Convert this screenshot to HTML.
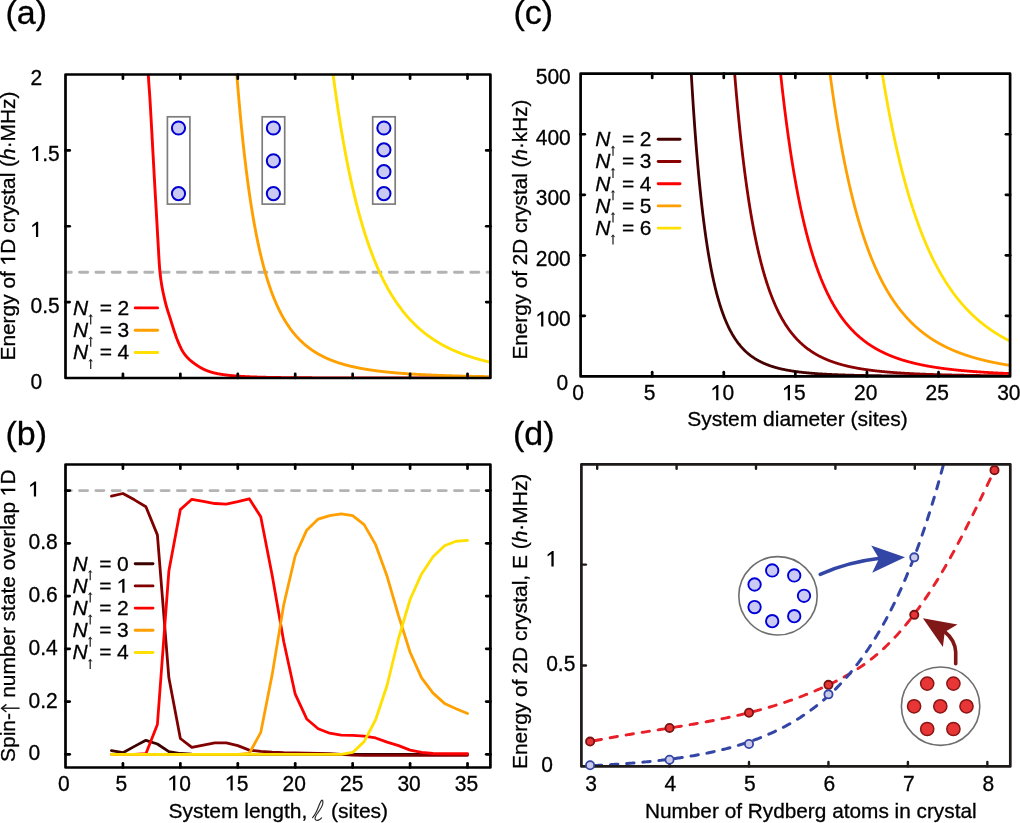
<!DOCTYPE html><html><head><meta charset="utf-8"><style>html,body{margin:0;padding:0;background:#fff;width:1020px;height:823px;overflow:hidden}</style></head><body><svg width="1020" height="823" viewBox="0 0 1020 823" style="display:block;will-change:transform">
<rect width="1020" height="823" fill="#fff"/>
<defs><clipPath id="ca"><rect x="65.5" y="74.5" width="424.9" height="303.5"/></clipPath><clipPath id="cb"><rect x="65.5" y="464.5" width="424.9" height="303.0"/></clipPath><clipPath id="cc"><rect x="580.6" y="73.7" width="429.5" height="302.7"/></clipPath><clipPath id="cd"><rect x="581.4" y="464.3" width="428.9" height="302.09999999999997"/></clipPath></defs>
<text x="5.50" y="24.40" font-family="'Liberation Sans', sans-serif" font-size="34" fill="#000" text-anchor="start" stroke="#000" stroke-width="0.3" >(a)</text>
<text x="5.50" y="444.90" font-family="'Liberation Sans', sans-serif" font-size="34" fill="#000" text-anchor="start" stroke="#000" stroke-width="0.3" >(b)</text>
<text x="513.50" y="24.20" font-family="'Liberation Sans', sans-serif" font-size="34" fill="#000" text-anchor="start" stroke="#000" stroke-width="0.3" >(c)</text>
<text x="513.00" y="444.90" font-family="'Liberation Sans', sans-serif" font-size="34" fill="#000" text-anchor="start" stroke="#000" stroke-width="0.3" >(d)</text>
<line x1="66.9" y1="272.2" x2="489.0" y2="272.2" stroke="#b3b3b3" stroke-width="2.9" stroke-dasharray="8.1 8.2" stroke-dashoffset="3.65" stroke-linecap="round"/>
<g clip-path="url(#ca)" fill="none" stroke-width="2.9" stroke-linejoin="round">
<path d="M146.65,30.13 L146.83,36.32 L147.02,42.19 L147.21,47.74 L147.39,52.98 L147.58,57.92 L147.77,62.56 L147.95,66.91 L148.14,70.97 L148.33,74.75 L148.51,78.16 L148.70,81.21 L148.89,83.99 L149.07,86.60 L149.26,89.13 L149.45,91.66 L149.63,94.28 L149.82,97.06 L150.01,100.08 L150.19,103.25 L150.38,106.46 L150.57,109.71 L150.75,112.98 L150.94,116.27 L151.13,119.59 L151.31,122.93 L151.50,126.28 L151.69,129.65 L151.87,133.03 L152.06,136.43 L152.25,139.83 L152.44,143.23 L152.62,146.64 L152.81,150.05 L153.00,153.46 L153.18,156.86 L153.37,160.26 L153.56,163.65 L153.74,167.04 L153.93,170.41 L154.12,173.77 L154.30,177.11 L154.49,180.44 L154.68,183.75 L154.86,187.04 L155.05,190.31 L155.24,193.56 L155.42,196.79 L155.61,199.99 L155.80,203.16 L155.98,206.31 L156.17,209.43 L156.36,212.57 L156.54,215.83 L156.73,219.16 L156.92,222.54 L157.10,225.94 L157.29,229.32 L157.48,232.67 L157.66,235.95 L157.85,239.15 L158.04,242.31 L158.22,245.57 L158.41,248.88 L158.60,252.19 L158.78,255.44 L158.97,258.58 L159.16,261.57 L159.34,264.38 L159.53,266.96 L159.72,269.29 L159.90,271.34 L160.09,273.12 L160.28,274.77 L160.46,276.34 L160.65,277.83 L160.84,279.25 L161.03,280.60 L161.21,281.89 L161.40,283.12 L161.59,284.30 L161.77,285.43 L161.96,286.52 L162.15,287.56 L162.33,288.57 L162.52,289.55 L162.71,290.49 L162.89,291.41 L163.08,292.31 L163.27,293.19 L163.45,294.05 L163.64,294.90 L163.83,295.74 L164.01,296.56 L164.20,297.39 L164.39,298.20 L164.57,299.02 L164.76,299.84 L164.95,300.65 L165.13,301.44 L165.32,302.21 L165.51,302.96 L165.69,303.69 L165.88,304.40 L166.07,305.09 L166.25,305.77 L166.44,306.43 L166.63,307.09 L166.81,307.73 L167.00,308.36 L167.19,308.98 L167.37,309.59 L167.56,310.19 L167.75,310.79 L167.93,311.39 L168.12,311.97 L168.31,312.56 L168.49,313.14 L168.68,313.72 L168.87,314.30 L169.05,314.87 L169.24,315.45 L169.43,316.03 L169.62,316.61 L169.80,317.19 L169.99,317.77 L170.18,318.36 L170.36,318.95 L170.55,319.55 L170.74,320.15 L170.92,320.75 L171.11,321.35 L171.30,321.96 L171.48,322.56 L171.67,323.17 L171.86,323.77 L172.04,324.37 L172.23,324.97 L172.42,325.57 L172.60,326.17 L172.79,326.76 L172.98,327.35 L173.16,327.94 L173.35,328.52 L173.54,329.10 L173.72,329.68 L173.91,330.25 L174.10,330.81 L174.28,331.37 L174.47,331.93 L174.66,332.48 L174.84,333.02 L175.03,333.56 L175.22,334.09 L175.40,334.62 L175.59,335.14 L175.78,335.66 L175.96,336.17 L176.15,336.69 L176.34,337.20 L176.52,337.71 L176.71,338.21 L176.90,338.71 L177.08,339.21 L177.27,339.70 L177.46,340.18 L177.65,340.66 L177.83,341.13 L178.02,341.60 L178.21,342.06 L178.39,342.51 L178.58,342.96 L178.77,343.40 L178.95,343.83 L179.14,344.26 L179.33,344.68 L179.51,345.09 L179.70,345.51 L179.89,345.92 L180.07,346.33 L180.26,346.73 L180.45,347.12 L180.63,347.52 L180.82,347.90 L181.01,348.28 L181.19,348.65 L181.38,349.01 L181.57,349.37 L181.75,349.72 L181.94,350.06 L182.13,350.39 L182.31,350.72 L182.50,351.03 L182.69,351.34 L182.87,351.64 L183.06,351.93 L183.25,352.22 L183.43,352.50 L183.62,352.78 L183.81,353.05 L183.99,353.32 L184.18,353.58 L184.37,353.84 L184.55,354.10 L184.74,354.34 L184.93,354.59 L185.11,354.83 L185.30,355.07 L185.49,355.30 L185.67,355.53 L185.86,355.76 L186.05,355.98 L186.24,356.20 L186.42,356.42 L186.61,356.63 L186.80,356.85 L186.98,357.05 L187.17,357.26 L187.36,357.47 L187.54,357.67 L187.73,357.87 L187.92,358.06 L188.10,358.26 L188.29,358.45 L188.48,358.64 L188.66,358.82 L188.85,359.00 L189.04,359.18 L189.22,359.36 L189.41,359.53 L189.60,359.70 L189.78,359.87 L189.97,360.04 L190.16,360.21 L190.34,360.37 L190.53,360.53 L190.72,360.69 L190.90,360.84 L191.09,361.00 L191.28,361.15 L191.46,361.31 L191.65,361.46 L191.84,361.60 L192.02,361.75 L192.21,361.90 L192.40,362.04 L192.58,362.19 L192.77,362.33 L192.96,362.47 L193.14,362.61 L193.33,362.75 L193.52,362.89 L193.70,363.03 L193.89,363.17 L194.08,363.30 L194.27,363.44 L194.45,363.57 L194.64,363.71 L194.83,363.84 L195.01,363.97 L195.20,364.11 L195.39,364.24 L195.57,364.37 L195.76,364.50 L195.95,364.63 L196.13,364.76 L196.32,364.89 L196.51,365.02 L196.69,365.15 L196.88,365.27 L197.07,365.40 L197.25,365.52 L197.44,365.65 L197.63,365.77 L197.81,365.89 L198.00,366.02 L198.19,366.14 L198.37,366.26 L198.56,366.38 L198.75,366.49 L198.93,366.61 L199.12,366.73 L199.31,366.84 L199.49,366.96 L199.68,367.07 L199.87,367.18 L200.05,367.29 L200.24,367.40 L200.43,367.51 L200.61,367.62 L200.80,367.73 L200.99,367.83 L201.17,367.94 L201.36,368.04 L201.55,368.15 L201.73,368.25 L201.92,368.35 L202.11,368.45 L202.29,368.55 L202.48,368.64 L202.67,368.74 L202.86,368.83 L203.04,368.93 L203.23,369.02 L203.42,369.11 L203.60,369.20 L203.79,369.29 L203.98,369.38 L204.16,369.47 L204.35,369.56 L204.54,369.64 L204.72,369.73 L204.91,369.81 L205.10,369.89 L205.28,369.97 L205.47,370.05 L205.66,370.13 L205.84,370.21 L206.03,370.28 L206.22,370.36 L206.40,370.43 L206.59,370.51 L206.78,370.58 L206.96,370.65 L207.15,370.73 L207.34,370.80 L207.52,370.87 L207.71,370.94 L207.90,371.00 L208.08,371.07 L208.27,371.14 L208.46,371.21 L208.64,371.27 L208.83,371.34 L209.02,371.40 L209.20,371.46 L209.39,371.53 L209.58,371.59 L209.76,371.65 L209.95,371.71 L210.14,371.77 L210.32,371.83 L210.51,371.89 L210.70,371.95 L210.88,372.01 L211.07,372.06 L211.26,372.12 L211.45,372.18 L211.63,372.23 L211.82,372.29 L212.01,372.34 L212.19,372.39 L212.38,372.45 L212.57,372.50 L212.75,372.55 L212.94,372.60 L213.13,372.65 L213.31,372.70 L213.50,372.75 L213.69,372.80 L213.87,372.85 L214.06,372.90 L214.25,372.95 L214.43,372.99 L214.62,373.04 L214.81,373.09 L214.99,373.13 L215.18,373.17 L215.37,373.21 L215.55,373.25 L215.74,373.29 L215.93,373.33 L216.11,373.37 L216.30,373.41 L216.49,373.45 L216.67,373.49 L216.86,373.52 L217.05,373.56 L217.23,373.60 L217.42,373.63 L217.61,373.67 L217.79,373.71 L217.98,373.74 L218.17,373.78 L218.35,373.81 L218.54,373.85 L218.73,373.88 L218.91,373.91 L219.10,373.95 L219.29,373.98 L219.48,374.01 L219.66,374.04 L219.85,374.08 L220.04,374.11 L220.22,374.14 L220.41,374.17 L220.60,374.20 L220.78,374.23 L220.97,374.26 L221.16,374.29 L221.34,374.32 L221.53,374.35 L221.72,374.38 L221.90,374.41 L222.09,374.44 L222.28,374.47 L222.46,374.50 L222.65,374.52 L222.84,374.55 L223.02,374.58 L223.21,374.61 L223.40,374.63 L223.58,374.66 L223.77,374.69 L223.96,374.71 L224.14,374.74 L224.33,374.77 L224.52,374.79 L224.70,374.82 L224.89,374.84 L225.08,374.87 L225.26,374.89 L225.45,374.91 L225.64,374.94 L225.82,374.96 L226.01,374.99 L226.20,375.01 L226.38,375.03 L226.57,375.06 L226.76,375.08 L226.94,375.10 L227.13,375.12 L227.32,375.15 L227.50,375.17 L227.69,375.19 L227.88,375.21 L228.07,375.23 L228.25,375.25 L228.44,375.28 L228.63,375.30 L228.81,375.32 L229.00,375.34 L229.19,375.36 L229.37,375.38 L229.56,375.40 L229.75,375.42 L229.93,375.44 L230.12,375.46 L230.31,375.48 L230.49,375.50 L230.68,375.51 L230.87,375.53 L231.05,375.55 L231.24,375.57 L231.43,375.59 L231.61,375.61 L231.80,375.63 L231.99,375.64 L232.17,375.66 L232.36,375.68 L232.55,375.70 L232.73,375.71 L232.92,375.73 L233.11,375.75 L233.29,375.76 L233.48,375.78 L233.67,375.80 L233.85,375.81 L234.04,375.83 L234.23,375.85 L234.41,375.86 L234.60,375.88 L234.79,375.89 L234.97,375.91 L235.16,375.92 L235.35,375.94 L235.53,375.95 L235.72,375.97 L235.91,375.98 L236.09,376.00 L236.28,376.01 L236.47,376.03 L236.66,376.04 L236.84,376.06 L237.03,376.07 L237.22,376.08 L237.40,376.10 L237.59,376.11 L237.78,376.13 L237.96,376.14 L238.15,376.15 L238.34,376.17 L238.52,376.18 L238.71,376.19 L238.90,376.21 L239.08,376.22 L239.27,376.23 L239.46,376.24 L239.64,376.26 L239.83,376.27 L240.02,376.28 L240.20,376.29 L240.39,376.31 L240.58,376.32 L240.76,376.33 L240.95,376.34 L241.14,376.35 L241.32,376.36 L241.51,376.38 L241.70,376.39 L241.88,376.40 L242.07,376.41 L242.26,376.42 L242.44,376.43 L242.63,376.44 L242.82,376.45 L243.00,376.47 L243.19,376.48 L243.38,376.49 L243.56,376.50 L243.75,376.51 L243.94,376.52 L244.12,376.53 L244.31,376.54 L244.50,376.55 L244.69,376.56 L244.87,376.57 L245.06,376.58 L245.25,376.59 L245.43,376.60 L245.62,376.61 L245.81,376.62 L245.99,376.63 L246.18,376.64 L246.37,376.65 L246.55,376.66 L246.74,376.67 L246.93,376.67 L247.11,376.68 L247.30,376.69 L247.49,376.70 L247.67,376.71 L247.86,376.72 L248.05,376.73 L248.23,376.74 L248.42,376.74 L248.61,376.75 L248.79,376.76 L248.98,376.77 L249.17,376.78 L249.35,376.79 L249.54,376.79 L249.73,376.80 L249.91,376.81 L250.10,376.82 L250.29,376.83 L250.47,376.84 L250.66,376.84 L250.85,376.85 L251.03,376.86 L251.22,376.87 L251.41,376.87 L251.59,376.88 L251.78,376.89 L251.97,376.90 L252.15,376.90 L252.34,376.91 L252.53,376.92 L252.71,376.92 L252.90,376.93 L253.09,376.94 L253.28,376.95 L253.46,376.95 L253.65,376.96 L253.84,376.97 L254.02,376.97 L254.21,376.98 L254.40,376.99 L254.58,376.99 L254.77,377.00 L254.96,377.01 L255.14,377.01 L255.33,377.02 L255.52,377.03 L255.70,377.03 L255.89,377.04 L256.08,377.05 L256.26,377.05 L256.45,377.06 L256.64,377.06 L256.82,377.07 L257.01,377.08 L257.20,377.08 L257.38,377.09 L257.57,377.09 L257.76,377.10 L257.94,377.11 L258.13,377.11 L258.32,377.12 L258.50,377.12 L258.69,377.13 L258.88,377.13 L259.06,377.14 L259.25,377.14 L259.44,377.15 L259.62,377.16 L259.81,377.16 L260.00,377.17 L260.18,377.17 L260.37,377.18 L260.56,377.18 L260.74,377.19 L260.93,377.19 L261.12,377.20 L261.30,377.20 L261.49,377.21 L261.68,377.21 L261.87,377.22 L262.05,377.22 L262.24,377.23 L262.43,377.23 L262.61,377.24 L262.80,377.24 L262.99,377.25 L263.17,377.25 L263.36,377.26 L263.55,377.26 L263.73,377.27 L263.92,377.27 L264.11,377.27 L264.29,377.28 L264.48,377.28 L264.67,377.29 L264.85,377.29 L265.04,377.30 L265.23,377.30 L265.41,377.31 L265.60,377.31 L265.79,377.31 L265.97,377.32 L266.16,377.32 L266.35,377.33 L266.53,377.33 L266.72,377.33 L266.91,377.34 L267.09,377.34 L267.28,377.35 L267.47,377.35 L267.65,377.36 L267.84,377.36 L268.03,377.36 L268.21,377.37 L268.40,377.37 L268.59,377.37 L268.77,377.38 L268.96,377.38 L269.15,377.39 L269.33,377.39 L269.52,377.39 L269.71,377.40 L269.90,377.40 L270.08,377.40 L270.27,377.41 L270.46,377.41 L270.64,377.41 L270.83,377.42 L271.02,377.42 L271.20,377.43 L271.39,377.43 L271.58,377.43 L271.76,377.44 L271.95,377.44 L272.14,377.44 L272.32,377.45 L272.51,377.45 L272.70,377.45 L272.88,377.46 L273.07,377.46 L273.26,377.46 L273.44,377.47 L273.63,377.47 L273.82,377.47 L274.00,377.47 L274.19,377.48 L274.38,377.48 L274.56,377.48 L274.75,377.49 L274.94,377.49 L275.12,377.49 L275.31,377.50 L275.50,377.50 L275.68,377.50 L275.87,377.50 L276.06,377.51 L276.24,377.51 L276.43,377.51 L276.62,377.52 L276.80,377.52 L276.99,377.52 L277.18,377.52 L277.36,377.53 L277.55,377.53 L277.74,377.53 L277.92,377.54 L278.11,377.54 L278.30,377.54 L278.49,377.54 L278.67,377.55 L278.86,377.55 L279.05,377.55 L279.23,377.55 L279.42,377.56 L279.61,377.56 L279.79,377.56 L279.98,377.56 L280.17,377.57 L280.35,377.57 L280.54,377.57 L280.73,377.57 L280.91,377.58 L281.10,377.58 L281.29,377.58 L281.47,377.58 L281.66,377.59 L281.85,377.59 L282.03,377.59 L282.22,377.59 L282.41,377.60 L282.59,377.60 L282.78,377.60 L282.97,377.60 L283.15,377.60 L283.34,377.61 L283.53,377.61 L283.71,377.61 L283.90,377.61 L284.09,377.62 L284.27,377.62 L284.46,377.62 L284.65,377.62 L284.83,377.62 L285.02,377.63 L285.21,377.63 L285.39,377.63 L285.58,377.63 L285.77,377.63 L285.95,377.64 L286.14,377.64 L286.33,377.64 L286.52,377.64 L286.70,377.64 L286.89,377.65 L287.08,377.65 L287.26,377.65 L287.45,377.65 L287.64,377.65 L287.82,377.66 L288.01,377.66 L288.20,377.66 L288.38,377.66 L288.57,377.66 L288.76,377.67 L288.94,377.67 L289.13,377.67 L289.32,377.67 L289.50,377.67 L289.69,377.68 L289.88,377.68 L290.06,377.68 L290.25,377.68 L290.44,377.68 L290.62,377.68 L290.81,377.69 L291.00,377.69 L291.18,377.69 L291.37,377.69 L291.56,377.69 L291.74,377.69 L291.93,377.70 L292.12,377.70 L292.30,377.70 L292.49,377.70 L292.68,377.70 L292.86,377.70 L293.05,377.71 L293.24,377.71 L293.42,377.71 L293.61,377.71 L293.80,377.71 L293.98,377.71 L294.17,377.71 L294.36,377.72 L294.54,377.72 L294.73,377.72 L294.92,377.72 L295.11,377.72 L295.29,377.72 L295.48,377.73 L295.67,377.73 L295.85,377.73 L296.04,377.73 L296.23,377.73 L296.41,377.73 L296.60,377.73 L296.79,377.74 L296.97,377.74 L297.16,377.74 L297.35,377.74 L297.53,377.74 L297.72,377.74 L297.91,377.74 L298.09,377.75 L298.28,377.75 L298.47,377.75 L298.65,377.75 L298.84,377.75 L299.03,377.75 L299.21,377.75 L299.40,377.75 L299.59,377.76 L299.77,377.76 L299.96,377.76 L300.15,377.76 L300.33,377.76 L300.52,377.76 L300.71,377.76 L300.89,377.76 L301.08,377.77 L301.27,377.77 L301.45,377.77 L301.64,377.77 L301.83,377.77 L302.01,377.77 L302.20,377.77 L302.39,377.77 L302.57,377.78 L302.76,377.78 L302.95,377.78 L303.13,377.78 L303.32,377.78 L303.51,377.78 L303.70,377.78 L303.88,377.78 L304.07,377.78 L304.26,377.79 L304.44,377.79 L304.63,377.79 L304.82,377.79 L305.00,377.79 L305.19,377.79 L305.38,377.79 L305.56,377.79 L305.75,377.79 L305.94,377.80 L306.12,377.80 L306.31,377.80 L306.50,377.80 L306.68,377.80 L306.87,377.80 L307.06,377.80 L307.24,377.80 L307.43,377.80 L307.62,377.80 L307.80,377.81 L307.99,377.81 L308.18,377.81 L308.36,377.81 L308.55,377.81 L308.74,377.81 L308.92,377.81 L309.11,377.81 L309.30,377.81 L309.48,377.81 L309.67,377.82 L309.86,377.82 L310.04,377.82 L310.23,377.82 L310.42,377.82 L310.60,377.82 L310.79,377.82 L310.98,377.82 L311.16,377.82 L311.35,377.82 L311.54,377.82 L311.73,377.82 L311.91,377.83 L312.10,377.83 L312.29,377.83 L312.47,377.83 L312.66,377.83 L312.85,377.83 L313.03,377.83 L313.22,377.83 L313.41,377.83 L313.59,377.83 L313.78,377.83 L313.97,377.84 L314.15,377.84 L314.34,377.84 L314.53,377.84 L314.71,377.84 L314.90,377.84 L315.09,377.84 L315.27,377.84 L315.46,377.84 L315.65,377.84 L315.83,377.84 L316.02,377.84 L316.21,377.84 L316.39,377.85 L316.58,377.85 L316.77,377.85 L316.95,377.85 L317.14,377.85 L317.33,377.85 L317.51,377.85 L317.70,377.85 L317.89,377.85 L318.07,377.85 L318.26,377.85 L318.45,377.85 L318.63,377.85 L318.82,377.85 L319.01,377.86 L319.19,377.86 L319.38,377.86 L319.57,377.86 L319.75,377.86 L319.94,377.86 L320.13,377.86 L320.32,377.86 L320.50,377.86 L320.69,377.86 L320.88,377.86 L321.06,377.86 L321.25,377.86 L321.44,377.86 L321.62,377.86 L321.81,377.87 L322.00,377.87 L322.18,377.87 L322.37,377.87 L322.56,377.87 L322.74,377.87 L322.93,377.87 L323.12,377.87 L323.30,377.87 L323.49,377.87 L323.68,377.87 L323.86,377.87 L324.05,377.87 L324.24,377.87 L324.42,377.87 L324.61,377.87 L324.80,377.88 L324.98,377.88 L325.17,377.88 L325.36,377.88 L325.54,377.88 L325.73,377.88 L325.92,377.88 L326.10,377.88 L326.29,377.88 L326.48,377.88 L326.66,377.88 L326.85,377.88 L327.04,377.88 L327.22,377.88 L327.41,377.88 L327.60,377.88 L327.78,377.88 L327.97,377.89 L328.16,377.89 L328.34,377.89 L328.53,377.89 L328.72,377.89 L328.91,377.89 L329.09,377.89 L329.28,377.89 L329.47,377.89 L329.65,377.89 L329.84,377.89 L330.03,377.89 L330.21,377.89 L330.40,377.89 L330.59,377.89 L330.77,377.89 L330.96,377.89 L331.15,377.89 L331.33,377.89 L331.52,377.89 L331.71,377.90 L331.89,377.90 L332.08,377.90 L332.27,377.90 L332.45,377.90 L332.64,377.90 L332.83,377.90 L333.01,377.90 L333.20,377.90 L333.39,377.90 L333.57,377.90 L333.76,377.90 L333.95,377.90 L334.13,377.90 L334.32,377.90 L334.51,377.90 L334.69,377.90 L334.88,377.90 L335.07,377.90 L335.25,377.90 L335.44,377.90 L335.63,377.90 L335.81,377.91 L336.00,377.91 L336.19,377.91 L336.37,377.91 L336.56,377.91 L336.75,377.91 L336.94,377.91 L337.12,377.91 L337.31,377.91 L337.50,377.91 L337.68,377.91 L337.87,377.91 L338.06,377.91 L338.24,377.91 L338.43,377.91 L338.62,377.91 L338.80,377.91 L338.99,377.91 L339.18,377.91 L339.36,377.91 L339.55,377.91 L339.74,377.91 L339.92,377.91 L340.11,377.91 L340.30,377.91 L340.48,377.92 L340.67,377.92 L340.86,377.92 L341.04,377.92 L341.23,377.92 L341.42,377.92 L341.60,377.92 L341.79,377.92 L341.98,377.92 L342.16,377.92 L342.35,377.92 L342.54,377.92 L342.72,377.92 L342.91,377.92 L343.10,377.92 L343.28,377.92 L343.47,377.92 L343.66,377.92 L343.84,377.92 L344.03,377.92 L344.22,377.92 L344.40,377.92 L344.59,377.92 L344.78,377.92 L344.96,377.92 L345.15,377.92 L345.34,377.92 L345.53,377.92 L345.71,377.93 L345.90,377.93 L346.09,377.93 L346.27,377.93 L346.46,377.93 L346.65,377.93 L346.83,377.93 L347.02,377.93 L347.21,377.93 L347.39,377.93 L347.58,377.93 L347.77,377.93 L347.95,377.93 L348.14,377.93 L348.33,377.93 L348.51,377.93 L348.70,377.93 L348.89,377.93 L349.07,377.93 L349.26,377.93 L349.45,377.93 L349.63,377.93 L349.82,377.93 L350.01,377.93 L350.19,377.93 L350.38,377.93 L350.57,377.93 L350.75,377.93 L350.94,377.93 L351.13,377.93 L351.31,377.93 L351.50,377.93 L351.69,377.93 L351.87,377.94 L352.06,377.94 L352.25,377.94 L352.43,377.94 L352.62,377.94 L352.81,377.94 L352.99,377.94 L353.18,377.94 L353.37,377.94 L353.55,377.94 L353.74,377.94 L353.93,377.94 L354.12,377.94 L354.30,377.94 L354.49,377.94 L354.68,377.94 L354.86,377.94 L355.05,377.94 L355.24,377.94 L355.42,377.94 L355.61,377.94 L355.80,377.94 L355.98,377.94 L356.17,377.94 L356.36,377.94 L356.54,377.94 L356.73,377.94 L356.92,377.94 L357.10,377.94 L357.29,377.94 L357.48,377.94 L357.66,377.94 L357.85,377.94 L358.04,377.94 L358.22,377.94 L358.41,377.94 L358.60,377.94 L358.78,377.94 L358.97,377.94 L359.16,377.94 L359.34,377.95 L359.53,377.95 L359.72,377.95 L359.90,377.95 L360.09,377.95 L360.28,377.95 L360.46,377.95 L360.65,377.95 L360.84,377.95 L361.02,377.95 L361.21,377.95 L361.40,377.95 L361.58,377.95 L361.77,377.95 L361.96,377.95 L362.15,377.95 L362.33,377.95 L362.52,377.95 L362.71,377.95 L362.89,377.95 L363.08,377.95 L363.27,377.95 L363.45,377.95 L363.64,377.95 L363.83,377.95 L364.01,377.95 L364.20,377.95 L364.39,377.95 L364.57,377.95 L364.76,377.95 L364.95,377.95 L365.13,377.95 L365.32,377.95 L365.51,377.95 L365.69,377.95 L365.88,377.95 L366.07,377.95 L366.25,377.95 L366.44,377.95 L366.63,377.95 L366.81,377.95 L367.00,377.95 L367.19,377.95 L367.37,377.95 L367.56,377.95 L367.75,377.95 L367.93,377.95 L368.12,377.95 L368.31,377.95 L368.49,377.96 L368.68,377.96 L368.87,377.96 L369.05,377.96 L369.24,377.96 L369.43,377.96 L369.61,377.96 L369.80,377.96 L369.99,377.96 L370.17,377.96 L370.36,377.96 L370.55,377.96 L370.74,377.96 L370.92,377.96 L371.11,377.96 L371.30,377.96 L371.48,377.96 L371.67,377.96 L371.86,377.96 L372.04,377.96 L372.23,377.96 L372.42,377.96 L372.60,377.96 L372.79,377.96 L372.98,377.96 L373.16,377.96 L373.35,377.96 L373.54,377.96 L373.72,377.96 L373.91,377.96 L374.10,377.96 L374.28,377.96 L374.47,377.96 L374.66,377.96 L374.84,377.96 L375.03,377.96 L375.22,377.96 L375.40,377.96 L375.59,377.96 L375.78,377.96 L375.96,377.96 L376.15,377.96 L376.34,377.96 L376.52,377.96 L376.71,377.96 L376.90,377.96 L377.08,377.96 L377.27,377.96 L377.46,377.96 L377.64,377.96 L377.83,377.96 L378.02,377.96 L378.20,377.96 L378.39,377.96 L378.58,377.96 L378.76,377.96 L378.95,377.96 L379.14,377.96 L379.33,377.96 L379.51,377.96 L379.70,377.96 L379.89,377.96 L380.07,377.96 L380.26,377.96 L380.45,377.97 L380.63,377.97 L380.82,377.97 L381.01,377.97 L381.19,377.97 L381.38,377.97 L381.57,377.97 L381.75,377.97 L381.94,377.97 L382.13,377.97 L382.31,377.97 L382.50,377.97 L382.69,377.97 L382.87,377.97 L383.06,377.97 L383.25,377.97 L383.43,377.97 L383.62,377.97 L383.81,377.97 L383.99,377.97 L384.18,377.97 L384.37,377.97 L384.55,377.97 L384.74,377.97 L384.93,377.97 L385.11,377.97 L385.30,377.97 L385.49,377.97 L385.67,377.97 L385.86,377.97 L386.05,377.97 L386.23,377.97 L386.42,377.97 L386.61,377.97 L386.79,377.97 L386.98,377.97 L387.17,377.97 L387.36,377.97 L387.54,377.97 L387.73,377.97 L387.92,377.97 L388.10,377.97 L388.29,377.97 L388.48,377.97 L388.66,377.97 L388.85,377.97 L389.04,377.97 L389.22,377.97 L389.41,377.97 L389.60,377.97 L389.78,377.97 L389.97,377.97 L390.16,377.97 L390.34,377.97 L390.53,377.97 L390.72,377.97 L390.90,377.97 L391.09,377.97 L391.28,377.97 L391.46,377.97 L391.65,377.97 L391.84,377.97 L392.02,377.97 L392.21,377.97 L392.40,377.97 L392.58,377.97 L392.77,377.97 L392.96,377.97 L393.14,377.97 L393.33,377.97 L393.52,377.97 L393.70,377.97 L393.89,377.97 L394.08,377.97 L394.26,377.97 L394.45,377.97 L394.64,377.97 L394.82,377.97 L395.01,377.97 L395.20,377.97 L395.38,377.97 L395.57,377.97 L395.76,377.97 L395.95,377.97 L396.13,377.97 L396.32,377.97 L396.51,377.97 L396.69,377.97 L396.88,377.97 L397.07,377.98 L397.25,377.98 L397.44,377.98 L397.63,377.98 L397.81,377.98 L398.00,377.98 L398.19,377.98 L398.37,377.98 L398.56,377.98 L398.75,377.98 L398.93,377.98 L399.12,377.98 L399.31,377.98 L399.49,377.98 L399.68,377.98 L399.87,377.98 L400.05,377.98 L400.24,377.98 L400.43,377.98 L400.61,377.98 L400.80,377.98 L400.99,377.98 L401.17,377.98 L401.36,377.98 L401.55,377.98 L401.73,377.98 L401.92,377.98 L402.11,377.98 L402.29,377.98 L402.48,377.98 L402.67,377.98 L402.85,377.98 L403.04,377.98 L403.23,377.98 L403.41,377.98 L403.60,377.98 L403.79,377.98 L403.98,377.98 L404.16,377.98 L404.35,377.98 L404.54,377.98 L404.72,377.98 L404.91,377.98 L405.10,377.98 L405.28,377.98 L405.47,377.98 L405.66,377.98 L405.84,377.98 L406.03,377.98 L406.22,377.98 L406.40,377.98 L406.59,377.98 L406.78,377.98 L406.96,377.98 L407.15,377.98 L407.34,377.98 L407.52,377.98 L407.71,377.98 L407.90,377.98 L408.08,377.98 L408.27,377.98 L408.46,377.98 L408.64,377.98 L408.83,377.98 L409.02,377.98 L409.20,377.98 L409.39,377.98 L409.58,377.98 L409.76,377.98 L409.95,377.98 L410.14,377.98 L410.32,377.98 L410.51,377.98 L410.70,377.98 L410.88,377.98 L411.07,377.98 L411.26,377.98 L411.44,377.98 L411.63,377.98 L411.82,377.98 L412.00,377.98 L412.19,377.98 L412.38,377.98 L412.57,377.98 L412.75,377.98 L412.94,377.98 L413.13,377.98 L413.31,377.98 L413.50,377.98 L413.69,377.98 L413.87,377.98 L414.06,377.98 L414.25,377.98 L414.43,377.98 L414.62,377.98 L414.81,377.98 L414.99,377.98 L415.18,377.98 L415.37,377.98 L415.55,377.98 L415.74,377.98 L415.93,377.98 L416.11,377.98 L416.30,377.98 L416.49,377.98 L416.67,377.98 L416.86,377.98 L417.05,377.98 L417.23,377.98 L417.42,377.98 L417.61,377.98 L417.79,377.98 L417.98,377.98 L418.17,377.98 L418.35,377.98 L418.54,377.98 L418.73,377.98 L418.91,377.98 L419.10,377.98 L419.29,377.98 L419.47,377.98 L419.66,377.98 L419.85,377.98 L420.03,377.98 L420.22,377.98 L420.41,377.98 L420.59,377.98 L420.78,377.98 L420.97,377.98 L421.16,377.98 L421.34,377.98 L421.53,377.98 L421.72,377.98 L421.90,377.98 L422.09,377.98 L422.28,377.98 L422.46,377.98 L422.65,377.98 L422.84,377.98 L423.02,377.98 L423.21,377.98 L423.40,377.98 L423.58,377.98 L423.77,377.98 L423.96,377.98 L424.14,377.99 L424.33,377.99 L424.52,377.99 L424.70,377.99 L424.89,377.99 L425.08,377.99 L425.26,377.99 L425.45,377.99 L425.64,377.99 L425.82,377.99 L426.01,377.99 L426.20,377.99 L426.38,377.99 L426.57,377.99 L426.76,377.99 L426.94,377.99 L427.13,377.99 L427.32,377.99 L427.50,377.99 L427.69,377.99 L427.88,377.99 L428.06,377.99 L428.25,377.99 L428.44,377.99 L428.62,377.99 L428.81,377.99 L429.00,377.99 L429.19,377.99 L429.37,377.99 L429.56,377.99 L429.75,377.99 L429.93,377.99 L430.12,377.99 L430.31,377.99 L430.49,377.99 L430.68,377.99 L430.87,377.99 L431.05,377.99 L431.24,377.99 L431.43,377.99 L431.61,377.99 L431.80,377.99 L431.99,377.99 L432.17,377.99 L432.36,377.99 L432.55,377.99 L432.73,377.99 L432.92,377.99 L433.11,377.99 L433.29,377.99 L433.48,377.99 L433.67,377.99 L433.85,377.99 L434.04,377.99 L434.23,377.99 L434.41,377.99 L434.60,377.99 L434.79,377.99 L434.97,377.99 L435.16,377.99 L435.35,377.99 L435.53,377.99 L435.72,377.99 L435.91,377.99 L436.09,377.99 L436.28,377.99 L436.47,377.99 L436.65,377.99 L436.84,377.99 L437.03,377.99 L437.21,377.99 L437.40,377.99 L437.59,377.99 L437.78,377.99 L437.96,377.99 L438.15,377.99 L438.34,377.99 L438.52,377.99 L438.71,377.99 L438.90,377.99 L439.08,377.99 L439.27,377.99 L439.46,377.99 L439.64,377.99 L439.83,377.99 L440.02,377.99 L440.20,377.99 L440.39,377.99 L440.58,377.99 L440.76,377.99 L440.95,377.99 L441.14,377.99 L441.32,377.99 L441.51,377.99 L441.70,377.99 L441.88,377.99 L442.07,377.99 L442.26,377.99 L442.44,377.99 L442.63,377.99 L442.82,377.99 L443.00,377.99 L443.19,377.99 L443.38,377.99 L443.56,377.99 L443.75,377.99 L443.94,377.99 L444.12,377.99 L444.31,377.99 L444.50,377.99 L444.68,377.99 L444.87,377.99 L445.06,377.99 L445.24,377.99 L445.43,377.99 L445.62,377.99 L445.80,377.99 L445.99,377.99 L446.18,377.99 L446.37,377.99 L446.55,377.99 L446.74,377.99 L446.93,377.99 L447.11,377.99 L447.30,377.99 L447.49,377.99 L447.67,377.99 L447.86,377.99 L448.05,377.99 L448.23,377.99 L448.42,377.99 L448.61,377.99 L448.79,377.99 L448.98,377.99 L449.17,377.99 L449.35,377.99 L449.54,377.99 L449.73,377.99 L449.91,377.99 L450.10,377.99 L450.29,377.99 L450.47,377.99 L450.66,377.99 L450.85,377.99 L451.03,377.99 L451.22,377.99 L451.41,377.99 L451.59,377.99 L451.78,377.99 L451.97,377.99 L452.15,377.99 L452.34,377.99 L452.53,377.99 L452.71,377.99 L452.90,377.99 L453.09,377.99 L453.27,377.99 L453.46,377.99 L453.65,377.99 L453.83,377.99 L454.02,377.99 L454.21,377.99 L454.40,377.99 L454.58,377.99 L454.77,377.99 L454.96,377.99 L455.14,377.99 L455.33,377.99 L455.52,377.99 L455.70,377.99 L455.89,377.99 L456.08,377.99 L456.26,377.99 L456.45,377.99 L456.64,377.99 L456.82,377.99 L457.01,377.99 L457.20,377.99 L457.38,377.99 L457.57,377.99 L457.76,377.99 L457.94,377.99 L458.13,377.99 L458.32,377.99 L458.50,377.99 L458.69,377.99 L458.88,377.99 L459.06,377.99 L459.25,377.99 L459.44,377.99 L459.62,377.99 L459.81,377.99 L460.00,377.99 L460.18,377.99 L460.37,377.99 L460.56,377.99 L460.74,377.99 L460.93,377.99 L461.12,377.99 L461.30,377.99 L461.49,377.99 L461.68,377.99 L461.86,377.99 L462.05,377.99 L462.24,377.99 L462.42,377.99 L462.61,377.99 L462.80,377.99 L462.99,377.99 L463.17,377.99 L463.36,377.99 L463.55,377.99 L463.73,377.99 L463.92,377.99 L464.11,377.99 L464.29,377.99 L464.48,377.99 L464.67,377.99 L464.85,377.99 L465.04,377.99 L465.23,377.99 L465.41,377.99 L465.60,377.99 L465.79,377.99 L465.97,377.99 L466.16,377.99 L466.35,377.99 L466.53,377.99 L466.72,377.99 L466.91,377.99 L467.09,377.99 L467.28,377.99 L467.47,377.99 L467.65,377.99 L467.84,377.99 L468.03,377.99 L468.21,377.99 L468.40,377.99 L468.59,377.99 L468.77,377.99 L468.96,377.99 L469.15,377.99 L469.33,377.99 L469.52,377.99 L469.71,377.99 L469.89,377.99 L470.08,377.99 L470.27,377.99 L470.45,377.99 L470.64,377.99 L470.83,377.99 L471.01,377.99 L471.20,377.99 L471.39,377.99 L471.58,377.99 L471.76,377.99 L471.95,377.99 L472.14,377.99 L472.32,377.99 L472.51,377.99 L472.70,377.99 L472.88,377.99 L473.07,377.99 L473.26,377.99 L473.44,377.99 L473.63,377.99 L473.82,377.99 L474.00,377.99 L474.19,377.99 L474.38,377.99 L474.56,377.99 L474.75,377.99 L474.94,377.99 L475.12,377.99 L475.31,377.99 L475.50,377.99 L475.68,377.99 L475.87,377.99 L476.06,377.99 L476.24,377.99 L476.43,377.99 L476.62,377.99 L476.80,377.99 L476.99,377.99 L477.18,377.99 L477.36,377.99 L477.55,377.99 L477.74,377.99 L477.92,377.99 L478.11,377.99 L478.30,377.99 L478.48,377.99 L478.67,377.99 L478.86,377.99 L479.04,377.99 L479.23,377.99 L479.42,377.99 L479.61,377.99 L479.79,377.99 L479.98,377.99 L480.17,377.99 L480.35,377.99 L480.54,377.99 L480.73,377.99 L480.91,377.99 L481.10,377.99 L481.29,377.99 L481.47,377.99 L481.66,377.99 L481.85,377.99 L482.03,377.99 L482.22,377.99 L482.41,377.99 L482.59,377.99 L482.78,377.99 L482.97,377.99 L483.15,377.99 L483.34,377.99 L483.53,377.99 L483.71,377.99 L483.90,377.99 L484.09,377.99 L484.27,377.99 L484.46,377.99 L484.65,377.99 L484.83,377.99 L485.02,377.99 L485.21,377.99 L485.39,377.99 L485.58,377.99 L485.77,377.99 L485.95,377.99 L486.14,377.99 L486.33,377.99 L486.51,377.99 L486.70,377.99 L486.89,377.99 L487.07,377.99 L487.26,377.99 L487.45,377.99 L487.63,377.99 L487.82,377.99 L488.01,377.99 L488.20,377.99 L488.38,377.99 L488.57,377.99 L488.76,377.99 L488.94,377.99 L489.13,377.99 L489.32,377.99 L489.50,377.99 L489.69,377.99 L489.88,377.99 L490.06,377.99 L490.25,378.00 L490.44,378.00 L490.62,378.00 L490.81,378.00 L491.00,378.00 L491.18,378.00 L491.37,378.00 L491.56,378.00 L491.74,378.00 L491.93,378.00 L492.12,378.00 L492.30,378.00 L492.49,378.00 L492.68,378.00 L492.86,378.00 L493.05,378.00 L493.24,378.00 L493.42,378.00 L493.61,378.00 L493.80,378.00 L493.98,378.00 L494.17,378.00 L494.36,378.00 L494.54,378.00 L494.73,378.00 L494.92,378.00 L495.10,378.00 L495.29,378.00 L495.48,378.00 L495.66,378.00 L495.85,378.00 L496.04,378.00 L496.23,378.00" stroke="#ff0000"/>
<path d="M233.67,30.89 L233.85,33.68 L234.04,36.44 L234.23,39.17 L234.41,41.87 L234.60,44.55 L234.79,47.20 L234.97,49.83 L235.16,52.43 L235.35,55.00 L235.53,57.55 L235.72,60.08 L235.91,62.58 L236.09,65.06 L236.28,67.51 L236.47,69.95 L236.66,72.35 L236.84,74.74 L237.03,77.10 L237.22,79.44 L237.40,81.75 L237.59,84.05 L237.78,86.32 L237.96,88.57 L238.15,90.81 L238.34,93.01 L238.52,95.20 L238.71,97.37 L238.90,99.52 L239.08,101.65 L239.27,103.76 L239.46,105.84 L239.64,107.91 L239.83,109.96 L240.02,111.99 L240.20,114.00 L240.39,116.00 L240.58,117.97 L240.76,119.93 L240.95,121.87 L241.14,123.79 L241.32,125.69 L241.51,127.58 L241.70,129.45 L241.88,131.30 L242.07,133.13 L242.26,134.95 L242.44,136.75 L242.63,138.54 L242.82,140.31 L243.00,142.06 L243.19,143.80 L243.38,145.52 L243.56,147.23 L243.75,148.92 L243.94,150.59 L244.12,152.26 L244.31,153.90 L244.50,155.53 L244.69,157.15 L244.87,158.75 L245.06,160.34 L245.25,161.92 L245.43,163.48 L245.62,165.02 L245.81,166.56 L245.99,168.08 L246.18,169.58 L246.37,171.07 L246.55,172.55 L246.74,174.02 L246.93,175.48 L247.11,176.92 L247.30,178.35 L247.49,179.76 L247.67,181.17 L247.86,182.56 L248.05,183.94 L248.23,185.31 L248.42,186.66 L248.61,188.01 L248.79,189.34 L248.98,190.66 L249.17,191.97 L249.35,193.27 L249.54,194.56 L249.73,195.84 L249.91,197.11 L250.10,198.36 L250.29,199.61 L250.47,200.84 L250.66,202.06 L250.85,203.28 L251.03,204.48 L251.22,205.67 L251.41,206.86 L251.59,208.03 L251.78,209.19 L251.97,210.35 L252.15,211.49 L252.34,212.63 L252.53,213.75 L252.71,214.87 L252.90,215.98 L253.09,217.07 L253.28,218.16 L253.46,219.24 L253.65,220.31 L253.84,221.37 L254.02,222.42 L254.21,223.47 L254.40,224.50 L254.58,225.53 L254.77,226.55 L254.96,227.56 L255.14,228.56 L255.33,229.56 L255.52,230.54 L255.70,231.52 L255.89,232.49 L256.08,233.45 L256.26,234.41 L256.45,235.35 L256.64,236.29 L256.82,237.23 L257.01,238.15 L257.20,239.07 L257.38,239.98 L257.57,240.88 L257.76,241.77 L257.94,242.66 L258.13,243.54 L258.32,244.41 L258.50,245.28 L258.69,246.14 L258.88,246.99 L259.06,247.84 L259.25,248.68 L259.44,249.51 L259.62,250.34 L259.81,251.16 L260.00,251.97 L260.18,252.78 L260.37,253.58 L260.56,254.37 L260.74,255.16 L260.93,255.95 L261.12,256.72 L261.30,257.49 L261.49,258.26 L261.68,259.01 L261.87,259.77 L262.05,260.51 L262.24,261.25 L262.43,261.99 L262.61,262.72 L262.80,263.44 L262.99,264.16 L263.17,264.87 L263.36,265.58 L263.55,266.28 L263.73,266.98 L263.92,267.67 L264.11,268.36 L264.29,269.04 L264.48,269.71 L264.67,270.38 L264.85,271.05 L265.04,271.71 L265.23,272.36 L265.41,273.01 L265.60,273.66 L265.79,274.30 L265.97,274.94 L266.16,275.57 L266.35,276.19 L266.53,276.82 L266.72,277.43 L266.91,278.04 L267.09,278.65 L267.28,279.26 L267.47,279.86 L267.65,280.45 L267.84,281.04 L268.03,281.63 L268.21,282.21 L268.40,282.78 L268.59,283.36 L268.77,283.93 L268.96,284.49 L269.15,285.05 L269.33,285.61 L269.52,286.16 L269.71,286.71 L269.90,287.25 L270.08,287.79 L270.27,288.33 L270.46,288.86 L270.64,289.39 L270.83,289.91 L271.02,290.43 L271.20,290.95 L271.39,291.46 L271.58,291.97 L271.76,292.48 L271.95,292.98 L272.14,293.48 L272.32,293.98 L272.51,294.47 L272.70,294.96 L272.88,295.44 L273.07,295.92 L273.26,296.40 L273.44,296.87 L273.63,297.34 L273.82,297.81 L274.00,298.28 L274.19,298.74 L274.38,299.20 L274.56,299.65 L274.75,300.10 L274.94,300.55 L275.12,300.99 L275.31,301.44 L275.50,301.88 L275.68,302.31 L275.87,302.74 L276.06,303.17 L276.24,303.60 L276.43,304.02 L276.62,304.44 L276.80,304.86 L276.99,305.28 L277.18,305.69 L277.36,306.10 L277.55,306.50 L277.74,306.91 L277.92,307.31 L278.11,307.71 L278.30,308.10 L278.49,308.50 L278.67,308.88 L278.86,309.27 L279.05,309.66 L279.23,310.04 L279.42,310.42 L279.61,310.79 L279.79,311.17 L279.98,311.54 L280.17,311.91 L280.35,312.28 L280.54,312.64 L280.73,313.00 L280.91,313.36 L281.10,313.72 L281.29,314.07 L281.47,314.42 L281.66,314.77 L281.85,315.12 L282.03,315.47 L282.22,315.81 L282.41,316.15 L282.59,316.49 L282.78,316.82 L282.97,317.16 L283.15,317.49 L283.34,317.82 L283.53,318.14 L283.71,318.47 L283.90,318.79 L284.09,319.11 L284.27,319.43 L284.46,319.75 L284.65,320.06 L284.83,320.37 L285.02,320.68 L285.21,320.99 L285.39,321.30 L285.58,321.60 L285.77,321.90 L285.95,322.20 L286.14,322.50 L286.33,322.80 L286.52,323.09 L286.70,323.38 L286.89,323.67 L287.08,323.96 L287.26,324.25 L287.45,324.53 L287.64,324.81 L287.82,325.10 L288.01,325.37 L288.20,325.65 L288.38,325.93 L288.57,326.20 L288.76,326.47 L288.94,326.74 L289.13,327.01 L289.32,327.28 L289.50,327.55 L289.69,327.81 L289.88,328.07 L290.06,328.33 L290.25,328.59 L290.44,328.85 L290.62,329.10 L290.81,329.35 L291.00,329.61 L291.18,329.86 L291.37,330.11 L291.56,330.35 L291.74,330.60 L291.93,330.84 L292.12,331.09 L292.30,331.33 L292.49,331.57 L292.68,331.80 L292.86,332.04 L293.05,332.28 L293.24,332.51 L293.42,332.74 L293.61,332.97 L293.80,333.20 L293.98,333.43 L294.17,333.66 L294.36,333.88 L294.54,334.10 L294.73,334.33 L294.92,334.55 L295.11,334.77 L295.29,334.99 L295.48,335.20 L295.67,335.42 L295.85,335.63 L296.04,335.84 L296.23,336.06 L296.41,336.27 L296.60,336.48 L296.79,336.68 L296.97,336.89 L297.16,337.09 L297.35,337.30 L297.53,337.50 L297.72,337.70 L297.91,337.90 L298.09,338.10 L298.28,338.30 L298.47,338.50 L298.65,338.69 L298.84,338.89 L299.03,339.08 L299.21,339.27 L299.40,339.46 L299.59,339.65 L299.77,339.84 L299.96,340.03 L300.15,340.21 L300.33,340.40 L300.52,340.58 L300.71,340.76 L300.89,340.95 L301.08,341.13 L301.27,341.31 L301.45,341.48 L301.64,341.66 L301.83,341.84 L302.01,342.01 L302.20,342.19 L302.39,342.36 L302.57,342.53 L302.76,342.70 L302.95,342.87 L303.13,343.04 L303.32,343.21 L303.51,343.38 L303.70,343.55 L303.88,343.71 L304.07,343.88 L304.26,344.04 L304.44,344.20 L304.63,344.36 L304.82,344.52 L305.00,344.68 L305.19,344.84 L305.38,345.00 L305.56,345.16 L305.75,345.31 L305.94,345.47 L306.12,345.62 L306.31,345.77 L306.50,345.93 L306.68,346.08 L306.87,346.23 L307.06,346.38 L307.24,346.53 L307.43,346.67 L307.62,346.82 L307.80,346.97 L307.99,347.11 L308.18,347.26 L308.36,347.40 L308.55,347.54 L308.74,347.69 L308.92,347.83 L309.11,347.97 L309.30,348.11 L309.48,348.25 L309.67,348.38 L309.86,348.52 L310.04,348.66 L310.23,348.79 L310.42,348.93 L310.60,349.06 L310.79,349.20 L310.98,349.33 L311.16,349.46 L311.35,349.59 L311.54,349.72 L311.73,349.85 L311.91,349.98 L312.10,350.11 L312.29,350.24 L312.47,350.37 L312.66,350.49 L312.85,350.62 L313.03,350.74 L313.22,350.87 L313.41,350.99 L313.59,351.11 L313.78,351.23 L313.97,351.36 L314.15,351.48 L314.34,351.60 L314.53,351.72 L314.71,351.83 L314.90,351.95 L315.09,352.07 L315.27,352.19 L315.46,352.30 L315.65,352.42 L315.83,352.53 L316.02,352.65 L316.21,352.76 L316.39,352.87 L316.58,352.99 L316.77,353.10 L316.95,353.21 L317.14,353.32 L317.33,353.43 L317.51,353.54 L317.70,353.65 L317.89,353.76 L318.07,353.86 L318.26,353.97 L318.45,354.08 L318.63,354.18 L318.82,354.29 L319.01,354.39 L319.19,354.50 L319.38,354.60 L319.57,354.70 L319.75,354.80 L319.94,354.91 L320.13,355.01 L320.32,355.11 L320.50,355.21 L320.69,355.31 L320.88,355.41 L321.06,355.51 L321.25,355.60 L321.44,355.70 L321.62,355.80 L321.81,355.90 L322.00,355.99 L322.18,356.09 L322.37,356.18 L322.56,356.28 L322.74,356.37 L322.93,356.46 L323.12,356.56 L323.30,356.65 L323.49,356.74 L323.68,356.83 L323.86,356.92 L324.05,357.02 L324.24,357.11 L324.42,357.19 L324.61,357.28 L324.80,357.37 L324.98,357.46 L325.17,357.55 L325.36,357.64 L325.54,357.72 L325.73,357.81 L325.92,357.90 L326.10,357.98 L326.29,358.07 L326.48,358.15 L326.66,358.23 L326.85,358.32 L327.04,358.40 L327.22,358.48 L327.41,358.57 L327.60,358.65 L327.78,358.73 L327.97,358.81 L328.16,358.89 L328.34,358.97 L328.53,359.05 L328.72,359.13 L328.91,359.21 L329.09,359.29 L329.28,359.37 L329.47,359.45 L329.65,359.52 L329.84,359.60 L330.03,359.68 L330.21,359.75 L330.40,359.83 L330.59,359.91 L330.77,359.98 L330.96,360.06 L331.15,360.13 L331.33,360.20 L331.52,360.28 L331.71,360.35 L331.89,360.42 L332.08,360.50 L332.27,360.57 L332.45,360.64 L332.64,360.71 L332.83,360.78 L333.01,360.85 L333.20,360.92 L333.39,360.99 L333.57,361.06 L333.76,361.13 L333.95,361.20 L334.13,361.27 L334.32,361.34 L334.51,361.41 L334.69,361.48 L334.88,361.54 L335.07,361.61 L335.25,361.68 L335.44,361.74 L335.63,361.81 L335.81,361.87 L336.00,361.94 L336.19,362.00 L336.37,362.07 L336.56,362.13 L336.75,362.20 L336.94,362.26 L337.12,362.32 L337.31,362.39 L337.50,362.45 L337.68,362.51 L337.87,362.57 L338.06,362.64 L338.24,362.70 L338.43,362.76 L338.62,362.82 L338.80,362.88 L338.99,362.94 L339.18,363.00 L339.36,363.06 L339.55,363.12 L339.74,363.18 L339.92,363.24 L340.11,363.30 L340.30,363.36 L340.48,363.41 L340.67,363.47 L340.86,363.53 L341.04,363.59 L341.23,363.64 L341.42,363.70 L341.60,363.76 L341.79,363.81 L341.98,363.87 L342.16,363.92 L342.35,363.98 L342.54,364.03 L342.72,364.09 L342.91,364.14 L343.10,364.20 L343.28,364.25 L343.47,364.31 L343.66,364.36 L343.84,364.41 L344.03,364.46 L344.22,364.52 L344.40,364.57 L344.59,364.62 L344.78,364.67 L344.96,364.73 L345.15,364.78 L345.34,364.83 L345.53,364.88 L345.71,364.93 L345.90,364.98 L346.09,365.03 L346.27,365.08 L346.46,365.13 L346.65,365.18 L346.83,365.23 L347.02,365.28 L347.21,365.33 L347.39,365.38 L347.58,365.42 L347.77,365.47 L347.95,365.52 L348.14,365.57 L348.33,365.62 L348.51,365.66 L348.70,365.71 L348.89,365.76 L349.07,365.80 L349.26,365.85 L349.45,365.90 L349.63,365.94 L349.82,365.99 L350.01,366.03 L350.19,366.08 L350.38,366.12 L350.57,366.17 L350.75,366.21 L350.94,366.26 L351.13,366.30 L351.31,366.35 L351.50,366.39 L351.69,366.43 L351.87,366.48 L352.06,366.52 L352.25,366.56 L352.43,366.61 L352.62,366.65 L352.81,366.69 L352.99,366.73 L353.18,366.78 L353.37,366.82 L353.55,366.86 L353.74,366.90 L353.93,366.94 L354.12,366.98 L354.30,367.03 L354.49,367.07 L354.68,367.11 L354.86,367.15 L355.05,367.19 L355.24,367.23 L355.42,367.27 L355.61,367.31 L355.80,367.35 L355.98,367.39 L356.17,367.43 L356.36,367.46 L356.54,367.50 L356.73,367.54 L356.92,367.58 L357.10,367.62 L357.29,367.66 L357.48,367.69 L357.66,367.73 L357.85,367.77 L358.04,367.81 L358.22,367.84 L358.41,367.88 L358.60,367.92 L358.78,367.96 L358.97,367.99 L359.16,368.03 L359.34,368.06 L359.53,368.10 L359.72,368.14 L359.90,368.17 L360.09,368.21 L360.28,368.24 L360.46,368.28 L360.65,368.31 L360.84,368.35 L361.02,368.38 L361.21,368.42 L361.40,368.45 L361.58,368.49 L361.77,368.52 L361.96,368.56 L362.15,368.59 L362.33,368.62 L362.52,368.66 L362.71,368.69 L362.89,368.72 L363.08,368.76 L363.27,368.79 L363.45,368.82 L363.64,368.86 L363.83,368.89 L364.01,368.92 L364.20,368.95 L364.39,368.99 L364.57,369.02 L364.76,369.05 L364.95,369.08 L365.13,369.11 L365.32,369.14 L365.51,369.18 L365.69,369.21 L365.88,369.24 L366.07,369.27 L366.25,369.30 L366.44,369.33 L366.63,369.36 L366.81,369.39 L367.00,369.42 L367.19,369.45 L367.37,369.48 L367.56,369.51 L367.75,369.54 L367.93,369.57 L368.12,369.60 L368.31,369.63 L368.49,369.66 L368.68,369.69 L368.87,369.72 L369.05,369.75 L369.24,369.78 L369.43,369.80 L369.61,369.83 L369.80,369.86 L369.99,369.89 L370.17,369.92 L370.36,369.95 L370.55,369.97 L370.74,370.00 L370.92,370.03 L371.11,370.06 L371.30,370.08 L371.48,370.11 L371.67,370.14 L371.86,370.17 L372.04,370.19 L372.23,370.22 L372.42,370.25 L372.60,370.27 L372.79,370.30 L372.98,370.33 L373.16,370.35 L373.35,370.38 L373.54,370.40 L373.72,370.43 L373.91,370.46 L374.10,370.48 L374.28,370.51 L374.47,370.53 L374.66,370.56 L374.84,370.58 L375.03,370.61 L375.22,370.64 L375.40,370.66 L375.59,370.69 L375.78,370.71 L375.96,370.73 L376.15,370.76 L376.34,370.78 L376.52,370.81 L376.71,370.83 L376.90,370.86 L377.08,370.88 L377.27,370.90 L377.46,370.93 L377.64,370.95 L377.83,370.98 L378.02,371.00 L378.20,371.02 L378.39,371.05 L378.58,371.07 L378.76,371.09 L378.95,371.12 L379.14,371.14 L379.33,371.16 L379.51,371.19 L379.70,371.21 L379.89,371.23 L380.07,371.25 L380.26,371.28 L380.45,371.30 L380.63,371.32 L380.82,371.34 L381.01,371.37 L381.19,371.39 L381.38,371.41 L381.57,371.43 L381.75,371.45 L381.94,371.47 L382.13,371.50 L382.31,371.52 L382.50,371.54 L382.69,371.56 L382.87,371.58 L383.06,371.60 L383.25,371.62 L383.43,371.64 L383.62,371.67 L383.81,371.69 L383.99,371.71 L384.18,371.73 L384.37,371.75 L384.55,371.77 L384.74,371.79 L384.93,371.81 L385.11,371.83 L385.30,371.85 L385.49,371.87 L385.67,371.89 L385.86,371.91 L386.05,371.93 L386.23,371.95 L386.42,371.97 L386.61,371.99 L386.79,372.01 L386.98,372.03 L387.17,372.05 L387.36,372.07 L387.54,372.09 L387.73,372.10 L387.92,372.12 L388.10,372.14 L388.29,372.16 L388.48,372.18 L388.66,372.20 L388.85,372.22 L389.04,372.24 L389.22,372.26 L389.41,372.27 L389.60,372.29 L389.78,372.31 L389.97,372.33 L390.16,372.35 L390.34,372.37 L390.53,372.38 L390.72,372.40 L390.90,372.42 L391.09,372.44 L391.28,372.45 L391.46,372.47 L391.65,372.49 L391.84,372.51 L392.02,372.53 L392.21,372.54 L392.40,372.56 L392.58,372.58 L392.77,372.59 L392.96,372.61 L393.14,372.63 L393.33,372.65 L393.52,372.66 L393.70,372.68 L393.89,372.70 L394.08,372.71 L394.26,372.73 L394.45,372.75 L394.64,372.76 L394.82,372.78 L395.01,372.80 L395.20,372.81 L395.38,372.83 L395.57,372.84 L395.76,372.86 L395.95,372.88 L396.13,372.89 L396.32,372.91 L396.51,372.93 L396.69,372.94 L396.88,372.96 L397.07,372.97 L397.25,372.99 L397.44,373.00 L397.63,373.02 L397.81,373.04 L398.00,373.05 L398.19,373.07 L398.37,373.08 L398.56,373.10 L398.75,373.11 L398.93,373.13 L399.12,373.14 L399.31,373.16 L399.49,373.17 L399.68,373.19 L399.87,373.20 L400.05,373.22 L400.24,373.23 L400.43,373.25 L400.61,373.26 L400.80,373.28 L400.99,373.29 L401.17,373.30 L401.36,373.32 L401.55,373.33 L401.73,373.35 L401.92,373.36 L402.11,373.38 L402.29,373.39 L402.48,373.40 L402.67,373.42 L402.85,373.43 L403.04,373.45 L403.23,373.46 L403.41,373.47 L403.60,373.49 L403.79,373.50 L403.98,373.52 L404.16,373.53 L404.35,373.54 L404.54,373.56 L404.72,373.57 L404.91,373.58 L405.10,373.60 L405.28,373.61 L405.47,373.62 L405.66,373.64 L405.84,373.65 L406.03,373.66 L406.22,373.68 L406.40,373.69 L406.59,373.70 L406.78,373.71 L406.96,373.73 L407.15,373.74 L407.34,373.75 L407.52,373.77 L407.71,373.78 L407.90,373.79 L408.08,373.80 L408.27,373.82 L408.46,373.83 L408.64,373.84 L408.83,373.85 L409.02,373.87 L409.20,373.88 L409.39,373.89 L409.58,373.90 L409.76,373.92 L409.95,373.93 L410.14,373.94 L410.32,373.95 L410.51,373.96 L410.70,373.98 L410.88,373.99 L411.07,374.00 L411.26,374.01 L411.44,374.02 L411.63,374.04 L411.82,374.05 L412.00,374.06 L412.19,374.07 L412.38,374.08 L412.57,374.09 L412.75,374.11 L412.94,374.12 L413.13,374.13 L413.31,374.14 L413.50,374.15 L413.69,374.16 L413.87,374.17 L414.06,374.19 L414.25,374.20 L414.43,374.21 L414.62,374.22 L414.81,374.23 L414.99,374.24 L415.18,374.25 L415.37,374.26 L415.55,374.27 L415.74,374.28 L415.93,374.30 L416.11,374.31 L416.30,374.32 L416.49,374.33 L416.67,374.34 L416.86,374.35 L417.05,374.36 L417.23,374.37 L417.42,374.38 L417.61,374.39 L417.79,374.40 L417.98,374.41 L418.17,374.42 L418.35,374.43 L418.54,374.44 L418.73,374.45 L418.91,374.46 L419.10,374.47 L419.29,374.48 L419.47,374.49 L419.66,374.50 L419.85,374.51 L420.03,374.52 L420.22,374.53 L420.41,374.54 L420.59,374.55 L420.78,374.56 L420.97,374.57 L421.16,374.58 L421.34,374.59 L421.53,374.60 L421.72,374.61 L421.90,374.62 L422.09,374.63 L422.28,374.64 L422.46,374.65 L422.65,374.66 L422.84,374.67 L423.02,374.68 L423.21,374.69 L423.40,374.70 L423.58,374.71 L423.77,374.72 L423.96,374.73 L424.14,374.74 L424.33,374.75 L424.52,374.75 L424.70,374.76 L424.89,374.77 L425.08,374.78 L425.26,374.79 L425.45,374.80 L425.64,374.81 L425.82,374.82 L426.01,374.83 L426.20,374.84 L426.38,374.85 L426.57,374.85 L426.76,374.86 L426.94,374.87 L427.13,374.88 L427.32,374.89 L427.50,374.90 L427.69,374.91 L427.88,374.92 L428.06,374.92 L428.25,374.93 L428.44,374.94 L428.62,374.95 L428.81,374.96 L429.00,374.97 L429.19,374.98 L429.37,374.98 L429.56,374.99 L429.75,375.00 L429.93,375.01 L430.12,375.02 L430.31,375.03 L430.49,375.03 L430.68,375.04 L430.87,375.05 L431.05,375.06 L431.24,375.07 L431.43,375.07 L431.61,375.08 L431.80,375.09 L431.99,375.10 L432.17,375.11 L432.36,375.11 L432.55,375.12 L432.73,375.13 L432.92,375.14 L433.11,375.15 L433.29,375.15 L433.48,375.16 L433.67,375.17 L433.85,375.18 L434.04,375.19 L434.23,375.19 L434.41,375.20 L434.60,375.21 L434.79,375.22 L434.97,375.22 L435.16,375.23 L435.35,375.24 L435.53,375.25 L435.72,375.25 L435.91,375.26 L436.09,375.27 L436.28,375.28 L436.47,375.28 L436.65,375.29 L436.84,375.30 L437.03,375.31 L437.21,375.31 L437.40,375.32 L437.59,375.33 L437.78,375.33 L437.96,375.34 L438.15,375.35 L438.34,375.36 L438.52,375.36 L438.71,375.37 L438.90,375.38 L439.08,375.38 L439.27,375.39 L439.46,375.40 L439.64,375.41 L439.83,375.41 L440.02,375.42 L440.20,375.43 L440.39,375.43 L440.58,375.44 L440.76,375.45 L440.95,375.45 L441.14,375.46 L441.32,375.47 L441.51,375.47 L441.70,375.48 L441.88,375.49 L442.07,375.50 L442.26,375.50 L442.44,375.51 L442.63,375.52 L442.82,375.52 L443.00,375.53 L443.19,375.53 L443.38,375.54 L443.56,375.55 L443.75,375.55 L443.94,375.56 L444.12,375.57 L444.31,375.57 L444.50,375.58 L444.68,375.59 L444.87,375.59 L445.06,375.60 L445.24,375.61 L445.43,375.61 L445.62,375.62 L445.80,375.62 L445.99,375.63 L446.18,375.64 L446.37,375.64 L446.55,375.65 L446.74,375.66 L446.93,375.66 L447.11,375.67 L447.30,375.67 L447.49,375.68 L447.67,375.69 L447.86,375.69 L448.05,375.70 L448.23,375.70 L448.42,375.71 L448.61,375.72 L448.79,375.72 L448.98,375.73 L449.17,375.73 L449.35,375.74 L449.54,375.75 L449.73,375.75 L449.91,375.76 L450.10,375.76 L450.29,375.77 L450.47,375.78 L450.66,375.78 L450.85,375.79 L451.03,375.79 L451.22,375.80 L451.41,375.80 L451.59,375.81 L451.78,375.82 L451.97,375.82 L452.15,375.83 L452.34,375.83 L452.53,375.84 L452.71,375.84 L452.90,375.85 L453.09,375.86 L453.27,375.86 L453.46,375.87 L453.65,375.87 L453.83,375.88 L454.02,375.88 L454.21,375.89 L454.40,375.89 L454.58,375.90 L454.77,375.90 L454.96,375.91 L455.14,375.92 L455.33,375.92 L455.52,375.93 L455.70,375.93 L455.89,375.94 L456.08,375.94 L456.26,375.95 L456.45,375.95 L456.64,375.96 L456.82,375.96 L457.01,375.97 L457.20,375.97 L457.38,375.98 L457.57,375.98 L457.76,375.99 L457.94,375.99 L458.13,376.00 L458.32,376.00 L458.50,376.01 L458.69,376.01 L458.88,376.02 L459.06,376.02 L459.25,376.03 L459.44,376.03 L459.62,376.04 L459.81,376.04 L460.00,376.05 L460.18,376.05 L460.37,376.06 L460.56,376.06 L460.74,376.07 L460.93,376.07 L461.12,376.08 L461.30,376.08 L461.49,376.09 L461.68,376.09 L461.86,376.10 L462.05,376.10 L462.24,376.11 L462.42,376.11 L462.61,376.12 L462.80,376.12 L462.99,376.13 L463.17,376.13 L463.36,376.14 L463.55,376.14 L463.73,376.14 L463.92,376.15 L464.11,376.15 L464.29,376.16 L464.48,376.16 L464.67,376.17 L464.85,376.17 L465.04,376.18 L465.23,376.18 L465.41,376.19 L465.60,376.19 L465.79,376.19 L465.97,376.20 L466.16,376.20 L466.35,376.21 L466.53,376.21 L466.72,376.22 L466.91,376.22 L467.09,376.23 L467.28,376.23 L467.47,376.23 L467.65,376.24 L467.84,376.24 L468.03,376.25 L468.21,376.25 L468.40,376.26 L468.59,376.26 L468.77,376.27 L468.96,376.27 L469.15,376.27 L469.33,376.28 L469.52,376.28 L469.71,376.29 L469.89,376.29 L470.08,376.29 L470.27,376.30 L470.45,376.30 L470.64,376.31 L470.83,376.31 L471.01,376.32 L471.20,376.32 L471.39,376.32 L471.58,376.33 L471.76,376.33 L471.95,376.34 L472.14,376.34 L472.32,376.34 L472.51,376.35 L472.70,376.35 L472.88,376.36 L473.07,376.36 L473.26,376.36 L473.44,376.37 L473.63,376.37 L473.82,376.38 L474.00,376.38 L474.19,376.38 L474.38,376.39 L474.56,376.39 L474.75,376.40 L474.94,376.40 L475.12,376.40 L475.31,376.41 L475.50,376.41 L475.68,376.41 L475.87,376.42 L476.06,376.42 L476.24,376.43 L476.43,376.43 L476.62,376.43 L476.80,376.44 L476.99,376.44 L477.18,376.45 L477.36,376.45 L477.55,376.45 L477.74,376.46 L477.92,376.46 L478.11,376.46 L478.30,376.47 L478.48,376.47 L478.67,376.47 L478.86,376.48 L479.04,376.48 L479.23,376.49 L479.42,376.49 L479.61,376.49 L479.79,376.50 L479.98,376.50 L480.17,376.50 L480.35,376.51 L480.54,376.51 L480.73,376.51 L480.91,376.52 L481.10,376.52 L481.29,376.52 L481.47,376.53 L481.66,376.53 L481.85,376.54 L482.03,376.54 L482.22,376.54 L482.41,376.55 L482.59,376.55 L482.78,376.55 L482.97,376.56 L483.15,376.56 L483.34,376.56 L483.53,376.57 L483.71,376.57 L483.90,376.57 L484.09,376.58 L484.27,376.58 L484.46,376.58 L484.65,376.59 L484.83,376.59 L485.02,376.59 L485.21,376.60 L485.39,376.60 L485.58,376.60 L485.77,376.61 L485.95,376.61 L486.14,376.61 L486.33,376.62 L486.51,376.62 L486.70,376.62 L486.89,376.63 L487.07,376.63 L487.26,376.63 L487.45,376.64 L487.63,376.64 L487.82,376.64 L488.01,376.64 L488.20,376.65 L488.38,376.65 L488.57,376.65 L488.76,376.66 L488.94,376.66 L489.13,376.66 L489.32,376.67 L489.50,376.67 L489.69,376.67 L489.88,376.68 L490.06,376.68 L490.25,376.68 L490.44,376.69 L490.62,376.69 L490.81,376.69 L491.00,376.69 L491.18,376.70 L491.37,376.70 L491.56,376.70 L491.74,376.71 L491.93,376.71 L492.12,376.71 L492.30,376.72 L492.49,376.72 L492.68,376.72 L492.86,376.72 L493.05,376.73 L493.24,376.73 L493.42,376.73 L493.61,376.74 L493.80,376.74 L493.98,376.74 L494.17,376.74 L494.36,376.75 L494.54,376.75 L494.73,376.75 L494.92,376.76 L495.10,376.76 L495.29,376.76 L495.48,376.76 L495.66,376.77 L495.85,376.77 L496.04,376.77 L496.23,376.78" stroke="#ffa000"/>
<path d="M327.60,29.04 L327.78,30.70 L327.97,32.36 L328.16,34.01 L328.34,35.65 L328.53,37.29 L328.72,38.91 L328.91,40.52 L329.09,42.12 L329.28,43.72 L329.47,45.31 L329.65,46.88 L329.84,48.45 L330.03,50.01 L330.21,51.56 L330.40,53.10 L330.59,54.64 L330.77,56.16 L330.96,57.68 L331.15,59.18 L331.33,60.68 L331.52,62.17 L331.71,63.66 L331.89,65.13 L332.08,66.60 L332.27,68.06 L332.45,69.51 L332.64,70.95 L332.83,72.38 L333.01,73.81 L333.20,75.23 L333.39,76.64 L333.57,78.04 L333.76,79.44 L333.95,80.82 L334.13,82.20 L334.32,83.57 L334.51,84.94 L334.69,86.30 L334.88,87.65 L335.07,88.99 L335.25,90.32 L335.44,91.65 L335.63,92.97 L335.81,94.28 L336.00,95.59 L336.19,96.89 L336.37,98.18 L336.56,99.46 L336.75,100.74 L336.94,102.01 L337.12,103.28 L337.31,104.53 L337.50,105.78 L337.68,107.03 L337.87,108.26 L338.06,109.49 L338.24,110.72 L338.43,111.93 L338.62,113.14 L338.80,114.35 L338.99,115.55 L339.18,116.74 L339.36,117.92 L339.55,119.10 L339.74,120.27 L339.92,121.44 L340.11,122.60 L340.30,123.75 L340.48,124.90 L340.67,126.04 L340.86,127.17 L341.04,128.30 L341.23,129.42 L341.42,130.54 L341.60,131.65 L341.79,132.75 L341.98,133.85 L342.16,134.95 L342.35,136.03 L342.54,137.12 L342.72,138.19 L342.91,139.26 L343.10,140.33 L343.28,141.38 L343.47,142.44 L343.66,143.49 L343.84,144.53 L344.03,145.56 L344.22,146.60 L344.40,147.62 L344.59,148.64 L344.78,149.66 L344.96,150.67 L345.15,151.67 L345.34,152.67 L345.53,153.66 L345.71,154.65 L345.90,155.64 L346.09,156.62 L346.27,157.59 L346.46,158.56 L346.65,159.52 L346.83,160.48 L347.02,161.43 L347.21,162.38 L347.39,163.32 L347.58,164.26 L347.77,165.20 L347.95,166.13 L348.14,167.05 L348.33,167.97 L348.51,168.88 L348.70,169.79 L348.89,170.70 L349.07,171.60 L349.26,172.50 L349.45,173.39 L349.63,174.27 L349.82,175.16 L350.01,176.03 L350.19,176.91 L350.38,177.78 L350.57,178.64 L350.75,179.50 L350.94,180.36 L351.13,181.21 L351.31,182.05 L351.50,182.90 L351.69,183.73 L351.87,184.57 L352.06,185.40 L352.25,186.22 L352.43,187.04 L352.62,187.86 L352.81,188.67 L352.99,189.48 L353.18,190.29 L353.37,191.09 L353.55,191.89 L353.74,192.68 L353.93,193.47 L354.12,194.25 L354.30,195.03 L354.49,195.81 L354.68,196.58 L354.86,197.35 L355.05,198.12 L355.24,198.88 L355.42,199.63 L355.61,200.39 L355.80,201.14 L355.98,201.88 L356.17,202.63 L356.36,203.37 L356.54,204.10 L356.73,204.83 L356.92,205.56 L357.10,206.28 L357.29,207.00 L357.48,207.72 L357.66,208.43 L357.85,209.14 L358.04,209.85 L358.22,210.55 L358.41,211.25 L358.60,211.95 L358.78,212.64 L358.97,213.33 L359.16,214.02 L359.34,214.70 L359.53,215.38 L359.72,216.05 L359.90,216.72 L360.09,217.39 L360.28,218.06 L360.46,218.72 L360.65,219.38 L360.84,220.04 L361.02,220.69 L361.21,221.34 L361.40,221.99 L361.58,222.63 L361.77,223.27 L361.96,223.91 L362.15,224.54 L362.33,225.17 L362.52,225.80 L362.71,226.42 L362.89,227.04 L363.08,227.66 L363.27,228.28 L363.45,228.89 L363.64,229.50 L363.83,230.11 L364.01,230.71 L364.20,231.31 L364.39,231.91 L364.57,232.50 L364.76,233.10 L364.95,233.69 L365.13,234.27 L365.32,234.86 L365.51,235.44 L365.69,236.01 L365.88,236.59 L366.07,237.16 L366.25,237.73 L366.44,238.30 L366.63,238.86 L366.81,239.42 L367.00,239.98 L367.19,240.54 L367.37,241.09 L367.56,241.64 L367.75,242.19 L367.93,242.74 L368.12,243.28 L368.31,243.82 L368.49,244.36 L368.68,244.90 L368.87,245.43 L369.05,245.96 L369.24,246.49 L369.43,247.01 L369.61,247.53 L369.80,248.05 L369.99,248.57 L370.17,249.09 L370.36,249.60 L370.55,250.11 L370.74,250.62 L370.92,251.13 L371.11,251.63 L371.30,252.13 L371.48,252.63 L371.67,253.13 L371.86,253.62 L372.04,254.11 L372.23,254.60 L372.42,255.09 L372.60,255.57 L372.79,256.06 L372.98,256.54 L373.16,257.01 L373.35,257.49 L373.54,257.96 L373.72,258.44 L373.91,258.90 L374.10,259.37 L374.28,259.84 L374.47,260.30 L374.66,260.76 L374.84,261.22 L375.03,261.68 L375.22,262.13 L375.40,262.58 L375.59,263.03 L375.78,263.48 L375.96,263.93 L376.15,264.37 L376.34,264.81 L376.52,265.25 L376.71,265.69 L376.90,266.12 L377.08,266.56 L377.27,266.99 L377.46,267.42 L377.64,267.85 L377.83,268.27 L378.02,268.70 L378.20,269.12 L378.39,269.54 L378.58,269.96 L378.76,270.37 L378.95,270.79 L379.14,271.20 L379.33,271.61 L379.51,272.02 L379.70,272.43 L379.89,272.83 L380.07,273.24 L380.26,273.64 L380.45,274.04 L380.63,274.43 L380.82,274.83 L381.01,275.22 L381.19,275.62 L381.38,276.01 L381.57,276.40 L381.75,276.78 L381.94,277.17 L382.13,277.55 L382.31,277.93 L382.50,278.31 L382.69,278.69 L382.87,279.07 L383.06,279.44 L383.25,279.82 L383.43,280.19 L383.62,280.56 L383.81,280.93 L383.99,281.29 L384.18,281.66 L384.37,282.02 L384.55,282.38 L384.74,282.74 L384.93,283.10 L385.11,283.46 L385.30,283.81 L385.49,284.17 L385.67,284.52 L385.86,284.87 L386.05,285.22 L386.23,285.57 L386.42,285.91 L386.61,286.26 L386.79,286.60 L386.98,286.94 L387.17,287.28 L387.36,287.62 L387.54,287.96 L387.73,288.29 L387.92,288.63 L388.10,288.96 L388.29,289.29 L388.48,289.62 L388.66,289.95 L388.85,290.27 L389.04,290.60 L389.22,290.92 L389.41,291.25 L389.60,291.57 L389.78,291.89 L389.97,292.20 L390.16,292.52 L390.34,292.84 L390.53,293.15 L390.72,293.46 L390.90,293.77 L391.09,294.08 L391.28,294.39 L391.46,294.70 L391.65,295.01 L391.84,295.31 L392.02,295.61 L392.21,295.92 L392.40,296.22 L392.58,296.52 L392.77,296.81 L392.96,297.11 L393.14,297.41 L393.33,297.70 L393.52,297.99 L393.70,298.28 L393.89,298.57 L394.08,298.86 L394.26,299.15 L394.45,299.44 L394.64,299.72 L394.82,300.01 L395.01,300.29 L395.20,300.57 L395.38,300.85 L395.57,301.13 L395.76,301.41 L395.95,301.69 L396.13,301.96 L396.32,302.24 L396.51,302.51 L396.69,302.78 L396.88,303.05 L397.07,303.32 L397.25,303.59 L397.44,303.86 L397.63,304.13 L397.81,304.39 L398.00,304.66 L398.19,304.92 L398.37,305.18 L398.56,305.44 L398.75,305.70 L398.93,305.96 L399.12,306.22 L399.31,306.47 L399.49,306.73 L399.68,306.98 L399.87,307.24 L400.05,307.49 L400.24,307.74 L400.43,307.99 L400.61,308.24 L400.80,308.49 L400.99,308.73 L401.17,308.98 L401.36,309.23 L401.55,309.47 L401.73,309.71 L401.92,309.95 L402.11,310.19 L402.29,310.43 L402.48,310.67 L402.67,310.91 L402.85,311.15 L403.04,311.38 L403.23,311.62 L403.41,311.85 L403.60,312.08 L403.79,312.32 L403.98,312.55 L404.16,312.78 L404.35,313.01 L404.54,313.23 L404.72,313.46 L404.91,313.69 L405.10,313.91 L405.28,314.14 L405.47,314.36 L405.66,314.58 L405.84,314.80 L406.03,315.02 L406.22,315.24 L406.40,315.46 L406.59,315.68 L406.78,315.90 L406.96,316.11 L407.15,316.33 L407.34,316.54 L407.52,316.76 L407.71,316.97 L407.90,317.18 L408.08,317.39 L408.27,317.60 L408.46,317.81 L408.64,318.02 L408.83,318.22 L409.02,318.43 L409.20,318.64 L409.39,318.84 L409.58,319.05 L409.76,319.25 L409.95,319.45 L410.14,319.65 L410.32,319.85 L410.51,320.05 L410.70,320.25 L410.88,320.45 L411.07,320.65 L411.26,320.84 L411.44,321.04 L411.63,321.23 L411.82,321.43 L412.00,321.62 L412.19,321.82 L412.38,322.01 L412.57,322.20 L412.75,322.39 L412.94,322.58 L413.13,322.77 L413.31,322.95 L413.50,323.14 L413.69,323.33 L413.87,323.51 L414.06,323.70 L414.25,323.88 L414.43,324.07 L414.62,324.25 L414.81,324.43 L414.99,324.61 L415.18,324.79 L415.37,324.97 L415.55,325.15 L415.74,325.33 L415.93,325.51 L416.11,325.69 L416.30,325.86 L416.49,326.04 L416.67,326.21 L416.86,326.39 L417.05,326.56 L417.23,326.73 L417.42,326.91 L417.61,327.08 L417.79,327.25 L417.98,327.42 L418.17,327.59 L418.35,327.76 L418.54,327.92 L418.73,328.09 L418.91,328.26 L419.10,328.42 L419.29,328.59 L419.47,328.75 L419.66,328.92 L419.85,329.08 L420.03,329.24 L420.22,329.41 L420.41,329.57 L420.59,329.73 L420.78,329.89 L420.97,330.05 L421.16,330.21 L421.34,330.37 L421.53,330.52 L421.72,330.68 L421.90,330.84 L422.09,330.99 L422.28,331.15 L422.46,331.30 L422.65,331.46 L422.84,331.61 L423.02,331.76 L423.21,331.92 L423.40,332.07 L423.58,332.22 L423.77,332.37 L423.96,332.52 L424.14,332.67 L424.33,332.82 L424.52,332.97 L424.70,333.11 L424.89,333.26 L425.08,333.41 L425.26,333.55 L425.45,333.70 L425.64,333.84 L425.82,333.99 L426.01,334.13 L426.20,334.27 L426.38,334.42 L426.57,334.56 L426.76,334.70 L426.94,334.84 L427.13,334.98 L427.32,335.12 L427.50,335.26 L427.69,335.40 L427.88,335.54 L428.06,335.68 L428.25,335.81 L428.44,335.95 L428.62,336.09 L428.81,336.22 L429.00,336.36 L429.19,336.49 L429.37,336.63 L429.56,336.76 L429.75,336.89 L429.93,337.02 L430.12,337.16 L430.31,337.29 L430.49,337.42 L430.68,337.55 L430.87,337.68 L431.05,337.81 L431.24,337.94 L431.43,338.07 L431.61,338.19 L431.80,338.32 L431.99,338.45 L432.17,338.58 L432.36,338.70 L432.55,338.83 L432.73,338.95 L432.92,339.08 L433.11,339.20 L433.29,339.33 L433.48,339.45 L433.67,339.57 L433.85,339.69 L434.04,339.82 L434.23,339.94 L434.41,340.06 L434.60,340.18 L434.79,340.30 L434.97,340.42 L435.16,340.54 L435.35,340.66 L435.53,340.77 L435.72,340.89 L435.91,341.01 L436.09,341.13 L436.28,341.24 L436.47,341.36 L436.65,341.47 L436.84,341.59 L437.03,341.70 L437.21,341.82 L437.40,341.93 L437.59,342.05 L437.78,342.16 L437.96,342.27 L438.15,342.38 L438.34,342.50 L438.52,342.61 L438.71,342.72 L438.90,342.83 L439.08,342.94 L439.27,343.05 L439.46,343.16 L439.64,343.27 L439.83,343.38 L440.02,343.48 L440.20,343.59 L440.39,343.70 L440.58,343.81 L440.76,343.91 L440.95,344.02 L441.14,344.12 L441.32,344.23 L441.51,344.33 L441.70,344.44 L441.88,344.54 L442.07,344.65 L442.26,344.75 L442.44,344.85 L442.63,344.96 L442.82,345.06 L443.00,345.16 L443.19,345.26 L443.38,345.36 L443.56,345.46 L443.75,345.56 L443.94,345.66 L444.12,345.76 L444.31,345.86 L444.50,345.96 L444.68,346.06 L444.87,346.16 L445.06,346.26 L445.24,346.36 L445.43,346.45 L445.62,346.55 L445.80,346.65 L445.99,346.74 L446.18,346.84 L446.37,346.93 L446.55,347.03 L446.74,347.12 L446.93,347.22 L447.11,347.31 L447.30,347.41 L447.49,347.50 L447.67,347.59 L447.86,347.68 L448.05,347.78 L448.23,347.87 L448.42,347.96 L448.61,348.05 L448.79,348.14 L448.98,348.23 L449.17,348.32 L449.35,348.41 L449.54,348.50 L449.73,348.59 L449.91,348.68 L450.10,348.77 L450.29,348.86 L450.47,348.95 L450.66,349.04 L450.85,349.12 L451.03,349.21 L451.22,349.30 L451.41,349.38 L451.59,349.47 L451.78,349.56 L451.97,349.64 L452.15,349.73 L452.34,349.81 L452.53,349.90 L452.71,349.98 L452.90,350.07 L453.09,350.15 L453.27,350.23 L453.46,350.32 L453.65,350.40 L453.83,350.48 L454.02,350.56 L454.21,350.65 L454.40,350.73 L454.58,350.81 L454.77,350.89 L454.96,350.97 L455.14,351.05 L455.33,351.13 L455.52,351.21 L455.70,351.29 L455.89,351.37 L456.08,351.45 L456.26,351.53 L456.45,351.61 L456.64,351.69 L456.82,351.77 L457.01,351.84 L457.20,351.92 L457.38,352.00 L457.57,352.08 L457.76,352.15 L457.94,352.23 L458.13,352.30 L458.32,352.38 L458.50,352.46 L458.69,352.53 L458.88,352.61 L459.06,352.68 L459.25,352.76 L459.44,352.83 L459.62,352.91 L459.81,352.98 L460.00,353.05 L460.18,353.13 L460.37,353.20 L460.56,353.27 L460.74,353.34 L460.93,353.42 L461.12,353.49 L461.30,353.56 L461.49,353.63 L461.68,353.70 L461.86,353.77 L462.05,353.85 L462.24,353.92 L462.42,353.99 L462.61,354.06 L462.80,354.13 L462.99,354.20 L463.17,354.27 L463.36,354.33 L463.55,354.40 L463.73,354.47 L463.92,354.54 L464.11,354.61 L464.29,354.68 L464.48,354.74 L464.67,354.81 L464.85,354.88 L465.04,354.95 L465.23,355.01 L465.41,355.08 L465.60,355.15 L465.79,355.21 L465.97,355.28 L466.16,355.34 L466.35,355.41 L466.53,355.47 L466.72,355.54 L466.91,355.60 L467.09,355.67 L467.28,355.73 L467.47,355.80 L467.65,355.86 L467.84,355.92 L468.03,355.99 L468.21,356.05 L468.40,356.11 L468.59,356.18 L468.77,356.24 L468.96,356.30 L469.15,356.36 L469.33,356.43 L469.52,356.49 L469.71,356.55 L469.89,356.61 L470.08,356.67 L470.27,356.73 L470.45,356.79 L470.64,356.85 L470.83,356.91 L471.01,356.97 L471.20,357.03 L471.39,357.09 L471.58,357.15 L471.76,357.21 L471.95,357.27 L472.14,357.33 L472.32,357.39 L472.51,357.45 L472.70,357.51 L472.88,357.56 L473.07,357.62 L473.26,357.68 L473.44,357.74 L473.63,357.79 L473.82,357.85 L474.00,357.91 L474.19,357.97 L474.38,358.02 L474.56,358.08 L474.75,358.13 L474.94,358.19 L475.12,358.25 L475.31,358.30 L475.50,358.36 L475.68,358.41 L475.87,358.47 L476.06,358.52 L476.24,358.58 L476.43,358.63 L476.62,358.69 L476.80,358.74 L476.99,358.79 L477.18,358.85 L477.36,358.90 L477.55,358.96 L477.74,359.01 L477.92,359.06 L478.11,359.11 L478.30,359.17 L478.48,359.22 L478.67,359.27 L478.86,359.32 L479.04,359.38 L479.23,359.43 L479.42,359.48 L479.61,359.53 L479.79,359.58 L479.98,359.63 L480.17,359.69 L480.35,359.74 L480.54,359.79 L480.73,359.84 L480.91,359.89 L481.10,359.94 L481.29,359.99 L481.47,360.04 L481.66,360.09 L481.85,360.14 L482.03,360.19 L482.22,360.24 L482.41,360.28 L482.59,360.33 L482.78,360.38 L482.97,360.43 L483.15,360.48 L483.34,360.53 L483.53,360.58 L483.71,360.62 L483.90,360.67 L484.09,360.72 L484.27,360.77 L484.46,360.81 L484.65,360.86 L484.83,360.91 L485.02,360.95 L485.21,361.00 L485.39,361.05 L485.58,361.09 L485.77,361.14 L485.95,361.19 L486.14,361.23 L486.33,361.28 L486.51,361.32 L486.70,361.37 L486.89,361.41 L487.07,361.46 L487.26,361.51 L487.45,361.55 L487.63,361.59 L487.82,361.64 L488.01,361.68 L488.20,361.73 L488.38,361.77 L488.57,361.82 L488.76,361.86 L488.94,361.90 L489.13,361.95 L489.32,361.99 L489.50,362.03 L489.69,362.08 L489.88,362.12 L490.06,362.16 L490.25,362.21 L490.44,362.25 L490.62,362.29 L490.81,362.33 L491.00,362.38 L491.18,362.42 L491.37,362.46 L491.56,362.50 L491.74,362.54 L491.93,362.59 L492.12,362.63 L492.30,362.67 L492.49,362.71 L492.68,362.75 L492.86,362.79 L493.05,362.83 L493.24,362.87 L493.42,362.91 L493.61,362.95 L493.80,362.99 L493.98,363.04 L494.17,363.08 L494.36,363.11 L494.54,363.15 L494.73,363.19 L494.92,363.23 L495.10,363.27 L495.29,363.31 L495.48,363.35 L495.66,363.39 L495.85,363.43 L496.04,363.47 L496.23,363.51" stroke="#ffe000"/>
</g>
<rect x="167.4" y="116.8" width="22.50" height="87.30" fill="none" stroke="#7d7d7d" stroke-width="1.7"/>
<circle cx="178.5" cy="128" r="6.6" fill="#c9c9f2" stroke="#0000d0" stroke-width="2.0"/>
<circle cx="178.5" cy="193.6" r="6.6" fill="#c9c9f2" stroke="#0000d0" stroke-width="2.0"/>
<rect x="262.2" y="116.8" width="22.50" height="87.30" fill="none" stroke="#7d7d7d" stroke-width="1.7"/>
<circle cx="273.4" cy="128" r="6.6" fill="#c9c9f2" stroke="#0000d0" stroke-width="2.0"/>
<circle cx="273.4" cy="160.8" r="6.6" fill="#c9c9f2" stroke="#0000d0" stroke-width="2.0"/>
<circle cx="273.4" cy="193.6" r="6.6" fill="#c9c9f2" stroke="#0000d0" stroke-width="2.0"/>
<rect x="372.7" y="116.8" width="22.50" height="87.30" fill="none" stroke="#7d7d7d" stroke-width="1.7"/>
<circle cx="383.9" cy="128" r="6.6" fill="#c9c9f2" stroke="#0000d0" stroke-width="2.0"/>
<circle cx="383.9" cy="149.9" r="6.6" fill="#c9c9f2" stroke="#0000d0" stroke-width="2.0"/>
<circle cx="383.9" cy="171.7" r="6.6" fill="#c9c9f2" stroke="#0000d0" stroke-width="2.0"/>
<circle cx="383.9" cy="193.6" r="6.6" fill="#c9c9f2" stroke="#0000d0" stroke-width="2.0"/>
<rect x="65.5" y="74.5" width="424.90" height="303.50" fill="none" stroke="#000" stroke-width="2.7" stroke-linejoin="round"/>
<line x1="122.93" y1="378.0" x2="122.93" y2="373.80" stroke="#000" stroke-width="2.7" stroke-linecap="round"/>
<line x1="122.93" y1="74.5" x2="122.93" y2="78.70" stroke="#000" stroke-width="2.7" stroke-linecap="round"/>
<line x1="180.36" y1="378.0" x2="180.36" y2="373.80" stroke="#000" stroke-width="2.7" stroke-linecap="round"/>
<line x1="180.36" y1="74.5" x2="180.36" y2="78.70" stroke="#000" stroke-width="2.7" stroke-linecap="round"/>
<line x1="237.79" y1="378.0" x2="237.79" y2="373.80" stroke="#000" stroke-width="2.7" stroke-linecap="round"/>
<line x1="237.79" y1="74.5" x2="237.79" y2="78.70" stroke="#000" stroke-width="2.7" stroke-linecap="round"/>
<line x1="295.22" y1="378.0" x2="295.22" y2="373.80" stroke="#000" stroke-width="2.7" stroke-linecap="round"/>
<line x1="295.22" y1="74.5" x2="295.22" y2="78.70" stroke="#000" stroke-width="2.7" stroke-linecap="round"/>
<line x1="352.65" y1="378.0" x2="352.65" y2="373.80" stroke="#000" stroke-width="2.7" stroke-linecap="round"/>
<line x1="352.65" y1="74.5" x2="352.65" y2="78.70" stroke="#000" stroke-width="2.7" stroke-linecap="round"/>
<line x1="410.08" y1="378.0" x2="410.08" y2="373.80" stroke="#000" stroke-width="2.7" stroke-linecap="round"/>
<line x1="410.08" y1="74.5" x2="410.08" y2="78.70" stroke="#000" stroke-width="2.7" stroke-linecap="round"/>
<line x1="467.51" y1="378.0" x2="467.51" y2="373.80" stroke="#000" stroke-width="2.7" stroke-linecap="round"/>
<line x1="467.51" y1="74.5" x2="467.51" y2="78.70" stroke="#000" stroke-width="2.7" stroke-linecap="round"/>
<line x1="65.5" y1="302.12" x2="69.70" y2="302.12" stroke="#000" stroke-width="2.7" stroke-linecap="round"/>
<line x1="490.4" y1="302.12" x2="486.20" y2="302.12" stroke="#000" stroke-width="2.7" stroke-linecap="round"/>
<line x1="65.5" y1="226.25" x2="69.70" y2="226.25" stroke="#000" stroke-width="2.7" stroke-linecap="round"/>
<line x1="490.4" y1="226.25" x2="486.20" y2="226.25" stroke="#000" stroke-width="2.7" stroke-linecap="round"/>
<line x1="65.5" y1="150.38" x2="69.70" y2="150.38" stroke="#000" stroke-width="2.7" stroke-linecap="round"/>
<line x1="490.4" y1="150.38" x2="486.20" y2="150.38" stroke="#000" stroke-width="2.7" stroke-linecap="round"/>
<text transform="translate(30.60,85.20) scale(1,1.08)" x="0" y="0" font-family="'Liberation Sans', sans-serif" font-size="21" fill="#000" stroke="#000" stroke-width="0.3">2</text>
<path d="M38.20,161.07 L38.20,145.99 L36.73,145.99 L32.24,149.41 L32.24,151.40 L35.95,148.92 L35.95,161.07 Z" fill="#000"/>
<text transform="translate(42.28,161.07) scale(1,1.08)" x="0" y="0" font-family="'Liberation Sans', sans-serif" font-size="21" fill="#000" stroke="#000" stroke-width="0.3">.5</text>
<path d="M38.20,236.95 L38.20,221.87 L36.73,221.87 L32.24,225.29 L32.24,227.28 L35.95,224.80 L35.95,236.95 Z" fill="#000"/>
<text transform="translate(30.60,312.82) scale(1,1.08)" x="0" y="0" font-family="'Liberation Sans', sans-serif" font-size="21" fill="#000" stroke="#000" stroke-width="0.3">0.5</text>
<text transform="translate(30.60,388.70) scale(1,1.08)" x="0" y="0" font-family="'Liberation Sans', sans-serif" font-size="21" fill="#000" stroke="#000" stroke-width="0.3">0</text>
<g transform="translate(15.3,360.5) rotate(-90)">
<text x="0" y="0" font-family="'Liberation Sans', sans-serif" font-size="20.87" fill="#000" stroke="#000" stroke-width="0.3">Energy of</text>
<path d="M102.65,-0.00 L102.65,-14.71 L101.19,-14.71 L96.73,-11.37 L96.73,-9.43 L100.42,-11.85 L100.42,-0.00 Z" fill="#000"/>
<text x="106.69" y="0" font-family="'Liberation Sans', sans-serif" font-size="20.87" fill="#000" stroke="#000" stroke-width="0.3">D crystal (<tspan font-style="italic">h</tspan>·MHz)</text>
</g>
<text x="72.90" y="314.70" font-family="'Liberation Sans', sans-serif" font-size="21" fill="#000" text-anchor="start" stroke="#000" stroke-width="0.3" ><tspan font-style="italic">N</tspan></text>
<line x1="90.70" y1="316.10" x2="90.70" y2="324.40" stroke="#222" stroke-width="1.25"/>
<path d="M88.40,317.00 L90.70,314.10 L93.00,317.00 L90.70,316.30 Z" fill="#222"/>
<text x="99.70" y="314.70" font-family="'Liberation Sans', sans-serif" font-size="21" fill="#000" text-anchor="start" stroke="#000" stroke-width="0.3" >=</text>
<text x="117.40" y="314.70" font-family="'Liberation Sans', sans-serif" font-size="21" fill="#000" stroke="#000" stroke-width="0.3">2</text>
<line x1="135.2" y1="307.90" x2="157.6" y2="307.90" stroke="#ff0000" stroke-width="2.9" stroke-linecap="round"/>
<text x="72.90" y="337.00" font-family="'Liberation Sans', sans-serif" font-size="21" fill="#000" text-anchor="start" stroke="#000" stroke-width="0.3" ><tspan font-style="italic">N</tspan></text>
<line x1="90.70" y1="338.40" x2="90.70" y2="346.70" stroke="#222" stroke-width="1.25"/>
<path d="M88.40,339.30 L90.70,336.40 L93.00,339.30 L90.70,338.60 Z" fill="#222"/>
<text x="99.70" y="337.00" font-family="'Liberation Sans', sans-serif" font-size="21" fill="#000" text-anchor="start" stroke="#000" stroke-width="0.3" >=</text>
<text x="117.40" y="337.00" font-family="'Liberation Sans', sans-serif" font-size="21" fill="#000" stroke="#000" stroke-width="0.3">3</text>
<line x1="135.2" y1="330.20" x2="157.6" y2="330.20" stroke="#ffa000" stroke-width="2.9" stroke-linecap="round"/>
<text x="72.90" y="359.30" font-family="'Liberation Sans', sans-serif" font-size="21" fill="#000" text-anchor="start" stroke="#000" stroke-width="0.3" ><tspan font-style="italic">N</tspan></text>
<line x1="90.70" y1="360.70" x2="90.70" y2="369.00" stroke="#222" stroke-width="1.25"/>
<path d="M88.40,361.60 L90.70,358.70 L93.00,361.60 L90.70,360.90 Z" fill="#222"/>
<text x="99.70" y="359.30" font-family="'Liberation Sans', sans-serif" font-size="21" fill="#000" text-anchor="start" stroke="#000" stroke-width="0.3" >=</text>
<text x="117.40" y="359.30" font-family="'Liberation Sans', sans-serif" font-size="21" fill="#000" stroke="#000" stroke-width="0.3">4</text>
<line x1="135.2" y1="352.50" x2="157.6" y2="352.50" stroke="#ffe000" stroke-width="2.9" stroke-linecap="round"/>
<line x1="66.9" y1="490.6" x2="489.0" y2="490.6" stroke="#b3b3b3" stroke-width="2.9" stroke-dasharray="8.1 8.2" stroke-dashoffset="3.65" stroke-linecap="round"/>
<g clip-path="url(#cb)" fill="none" stroke-width="2.8" stroke-linejoin="round" stroke-linecap="round">
<path d="M111.44,750.61 L122.93,752.72 L134.42,746.39 L145.90,740.32 L157.39,744.02 L168.87,751.66 L180.36,753.51 L191.85,754.04 L203.33,754.30 L214.82,754.30 L226.30,754.30 L237.79,754.30 L249.28,754.30 L260.76,754.30 L272.25,754.30 L283.73,754.30 L295.22,754.30 L306.71,754.30 L318.19,754.30 L329.68,754.30 L341.16,754.30 L352.65,754.30 L364.14,754.30 L375.62,754.30 L387.11,754.30 L398.59,754.30 L410.08,754.30 L421.57,754.30 L433.05,754.30 L444.54,754.30 L456.02,754.30 L467.51,754.30" stroke="#3d0000"/>
<path d="M111.44,496.14 L122.93,493.50 L134.42,499.83 L145.90,506.69 L157.39,534.90 L168.87,677.83 L180.36,738.48 L191.85,747.44 L203.33,745.07 L214.82,742.96 L226.30,742.96 L237.79,745.60 L249.28,750.08 L260.76,751.40 L272.25,752.19 L283.73,752.72 L295.22,752.98 L306.71,753.25 L318.19,753.51 L329.68,753.77 L341.16,754.30 L352.65,755.09 L364.14,755.35 L375.62,755.35 L387.11,755.35 L398.59,755.35 L410.08,755.35 L421.57,755.35 L433.05,755.35 L444.54,755.35 L456.02,755.35 L467.51,755.35" stroke="#800000"/>
<path d="M111.44,754.30 L122.93,754.30 L134.42,754.30 L145.90,753.77 L157.39,724.50 L168.87,571.03 L180.36,509.59 L191.85,499.30 L203.33,501.41 L214.82,503.52 L226.30,504.05 L237.79,501.68 L249.28,498.77 L260.76,516.71 L272.25,575.78 L283.73,641.44 L295.22,694.18 L306.71,718.96 L318.19,728.72 L329.68,733.20 L341.16,735.05 L352.65,735.31 L364.14,736.10 L375.62,737.95 L387.11,742.17 L398.59,745.60 L410.08,750.08 L421.57,752.45 L433.05,753.51 L444.54,753.77 L456.02,753.77 L467.51,753.77" stroke="#ff0000"/>
<path d="M111.44,754.30 L122.93,754.30 L134.42,754.30 L145.90,754.30 L157.39,754.30 L168.87,754.30 L180.36,754.30 L191.85,754.30 L203.33,754.30 L214.82,754.30 L226.30,754.30 L237.79,754.30 L249.28,753.51 L260.76,732.41 L272.25,674.14 L283.73,604.78 L295.22,555.73 L306.71,530.15 L318.19,519.08 L329.68,515.65 L341.16,513.81 L352.65,515.65 L364.14,524.62 L375.62,544.66 L387.11,576.30 L398.59,615.86 L410.08,652.25 L421.57,677.83 L433.05,693.12 L444.54,703.41 L456.02,708.68 L467.51,713.43" stroke="#ffa000"/>
<path d="M111.44,754.30 L122.93,754.30 L134.42,754.30 L145.90,754.30 L157.39,754.30 L168.87,754.30 L180.36,754.30 L191.85,754.30 L203.33,754.30 L214.82,754.30 L226.30,754.30 L237.79,754.30 L249.28,754.30 L260.76,754.30 L272.25,754.30 L283.73,754.30 L295.22,754.30 L306.71,754.30 L318.19,754.30 L329.68,754.30 L341.16,754.30 L352.65,752.45 L364.14,741.64 L375.62,719.76 L387.11,685.21 L398.59,638.27 L410.08,599.51 L421.57,573.93 L433.05,556.79 L444.54,545.71 L456.02,541.23 L467.51,540.44" stroke="#ffe000"/>
</g>
<rect x="65.5" y="464.5" width="424.90" height="303.00" fill="none" stroke="#000" stroke-width="2.7" stroke-linejoin="round"/>
<line x1="122.93" y1="767.5" x2="122.93" y2="763.30" stroke="#000" stroke-width="2.7" stroke-linecap="round"/>
<line x1="122.93" y1="464.5" x2="122.93" y2="468.70" stroke="#000" stroke-width="2.7" stroke-linecap="round"/>
<line x1="180.36" y1="767.5" x2="180.36" y2="763.30" stroke="#000" stroke-width="2.7" stroke-linecap="round"/>
<line x1="180.36" y1="464.5" x2="180.36" y2="468.70" stroke="#000" stroke-width="2.7" stroke-linecap="round"/>
<line x1="237.79" y1="767.5" x2="237.79" y2="763.30" stroke="#000" stroke-width="2.7" stroke-linecap="round"/>
<line x1="237.79" y1="464.5" x2="237.79" y2="468.70" stroke="#000" stroke-width="2.7" stroke-linecap="round"/>
<line x1="295.22" y1="767.5" x2="295.22" y2="763.30" stroke="#000" stroke-width="2.7" stroke-linecap="round"/>
<line x1="295.22" y1="464.5" x2="295.22" y2="468.70" stroke="#000" stroke-width="2.7" stroke-linecap="round"/>
<line x1="352.65" y1="767.5" x2="352.65" y2="763.30" stroke="#000" stroke-width="2.7" stroke-linecap="round"/>
<line x1="352.65" y1="464.5" x2="352.65" y2="468.70" stroke="#000" stroke-width="2.7" stroke-linecap="round"/>
<line x1="410.08" y1="767.5" x2="410.08" y2="763.30" stroke="#000" stroke-width="2.7" stroke-linecap="round"/>
<line x1="410.08" y1="464.5" x2="410.08" y2="468.70" stroke="#000" stroke-width="2.7" stroke-linecap="round"/>
<line x1="467.51" y1="767.5" x2="467.51" y2="763.30" stroke="#000" stroke-width="2.7" stroke-linecap="round"/>
<line x1="467.51" y1="464.5" x2="467.51" y2="468.70" stroke="#000" stroke-width="2.7" stroke-linecap="round"/>
<line x1="65.5" y1="754.30" x2="69.70" y2="754.30" stroke="#000" stroke-width="2.7" stroke-linecap="round"/>
<line x1="490.4" y1="754.30" x2="486.20" y2="754.30" stroke="#000" stroke-width="2.7" stroke-linecap="round"/>
<line x1="65.5" y1="701.56" x2="69.70" y2="701.56" stroke="#000" stroke-width="2.7" stroke-linecap="round"/>
<line x1="490.4" y1="701.56" x2="486.20" y2="701.56" stroke="#000" stroke-width="2.7" stroke-linecap="round"/>
<line x1="65.5" y1="648.82" x2="69.70" y2="648.82" stroke="#000" stroke-width="2.7" stroke-linecap="round"/>
<line x1="490.4" y1="648.82" x2="486.20" y2="648.82" stroke="#000" stroke-width="2.7" stroke-linecap="round"/>
<line x1="65.5" y1="596.08" x2="69.70" y2="596.08" stroke="#000" stroke-width="2.7" stroke-linecap="round"/>
<line x1="490.4" y1="596.08" x2="486.20" y2="596.08" stroke="#000" stroke-width="2.7" stroke-linecap="round"/>
<line x1="65.5" y1="543.34" x2="69.70" y2="543.34" stroke="#000" stroke-width="2.7" stroke-linecap="round"/>
<line x1="490.4" y1="543.34" x2="486.20" y2="543.34" stroke="#000" stroke-width="2.7" stroke-linecap="round"/>
<line x1="65.5" y1="490.60" x2="69.70" y2="490.60" stroke="#000" stroke-width="2.7" stroke-linecap="round"/>
<line x1="490.4" y1="490.60" x2="486.20" y2="490.60" stroke="#000" stroke-width="2.7" stroke-linecap="round"/>
<path d="M36.10,496.60 L36.10,481.52 L34.63,481.52 L30.14,484.94 L30.14,486.93 L33.86,484.45 L33.86,496.60 Z" fill="#000"/>
<text transform="translate(28.50,549.34) scale(1,1.08)" x="0" y="0" font-family="'Liberation Sans', sans-serif" font-size="21" fill="#000" stroke="#000" stroke-width="0.3">0.8</text>
<text transform="translate(28.50,602.08) scale(1,1.08)" x="0" y="0" font-family="'Liberation Sans', sans-serif" font-size="21" fill="#000" stroke="#000" stroke-width="0.3">0.6</text>
<text transform="translate(28.50,654.82) scale(1,1.08)" x="0" y="0" font-family="'Liberation Sans', sans-serif" font-size="21" fill="#000" stroke="#000" stroke-width="0.3">0.4</text>
<text transform="translate(28.50,707.56) scale(1,1.08)" x="0" y="0" font-family="'Liberation Sans', sans-serif" font-size="21" fill="#000" stroke="#000" stroke-width="0.3">0.2</text>
<text transform="translate(28.50,760.30) scale(1,1.08)" x="0" y="0" font-family="'Liberation Sans', sans-serif" font-size="21" fill="#000" stroke="#000" stroke-width="0.3">0</text>
<text transform="translate(58.06,790.50) scale(1,1.08)" x="0" y="0" font-family="'Liberation Sans', sans-serif" font-size="21" fill="#000" stroke="#000" stroke-width="0.3">0</text>
<text transform="translate(115.49,790.50) scale(1,1.08)" x="0" y="0" font-family="'Liberation Sans', sans-serif" font-size="21" fill="#000" stroke="#000" stroke-width="0.3">5</text>
<path d="M175.28,790.50 L175.28,775.42 L173.81,775.42 L169.32,778.84 L169.32,780.83 L173.04,778.35 L173.04,790.50 Z" fill="#000"/>
<text transform="translate(179.36,790.50) scale(1,1.08)" x="0" y="0" font-family="'Liberation Sans', sans-serif" font-size="21" fill="#000" stroke="#000" stroke-width="0.3">0</text>
<path d="M232.71,790.50 L232.71,775.42 L231.24,775.42 L226.75,778.84 L226.75,780.83 L230.47,778.35 L230.47,790.50 Z" fill="#000"/>
<text transform="translate(236.79,790.50) scale(1,1.08)" x="0" y="0" font-family="'Liberation Sans', sans-serif" font-size="21" fill="#000" stroke="#000" stroke-width="0.3">5</text>
<text transform="translate(282.54,790.50) scale(1,1.08)" x="0" y="0" font-family="'Liberation Sans', sans-serif" font-size="21" fill="#000" stroke="#000" stroke-width="0.3">20</text>
<text transform="translate(339.97,790.50) scale(1,1.08)" x="0" y="0" font-family="'Liberation Sans', sans-serif" font-size="21" fill="#000" stroke="#000" stroke-width="0.3">25</text>
<text transform="translate(397.40,790.50) scale(1,1.08)" x="0" y="0" font-family="'Liberation Sans', sans-serif" font-size="21" fill="#000" stroke="#000" stroke-width="0.3">30</text>
<text transform="translate(454.83,790.50) scale(1,1.08)" x="0" y="0" font-family="'Liberation Sans', sans-serif" font-size="21" fill="#000" stroke="#000" stroke-width="0.3">35</text>
<text x="168.40" y="818.20" font-family="'Liberation Sans', sans-serif" font-size="21" fill="#000" text-anchor="start" stroke="#000" stroke-width="0.3" >System length,</text>
<path d="M312.6,817.7 C314.5,815.5 316.8,811.3 318.6,806.5 C319.6,803.8 320.6,801.2 321.8,800.3 C322.6,799.8 323.1,801.0 322.8,803.5 C322.4,806.5 320.0,809.8 318.2,812.3 C316.5,814.6 314.9,816.3 315.0,818.6 C315.2,820.4 317.0,820.6 318.4,820.1 C319.8,819.6 320.9,818.7 321.6,817.9" fill="none" stroke="#2a2a2a" stroke-width="1.15" stroke-linecap="round"/>
<text x="330.90" y="818.20" font-family="'Liberation Sans', sans-serif" font-size="21" fill="#000" text-anchor="start" stroke="#000" stroke-width="0.3" >(sites)</text>
<text transform="translate(15.3,762) rotate(-90)" font-family="'Liberation Sans', sans-serif" font-size="21" fill="#000" stroke="#000" stroke-width="0.3">Spin-</text>
<g transform="translate(15.3,697.8) rotate(-90)">
<text x="0" y="0" font-family="'Liberation Sans', sans-serif" font-size="20.85" fill="#000" stroke="#000" stroke-width="0.3">number state overlap</text>
<path d="M209.15,-0.00 L209.15,-14.70 L207.69,-14.70 L203.23,-11.36 L203.23,-9.42 L206.92,-11.84 L206.92,-0.00 Z" fill="#000"/>
<text x="213.2" y="0" font-family="'Liberation Sans', sans-serif" font-size="20.85" fill="#000" stroke="#000" stroke-width="0.3">D</text>
</g>
<line x1="2.3" y1="708.2" x2="19.6" y2="708.2" stroke="#111" stroke-width="1.4" stroke-linecap="butt"/>
<path d="M6.4,704.4 L1.6,708.2 L6.4,712.0" fill="none" stroke="#111" stroke-width="1.4" stroke-linejoin="miter"/>
<text x="72.40" y="570.50" font-family="'Liberation Sans', sans-serif" font-size="21" fill="#000" text-anchor="start" stroke="#000" stroke-width="0.3" ><tspan font-style="italic">N</tspan></text>
<line x1="90.20" y1="571.90" x2="90.20" y2="580.20" stroke="#222" stroke-width="1.25"/>
<path d="M87.90,572.80 L90.20,569.90 L92.50,572.80 L90.20,572.10 Z" fill="#222"/>
<text x="99.20" y="570.50" font-family="'Liberation Sans', sans-serif" font-size="21" fill="#000" text-anchor="start" stroke="#000" stroke-width="0.3" >=</text>
<text x="116.90" y="570.50" font-family="'Liberation Sans', sans-serif" font-size="21" fill="#000" stroke="#000" stroke-width="0.3">0</text>
<line x1="135.2" y1="563.70" x2="153.0" y2="563.70" stroke="#3d0000" stroke-width="2.9" stroke-linecap="round"/>
<text x="72.40" y="592.70" font-family="'Liberation Sans', sans-serif" font-size="21" fill="#000" text-anchor="start" stroke="#000" stroke-width="0.3" ><tspan font-style="italic">N</tspan></text>
<line x1="90.20" y1="594.10" x2="90.20" y2="602.40" stroke="#222" stroke-width="1.25"/>
<path d="M87.90,595.00 L90.20,592.10 L92.50,595.00 L90.20,594.30 Z" fill="#222"/>
<text x="99.20" y="592.70" font-family="'Liberation Sans', sans-serif" font-size="21" fill="#000" text-anchor="start" stroke="#000" stroke-width="0.3" >=</text>
<path d="M124.50,592.70 L124.50,578.73 L123.03,578.73 L118.54,581.90 L118.54,583.75 L122.26,581.45 L122.26,592.70 Z" fill="#000"/>
<line x1="135.2" y1="585.90" x2="153.0" y2="585.90" stroke="#800000" stroke-width="2.9" stroke-linecap="round"/>
<text x="72.40" y="614.90" font-family="'Liberation Sans', sans-serif" font-size="21" fill="#000" text-anchor="start" stroke="#000" stroke-width="0.3" ><tspan font-style="italic">N</tspan></text>
<line x1="90.20" y1="616.30" x2="90.20" y2="624.60" stroke="#222" stroke-width="1.25"/>
<path d="M87.90,617.20 L90.20,614.30 L92.50,617.20 L90.20,616.50 Z" fill="#222"/>
<text x="99.20" y="614.90" font-family="'Liberation Sans', sans-serif" font-size="21" fill="#000" text-anchor="start" stroke="#000" stroke-width="0.3" >=</text>
<text x="116.90" y="614.90" font-family="'Liberation Sans', sans-serif" font-size="21" fill="#000" stroke="#000" stroke-width="0.3">2</text>
<line x1="135.2" y1="608.10" x2="153.0" y2="608.10" stroke="#ff0000" stroke-width="2.9" stroke-linecap="round"/>
<text x="72.40" y="637.10" font-family="'Liberation Sans', sans-serif" font-size="21" fill="#000" text-anchor="start" stroke="#000" stroke-width="0.3" ><tspan font-style="italic">N</tspan></text>
<line x1="90.20" y1="638.50" x2="90.20" y2="646.80" stroke="#222" stroke-width="1.25"/>
<path d="M87.90,639.40 L90.20,636.50 L92.50,639.40 L90.20,638.70 Z" fill="#222"/>
<text x="99.20" y="637.10" font-family="'Liberation Sans', sans-serif" font-size="21" fill="#000" text-anchor="start" stroke="#000" stroke-width="0.3" >=</text>
<text x="116.90" y="637.10" font-family="'Liberation Sans', sans-serif" font-size="21" fill="#000" stroke="#000" stroke-width="0.3">3</text>
<line x1="135.2" y1="630.30" x2="153.0" y2="630.30" stroke="#ffa000" stroke-width="2.9" stroke-linecap="round"/>
<text x="72.40" y="659.30" font-family="'Liberation Sans', sans-serif" font-size="21" fill="#000" text-anchor="start" stroke="#000" stroke-width="0.3" ><tspan font-style="italic">N</tspan></text>
<line x1="90.20" y1="660.70" x2="90.20" y2="669.00" stroke="#222" stroke-width="1.25"/>
<path d="M87.90,661.60 L90.20,658.70 L92.50,661.60 L90.20,660.90 Z" fill="#222"/>
<text x="99.20" y="659.30" font-family="'Liberation Sans', sans-serif" font-size="21" fill="#000" text-anchor="start" stroke="#000" stroke-width="0.3" >=</text>
<text x="116.90" y="659.30" font-family="'Liberation Sans', sans-serif" font-size="21" fill="#000" stroke="#000" stroke-width="0.3">4</text>
<line x1="135.2" y1="652.50" x2="153.0" y2="652.50" stroke="#ffe000" stroke-width="2.9" stroke-linecap="round"/>
<g clip-path="url(#cc)" fill="none" stroke-width="2.8" stroke-linejoin="round">
<path d="M688.41,19.37 L688.77,26.91 L689.14,34.27 L689.50,41.44 L689.87,48.44 L690.24,55.27 L690.60,61.93 L690.97,68.44 L691.33,74.78 L691.70,80.98 L692.07,87.03 L692.43,92.93 L692.80,98.69 L693.16,104.32 L693.53,109.81 L693.89,115.18 L694.26,120.42 L694.63,125.53 L694.99,130.53 L695.36,135.42 L695.72,140.19 L696.09,144.85 L696.45,149.40 L696.82,153.85 L697.19,158.20 L697.55,162.44 L697.92,166.60 L698.28,170.66 L698.65,174.62 L699.02,178.50 L699.38,182.29 L699.75,186.00 L700.11,189.63 L700.48,193.17 L700.84,196.64 L701.21,200.03 L701.58,203.35 L701.94,206.59 L702.31,209.76 L702.67,212.87 L703.04,215.90 L703.41,218.87 L703.77,221.78 L704.14,224.62 L704.50,227.41 L704.87,230.13 L705.23,232.80 L705.60,235.41 L705.97,237.96 L706.33,240.46 L706.70,242.91 L707.06,245.31 L707.43,247.66 L707.79,249.96 L708.16,252.21 L708.53,254.41 L708.89,256.57 L709.26,258.68 L709.62,260.75 L709.99,262.78 L710.36,264.77 L710.72,266.71 L711.09,268.62 L711.45,270.49 L711.82,272.32 L712.18,274.11 L712.55,275.87 L712.92,277.59 L713.28,279.28 L713.65,280.94 L714.01,282.56 L714.38,284.15 L714.75,285.71 L715.11,287.24 L715.48,288.73 L715.84,290.20 L716.21,291.64 L716.57,293.05 L716.94,294.44 L717.31,295.80 L717.67,297.13 L718.04,298.44 L718.40,299.72 L718.77,300.97 L719.13,302.21 L719.50,303.42 L719.87,304.60 L720.23,305.77 L720.60,306.91 L720.96,308.03 L721.33,309.13 L721.70,310.21 L722.06,311.26 L722.43,312.30 L722.79,313.32 L723.16,314.32 L723.52,315.31 L723.89,316.27 L724.26,317.22 L724.62,318.15 L724.99,319.06 L725.35,319.95 L725.72,320.83 L726.09,321.70 L726.45,322.55 L726.82,323.38 L727.18,324.20 L727.55,325.00 L727.91,325.79 L728.28,326.56 L728.65,327.32 L729.01,328.07 L729.38,328.80 L729.74,329.52 L730.11,330.23 L730.47,330.93 L730.84,331.61 L731.21,332.28 L731.57,332.94 L731.94,333.59 L732.30,334.23 L732.67,334.85 L733.04,335.47 L733.40,336.07 L733.77,336.67 L734.13,337.25 L734.50,337.83 L734.86,338.39 L735.23,338.95 L735.60,339.49 L735.96,340.03 L736.33,340.55 L736.69,341.07 L737.06,341.58 L737.43,342.08 L737.79,342.58 L738.16,343.06 L738.52,343.54 L738.89,344.00 L739.25,344.46 L739.62,344.92 L739.99,345.36 L740.35,345.80 L740.72,346.23 L741.08,346.66 L741.45,347.07 L741.81,347.48 L742.18,347.89 L742.55,348.28 L742.91,348.67 L743.28,349.06 L743.64,349.43 L744.01,349.81 L744.38,350.17 L744.74,350.53 L745.11,350.89 L745.47,351.24 L745.84,351.58 L746.20,351.92 L746.57,352.25 L746.94,352.58 L747.30,352.90 L747.67,353.21 L748.03,353.53 L748.40,353.83 L748.77,354.13 L749.13,354.43 L749.50,354.73 L749.86,355.01 L750.23,355.30 L750.59,355.58 L750.96,355.85 L751.33,356.12 L751.69,356.39 L752.06,356.65 L752.42,356.91 L752.79,357.17 L753.16,357.42 L753.52,357.66 L753.89,357.91 L754.25,358.15 L754.62,358.38 L754.98,358.61 L755.35,358.84 L755.72,359.07 L756.08,359.29 L756.45,359.51 L756.81,359.73 L757.18,359.94 L757.54,360.15 L757.91,360.35 L758.28,360.56 L758.64,360.76 L759.01,360.95 L759.37,361.15 L759.74,361.34 L760.11,361.53 L760.47,361.71 L760.84,361.90 L761.20,362.08 L761.57,362.26 L761.93,362.43 L762.30,362.60 L762.67,362.77 L763.03,362.94 L763.40,363.11 L763.76,363.27 L764.13,363.43 L764.50,363.59 L764.86,363.75 L765.23,363.90 L765.59,364.05 L765.96,364.20 L766.32,364.35 L766.69,364.49 L767.06,364.64 L767.42,364.78 L767.79,364.92 L768.15,365.06 L768.52,365.19 L768.88,365.32 L769.25,365.46 L769.62,365.59 L769.98,365.71 L770.35,365.84 L770.71,365.97 L771.08,366.09 L771.45,366.21 L771.81,366.33 L772.18,366.45 L772.54,366.56 L772.91,366.68 L773.27,366.79 L773.64,366.90 L774.01,367.01 L774.37,367.12 L774.74,367.23 L775.10,367.34 L775.47,367.44 L775.84,367.54 L776.20,367.64 L776.57,367.74 L776.93,367.84 L777.30,367.94 L777.66,368.04 L778.03,368.13 L778.40,368.23 L778.76,368.32 L779.13,368.41 L779.49,368.50 L779.86,368.59 L780.22,368.68 L780.59,368.76 L780.96,368.85 L781.32,368.93 L781.69,369.02 L782.05,369.10 L782.42,369.18 L782.79,369.26 L783.15,369.34 L783.52,369.42 L783.88,369.49 L784.25,369.57 L784.61,369.64 L784.98,369.72 L785.35,369.79 L785.71,369.86 L786.08,369.94 L786.44,370.01 L786.81,370.08 L787.18,370.14 L787.54,370.21 L787.91,370.28 L788.27,370.34 L788.64,370.41 L789.00,370.47 L789.37,370.54 L789.74,370.60 L790.10,370.66 L790.47,370.72 L790.83,370.78 L791.20,370.84 L791.56,370.90 L791.93,370.96 L792.30,371.02 L792.66,371.08 L793.03,371.13 L793.39,371.19 L793.76,371.24 L794.13,371.30 L794.49,371.35 L794.86,371.40 L795.22,371.45 L795.59,371.51 L795.95,371.56 L796.32,371.61 L796.69,371.66 L797.05,371.71 L797.42,371.75 L797.78,371.80 L798.15,371.85 L798.52,371.90 L798.88,371.94 L799.25,371.99 L799.61,372.03 L799.98,372.08 L800.34,372.12 L800.71,372.17 L801.08,372.21 L801.44,372.25 L801.81,372.29 L802.17,372.33 L802.54,372.38 L802.90,372.42 L803.27,372.46 L803.64,372.50 L804.00,372.53 L804.37,372.57 L804.73,372.61 L805.10,372.65 L805.47,372.69 L805.83,372.72 L806.20,372.76 L806.56,372.80 L806.93,372.83 L807.29,372.87 L807.66,372.90 L808.03,372.94 L808.39,372.97 L808.76,373.00 L809.12,373.04 L809.49,373.07 L809.86,373.10 L810.22,373.13 L810.59,373.17 L810.95,373.20 L811.32,373.23 L811.68,373.26 L812.05,373.29 L812.42,373.32 L812.78,373.35 L813.15,373.38 L813.51,373.41 L813.88,373.44 L814.24,373.46 L814.61,373.49 L814.98,373.52 L815.34,373.55 L815.71,373.57 L816.07,373.60 L816.44,373.63 L816.81,373.65 L817.17,373.68 L817.54,373.71 L817.90,373.73 L818.27,373.76 L818.63,373.78 L819.00,373.81 L819.37,373.83 L819.73,373.85 L820.10,373.88 L820.46,373.90 L820.83,373.92 L821.20,373.95 L821.56,373.97 L821.93,373.99 L822.29,374.01 L822.66,374.04 L823.02,374.06 L823.39,374.08 L823.76,374.10 L824.12,374.12 L824.49,374.14 L824.85,374.16 L825.22,374.18 L825.59,374.20 L825.95,374.22 L826.32,374.24 L826.68,374.26 L827.05,374.28 L827.41,374.30 L827.78,374.32 L828.15,374.34 L828.51,374.36 L828.88,374.38 L829.24,374.40 L829.61,374.41 L829.97,374.43 L830.34,374.45 L830.71,374.47 L831.07,374.48 L831.44,374.50 L831.80,374.52 L832.17,374.53 L832.54,374.55 L832.90,374.57 L833.27,374.58 L833.63,374.60 L834.00,374.61 L834.36,374.63 L834.73,374.65 L835.10,374.66 L835.46,374.68 L835.83,374.69 L836.19,374.71 L836.56,374.72 L836.93,374.74 L837.29,374.75 L837.66,374.76 L838.02,374.78 L838.39,374.79 L838.75,374.81 L839.12,374.82 L839.49,374.83 L839.85,374.85 L840.22,374.86 L840.58,374.87 L840.95,374.89 L841.31,374.90 L841.68,374.91 L842.05,374.93 L842.41,374.94 L842.78,374.95 L843.14,374.96 L843.51,374.98 L843.88,374.99 L844.24,375.00 L844.61,375.01 L844.97,375.02 L845.34,375.03 L845.70,375.05 L846.07,375.06 L846.44,375.07 L846.80,375.08 L847.17,375.09 L847.53,375.10 L847.90,375.11 L848.27,375.12 L848.63,375.13 L849.00,375.14 L849.36,375.15 L849.73,375.17 L850.09,375.18 L850.46,375.19 L850.83,375.20 L851.19,375.21 L851.56,375.22 L851.92,375.23 L852.29,375.23 L852.65,375.24 L853.02,375.25 L853.39,375.26 L853.75,375.27 L854.12,375.28 L854.48,375.29 L854.85,375.30 L855.22,375.31 L855.58,375.32 L855.95,375.33 L856.31,375.33 L856.68,375.34 L857.04,375.35 L857.41,375.36 L857.78,375.37 L858.14,375.38 L858.51,375.39 L858.87,375.39 L859.24,375.40 L859.61,375.41 L859.97,375.42 L860.34,375.43 L860.70,375.43 L861.07,375.44 L861.43,375.45 L861.80,375.46 L862.17,375.46 L862.53,375.47 L862.90,375.48 L863.26,375.49 L863.63,375.49 L863.99,375.50 L864.36,375.51 L864.73,375.51 L865.09,375.52 L865.46,375.53 L865.82,375.53 L866.19,375.54 L866.56,375.55 L866.92,375.55 L867.29,375.56 L867.65,375.57 L868.02,375.57 L868.38,375.58 L868.75,375.59 L869.12,375.59 L869.48,375.60 L869.85,375.61 L870.21,375.61 L870.58,375.62 L870.95,375.62 L871.31,375.63 L871.68,375.64 L872.04,375.64 L872.41,375.65 L872.77,375.65 L873.14,375.66 L873.51,375.66 L873.87,375.67 L874.24,375.68 L874.60,375.68 L874.97,375.69 L875.33,375.69 L875.70,375.70 L876.07,375.70 L876.43,375.71 L876.80,375.71 L877.16,375.72 L877.53,375.72 L877.90,375.73 L878.26,375.73 L878.63,375.74 L878.99,375.74 L879.36,375.75 L879.72,375.75 L880.09,375.76 L880.46,375.76 L880.82,375.77 L881.19,375.77 L881.55,375.78 L881.92,375.78 L882.29,375.79 L882.65,375.79 L883.02,375.79 L883.38,375.80 L883.75,375.80 L884.11,375.81 L884.48,375.81 L884.85,375.82 L885.21,375.82 L885.58,375.82 L885.94,375.83 L886.31,375.83 L886.68,375.84 L887.04,375.84 L887.41,375.85 L887.77,375.85 L888.14,375.85 L888.50,375.86 L888.87,375.86 L889.24,375.87 L889.60,375.87 L889.97,375.87 L890.33,375.88 L890.70,375.88 L891.06,375.88 L891.43,375.89 L891.80,375.89 L892.16,375.90 L892.53,375.90 L892.89,375.90 L893.26,375.91 L893.63,375.91 L893.99,375.91 L894.36,375.92 L894.72,375.92 L895.09,375.92 L895.45,375.93 L895.82,375.93 L896.19,375.93 L896.55,375.94 L896.92,375.94 L897.28,375.94 L897.65,375.95 L898.02,375.95 L898.38,375.95 L898.75,375.96 L899.11,375.96 L899.48,375.96 L899.84,375.96 L900.21,375.97 L900.58,375.97 L900.94,375.97 L901.31,375.98 L901.67,375.98 L902.04,375.98 L902.40,375.99 L902.77,375.99 L903.14,375.99 L903.50,375.99 L903.87,376.00 L904.23,376.00 L904.60,376.00 L904.97,376.01 L905.33,376.01 L905.70,376.01 L906.06,376.01 L906.43,376.02 L906.79,376.02 L907.16,376.02 L907.53,376.02 L907.89,376.03 L908.26,376.03 L908.62,376.03 L908.99,376.03 L909.36,376.04 L909.72,376.04 L910.09,376.04 L910.45,376.04 L910.82,376.05 L911.18,376.05 L911.55,376.05 L911.92,376.05 L912.28,376.06 L912.65,376.06 L913.01,376.06 L913.38,376.06 L913.74,376.06 L914.11,376.07 L914.48,376.07 L914.84,376.07 L915.21,376.07 L915.57,376.08 L915.94,376.08 L916.31,376.08 L916.67,376.08 L917.04,376.08 L917.40,376.09 L917.77,376.09 L918.13,376.09 L918.50,376.09 L918.87,376.09 L919.23,376.10 L919.60,376.10 L919.96,376.10 L920.33,376.10 L920.70,376.10 L921.06,376.11 L921.43,376.11 L921.79,376.11 L922.16,376.11 L922.52,376.11 L922.89,376.12 L923.26,376.12 L923.62,376.12 L923.99,376.12 L924.35,376.12 L924.72,376.12 L925.08,376.13 L925.45,376.13 L925.82,376.13 L926.18,376.13 L926.55,376.13 L926.91,376.14 L927.28,376.14 L927.65,376.14 L928.01,376.14 L928.38,376.14 L928.74,376.14 L929.11,376.15 L929.47,376.15 L929.84,376.15 L930.21,376.15 L930.57,376.15 L930.94,376.15 L931.30,376.15 L931.67,376.16 L932.04,376.16 L932.40,376.16 L932.77,376.16 L933.13,376.16 L933.50,376.16 L933.86,376.17 L934.23,376.17 L934.60,376.17 L934.96,376.17 L935.33,376.17 L935.69,376.17 L936.06,376.17 L936.42,376.18 L936.79,376.18 L937.16,376.18 L937.52,376.18 L937.89,376.18 L938.25,376.18 L938.62,376.18 L938.99,376.18 L939.35,376.19 L939.72,376.19 L940.08,376.19 L940.45,376.19 L940.81,376.19 L941.18,376.19 L941.55,376.19 L941.91,376.20 L942.28,376.20 L942.64,376.20 L943.01,376.20 L943.38,376.20 L943.74,376.20 L944.11,376.20 L944.47,376.20 L944.84,376.21 L945.20,376.21 L945.57,376.21 L945.94,376.21 L946.30,376.21 L946.67,376.21 L947.03,376.21 L947.40,376.21 L947.76,376.21 L948.13,376.22 L948.50,376.22 L948.86,376.22 L949.23,376.22 L949.59,376.22 L949.96,376.22 L950.33,376.22 L950.69,376.22 L951.06,376.22 L951.42,376.23 L951.79,376.23 L952.15,376.23 L952.52,376.23 L952.89,376.23 L953.25,376.23 L953.62,376.23 L953.98,376.23 L954.35,376.23 L954.72,376.23 L955.08,376.24 L955.45,376.24 L955.81,376.24 L956.18,376.24 L956.54,376.24 L956.91,376.24 L957.28,376.24 L957.64,376.24 L958.01,376.24 L958.37,376.24 L958.74,376.24 L959.11,376.25 L959.47,376.25 L959.84,376.25 L960.20,376.25 L960.57,376.25 L960.93,376.25 L961.30,376.25 L961.67,376.25 L962.03,376.25 L962.40,376.25 L962.76,376.25 L963.13,376.26 L963.49,376.26 L963.86,376.26 L964.23,376.26 L964.59,376.26 L964.96,376.26 L965.32,376.26 L965.69,376.26 L966.06,376.26 L966.42,376.26 L966.79,376.26 L967.15,376.26 L967.52,376.27 L967.88,376.27 L968.25,376.27 L968.62,376.27 L968.98,376.27 L969.35,376.27 L969.71,376.27 L970.08,376.27 L970.45,376.27 L970.81,376.27 L971.18,376.27 L971.54,376.27 L971.91,376.27 L972.27,376.27 L972.64,376.28 L973.01,376.28 L973.37,376.28 L973.74,376.28 L974.10,376.28 L974.47,376.28 L974.83,376.28 L975.20,376.28 L975.57,376.28 L975.93,376.28 L976.30,376.28 L976.66,376.28 L977.03,376.28 L977.40,376.28 L977.76,376.28 L978.13,376.29 L978.49,376.29 L978.86,376.29 L979.22,376.29 L979.59,376.29 L979.96,376.29 L980.32,376.29 L980.69,376.29 L981.05,376.29 L981.42,376.29 L981.79,376.29 L982.15,376.29 L982.52,376.29 L982.88,376.29 L983.25,376.29 L983.61,376.29 L983.98,376.30 L984.35,376.30 L984.71,376.30 L985.08,376.30 L985.44,376.30 L985.81,376.30 L986.17,376.30 L986.54,376.30 L986.91,376.30 L987.27,376.30 L987.64,376.30 L988.00,376.30 L988.37,376.30 L988.74,376.30 L989.10,376.30 L989.47,376.30 L989.83,376.30 L990.20,376.30 L990.56,376.31 L990.93,376.31 L991.30,376.31 L991.66,376.31 L992.03,376.31 L992.39,376.31 L992.76,376.31 L993.13,376.31 L993.49,376.31 L993.86,376.31 L994.22,376.31 L994.59,376.31 L994.95,376.31 L995.32,376.31 L995.69,376.31 L996.05,376.31 L996.42,376.31 L996.78,376.31 L997.15,376.31 L997.51,376.31 L997.88,376.31 L998.25,376.32 L998.61,376.32 L998.98,376.32 L999.34,376.32 L999.71,376.32 L1000.08,376.32 L1000.44,376.32 L1000.81,376.32 L1001.17,376.32 L1001.54,376.32 L1001.90,376.32 L1002.27,376.32 L1002.64,376.32 L1003.00,376.32 L1003.37,376.32 L1003.73,376.32 L1004.10,376.32 L1004.47,376.32 L1004.83,376.32 L1005.20,376.32 L1005.56,376.32 L1005.93,376.32 L1006.29,376.32 L1006.66,376.32 L1007.03,376.33 L1007.39,376.33 L1007.76,376.33 L1008.12,376.33 L1008.49,376.33 L1008.85,376.33 L1009.22,376.33 L1009.59,376.33 L1009.95,376.33 L1010.32,376.33 L1010.68,376.33 L1011.05,376.33 L1011.42,376.33 L1011.78,376.33 L1012.15,376.33 L1012.51,376.33 L1012.88,376.33 L1013.24,376.33 L1013.61,376.33 L1013.98,376.33 L1014.34,376.33 L1014.71,376.33 L1015.07,376.33 L1015.44,376.33 L1015.81,376.33 L1016.17,376.33 L1016.54,376.33 L1016.90,376.33 L1017.27,376.34" stroke="#450000"/>
<path d="M731.79,36.30 L732.11,40.70 L732.42,45.04 L732.74,49.31 L733.06,53.52 L733.38,57.66 L733.69,61.75 L734.01,65.77 L734.33,69.73 L734.65,73.63 L734.96,77.48 L735.28,81.27 L735.60,85.00 L735.92,88.68 L736.23,92.30 L736.55,95.87 L736.87,99.39 L737.19,102.86 L737.50,106.28 L737.82,109.64 L738.14,112.96 L738.46,116.23 L738.77,119.45 L739.09,122.63 L739.41,125.76 L739.73,128.85 L740.04,131.89 L740.36,134.89 L740.68,137.84 L741.00,140.75 L741.31,143.62 L741.63,146.46 L741.95,149.25 L742.27,152.00 L742.58,154.71 L742.90,157.38 L743.22,160.02 L743.54,162.62 L743.85,165.18 L744.17,167.71 L744.49,170.20 L744.81,172.66 L745.12,175.09 L745.44,177.48 L745.76,179.83 L746.08,182.16 L746.40,184.45 L746.71,186.71 L747.03,188.94 L747.35,191.14 L747.67,193.31 L747.98,195.45 L748.30,197.56 L748.62,199.64 L748.94,201.70 L749.25,203.72 L749.57,205.72 L749.89,207.69 L750.21,209.64 L750.52,211.56 L750.84,213.45 L751.16,215.32 L751.48,217.16 L751.79,218.98 L752.11,220.77 L752.43,222.55 L752.75,224.29 L753.06,226.02 L753.38,227.72 L753.70,229.40 L754.02,231.05 L754.33,232.69 L754.65,234.30 L754.97,235.89 L755.29,237.47 L755.60,239.02 L755.92,240.55 L756.24,242.06 L756.56,243.55 L756.87,245.02 L757.19,246.48 L757.51,247.91 L757.83,249.33 L758.14,250.73 L758.46,252.11 L758.78,253.47 L759.10,254.81 L759.41,256.14 L759.73,257.45 L760.05,258.75 L760.37,260.02 L760.68,261.29 L761.00,262.53 L761.32,263.76 L761.64,264.98 L761.96,266.18 L762.27,267.36 L762.59,268.53 L762.91,269.69 L763.23,270.83 L763.54,271.95 L763.86,273.06 L764.18,274.16 L764.50,275.25 L764.81,276.32 L765.13,277.38 L765.45,278.42 L765.77,279.46 L766.08,280.48 L766.40,281.48 L766.72,282.48 L767.04,283.46 L767.35,284.43 L767.67,285.39 L767.99,286.34 L768.31,287.27 L768.62,288.20 L768.94,289.11 L769.26,290.01 L769.58,290.91 L769.89,291.79 L770.21,292.66 L770.53,293.52 L770.85,294.37 L771.16,295.21 L771.48,296.04 L771.80,296.85 L772.12,297.66 L772.43,298.46 L772.75,299.26 L773.07,300.04 L773.39,300.81 L773.70,301.57 L774.02,302.33 L774.34,303.07 L774.66,303.81 L774.97,304.54 L775.29,305.26 L775.61,305.97 L775.93,306.67 L776.25,307.36 L776.56,308.05 L776.88,308.73 L777.20,309.40 L777.52,310.06 L777.83,310.72 L778.15,311.37 L778.47,312.01 L778.79,312.64 L779.10,313.26 L779.42,313.88 L779.74,314.49 L780.06,315.10 L780.37,315.70 L780.69,316.29 L781.01,316.87 L781.33,317.45 L781.64,318.02 L781.96,318.59 L782.28,319.14 L782.60,319.70 L782.91,320.24 L783.23,320.78 L783.55,321.31 L783.87,321.84 L784.18,322.36 L784.50,322.88 L784.82,323.39 L785.14,323.89 L785.45,324.39 L785.77,324.89 L786.09,325.38 L786.41,325.86 L786.72,326.33 L787.04,326.81 L787.36,327.27 L787.68,327.74 L787.99,328.19 L788.31,328.64 L788.63,329.09 L788.95,329.53 L789.26,329.97 L789.58,330.40 L789.90,330.83 L790.22,331.25 L790.53,331.67 L790.85,332.09 L791.17,332.49 L791.49,332.90 L791.81,333.30 L792.12,333.70 L792.44,334.09 L792.76,334.48 L793.08,334.86 L793.39,335.24 L793.71,335.62 L794.03,335.99 L794.35,336.36 L794.66,336.72 L794.98,337.08 L795.30,337.44 L795.62,337.79 L795.93,338.14 L796.25,338.48 L796.57,338.82 L796.89,339.16 L797.20,339.50 L797.52,339.83 L797.84,340.15 L798.16,340.48 L798.47,340.80 L798.79,341.11 L799.11,341.43 L799.43,341.74 L799.74,342.05 L800.06,342.35 L800.38,342.65 L800.70,342.95 L801.01,343.25 L801.33,343.54 L801.65,343.83 L801.97,344.11 L802.28,344.40 L802.60,344.68 L802.92,344.95 L803.24,345.23 L803.55,345.50 L803.87,345.77 L804.19,346.03 L804.51,346.30 L804.82,346.56 L805.14,346.82 L805.46,347.07 L805.78,347.33 L806.10,347.58 L806.41,347.82 L806.73,348.07 L807.05,348.31 L807.37,348.55 L807.68,348.79 L808.00,349.03 L808.32,349.26 L808.64,349.49 L808.95,349.72 L809.27,349.95 L809.59,350.17 L809.91,350.39 L810.22,350.61 L810.54,350.83 L810.86,351.05 L811.18,351.26 L811.49,351.47 L811.81,351.68 L812.13,351.89 L812.45,352.09 L812.76,352.30 L813.08,352.50 L813.40,352.70 L813.72,352.90 L814.03,353.09 L814.35,353.28 L814.67,353.48 L814.99,353.67 L815.30,353.85 L815.62,354.04 L815.94,354.23 L816.26,354.41 L816.57,354.59 L816.89,354.77 L817.21,354.95 L817.53,355.12 L817.84,355.30 L818.16,355.47 L818.48,355.64 L818.80,355.81 L819.11,355.98 L819.43,356.14 L819.75,356.31 L820.07,356.47 L820.39,356.63 L820.70,356.79 L821.02,356.95 L821.34,357.10 L821.66,357.26 L821.97,357.41 L822.29,357.57 L822.61,357.72 L822.93,357.87 L823.24,358.01 L823.56,358.16 L823.88,358.31 L824.20,358.45 L824.51,358.59 L824.83,358.74 L825.15,358.88 L825.47,359.01 L825.78,359.15 L826.10,359.29 L826.42,359.42 L826.74,359.56 L827.05,359.69 L827.37,359.82 L827.69,359.95 L828.01,360.08 L828.32,360.21 L828.64,360.33 L828.96,360.46 L829.28,360.58 L829.59,360.71 L829.91,360.83 L830.23,360.95 L830.55,361.07 L830.86,361.19 L831.18,361.31 L831.50,361.42 L831.82,361.54 L832.13,361.65 L832.45,361.77 L832.77,361.88 L833.09,361.99 L833.40,362.10 L833.72,362.21 L834.04,362.32 L834.36,362.43 L834.67,362.53 L834.99,362.64 L835.31,362.74 L835.63,362.85 L835.95,362.95 L836.26,363.05 L836.58,363.15 L836.90,363.25 L837.22,363.35 L837.53,363.45 L837.85,363.55 L838.17,363.65 L838.49,363.74 L838.80,363.84 L839.12,363.93 L839.44,364.02 L839.76,364.12 L840.07,364.21 L840.39,364.30 L840.71,364.39 L841.03,364.48 L841.34,364.57 L841.66,364.66 L841.98,364.74 L842.30,364.83 L842.61,364.91 L842.93,365.00 L843.25,365.08 L843.57,365.17 L843.88,365.25 L844.20,365.33 L844.52,365.41 L844.84,365.49 L845.15,365.57 L845.47,365.65 L845.79,365.73 L846.11,365.81 L846.42,365.89 L846.74,365.96 L847.06,366.04 L847.38,366.11 L847.69,366.19 L848.01,366.26 L848.33,366.34 L848.65,366.41 L848.96,366.48 L849.28,366.55 L849.60,366.62 L849.92,366.69 L850.24,366.76 L850.55,366.83 L850.87,366.90 L851.19,366.97 L851.51,367.04 L851.82,367.10 L852.14,367.17 L852.46,367.23 L852.78,367.30 L853.09,367.36 L853.41,367.43 L853.73,367.49 L854.05,367.56 L854.36,367.62 L854.68,367.68 L855.00,367.74 L855.32,367.80 L855.63,367.86 L855.95,367.92 L856.27,367.98 L856.59,368.04 L856.90,368.10 L857.22,368.16 L857.54,368.22 L857.86,368.27 L858.17,368.33 L858.49,368.39 L858.81,368.44 L859.13,368.50 L859.44,368.55 L859.76,368.61 L860.08,368.66 L860.40,368.71 L860.71,368.77 L861.03,368.82 L861.35,368.87 L861.67,368.92 L861.98,368.98 L862.30,369.03 L862.62,369.08 L862.94,369.13 L863.25,369.18 L863.57,369.23 L863.89,369.28 L864.21,369.32 L864.53,369.37 L864.84,369.42 L865.16,369.47 L865.48,369.51 L865.80,369.56 L866.11,369.61 L866.43,369.65 L866.75,369.70 L867.07,369.74 L867.38,369.79 L867.70,369.83 L868.02,369.88 L868.34,369.92 L868.65,369.97 L868.97,370.01 L869.29,370.05 L869.61,370.09 L869.92,370.14 L870.24,370.18 L870.56,370.22 L870.88,370.26 L871.19,370.30 L871.51,370.34 L871.83,370.38 L872.15,370.42 L872.46,370.46 L872.78,370.50 L873.10,370.54 L873.42,370.58 L873.73,370.62 L874.05,370.66 L874.37,370.69 L874.69,370.73 L875.00,370.77 L875.32,370.80 L875.64,370.84 L875.96,370.88 L876.27,370.91 L876.59,370.95 L876.91,370.99 L877.23,371.02 L877.54,371.06 L877.86,371.09 L878.18,371.12 L878.50,371.16 L878.81,371.19 L879.13,371.23 L879.45,371.26 L879.77,371.29 L880.09,371.33 L880.40,371.36 L880.72,371.39 L881.04,371.42 L881.36,371.46 L881.67,371.49 L881.99,371.52 L882.31,371.55 L882.63,371.58 L882.94,371.61 L883.26,371.64 L883.58,371.67 L883.90,371.70 L884.21,371.73 L884.53,371.76 L884.85,371.79 L885.17,371.82 L885.48,371.85 L885.80,371.88 L886.12,371.91 L886.44,371.94 L886.75,371.96 L887.07,371.99 L887.39,372.02 L887.71,372.05 L888.02,372.08 L888.34,372.10 L888.66,372.13 L888.98,372.16 L889.29,372.18 L889.61,372.21 L889.93,372.24 L890.25,372.26 L890.56,372.29 L890.88,372.31 L891.20,372.34 L891.52,372.36 L891.83,372.39 L892.15,372.41 L892.47,372.44 L892.79,372.46 L893.10,372.49 L893.42,372.51 L893.74,372.54 L894.06,372.56 L894.38,372.58 L894.69,372.61 L895.01,372.63 L895.33,372.65 L895.65,372.68 L895.96,372.70 L896.28,372.72 L896.60,372.74 L896.92,372.77 L897.23,372.79 L897.55,372.81 L897.87,372.83 L898.19,372.85 L898.50,372.88 L898.82,372.90 L899.14,372.92 L899.46,372.94 L899.77,372.96 L900.09,372.98 L900.41,373.00 L900.73,373.02 L901.04,373.04 L901.36,373.06 L901.68,373.08 L902.00,373.10 L902.31,373.12 L902.63,373.14 L902.95,373.16 L903.27,373.18 L903.58,373.20 L903.90,373.22 L904.22,373.24 L904.54,373.26 L904.85,373.28 L905.17,373.29 L905.49,373.31 L905.81,373.33 L906.12,373.35 L906.44,373.37 L906.76,373.39 L907.08,373.40 L907.39,373.42 L907.71,373.44 L908.03,373.46 L908.35,373.47 L908.67,373.49 L908.98,373.51 L909.30,373.52 L909.62,373.54 L909.94,373.56 L910.25,373.57 L910.57,373.59 L910.89,373.61 L911.21,373.62 L911.52,373.64 L911.84,373.66 L912.16,373.67 L912.48,373.69 L912.79,373.70 L913.11,373.72 L913.43,373.74 L913.75,373.75 L914.06,373.77 L914.38,373.78 L914.70,373.80 L915.02,373.81 L915.33,373.83 L915.65,373.84 L915.97,373.86 L916.29,373.87 L916.60,373.88 L916.92,373.90 L917.24,373.91 L917.56,373.93 L917.87,373.94 L918.19,373.96 L918.51,373.97 L918.83,373.98 L919.14,374.00 L919.46,374.01 L919.78,374.03 L920.10,374.04 L920.41,374.05 L920.73,374.07 L921.05,374.08 L921.37,374.09 L921.68,374.10 L922.00,374.12 L922.32,374.13 L922.64,374.14 L922.95,374.16 L923.27,374.17 L923.59,374.18 L923.91,374.19 L924.23,374.21 L924.54,374.22 L924.86,374.23 L925.18,374.24 L925.50,374.25 L925.81,374.27 L926.13,374.28 L926.45,374.29 L926.77,374.30 L927.08,374.31 L927.40,374.33 L927.72,374.34 L928.04,374.35 L928.35,374.36 L928.67,374.37 L928.99,374.38 L929.31,374.39 L929.62,374.40 L929.94,374.42 L930.26,374.43 L930.58,374.44 L930.89,374.45 L931.21,374.46 L931.53,374.47 L931.85,374.48 L932.16,374.49 L932.48,374.50 L932.80,374.51 L933.12,374.52 L933.43,374.53 L933.75,374.54 L934.07,374.55 L934.39,374.56 L934.70,374.57 L935.02,374.58 L935.34,374.59 L935.66,374.60 L935.97,374.61 L936.29,374.62 L936.61,374.63 L936.93,374.64 L937.24,374.65 L937.56,374.66 L937.88,374.67 L938.20,374.68 L938.52,374.69 L938.83,374.70 L939.15,374.71 L939.47,374.72 L939.79,374.72 L940.10,374.73 L940.42,374.74 L940.74,374.75 L941.06,374.76 L941.37,374.77 L941.69,374.78 L942.01,374.79 L942.33,374.80 L942.64,374.80 L942.96,374.81 L943.28,374.82 L943.60,374.83 L943.91,374.84 L944.23,374.85 L944.55,374.85 L944.87,374.86 L945.18,374.87 L945.50,374.88 L945.82,374.89 L946.14,374.89 L946.45,374.90 L946.77,374.91 L947.09,374.92 L947.41,374.93 L947.72,374.93 L948.04,374.94 L948.36,374.95 L948.68,374.96 L948.99,374.96 L949.31,374.97 L949.63,374.98 L949.95,374.99 L950.26,374.99 L950.58,375.00 L950.90,375.01 L951.22,375.02 L951.53,375.02 L951.85,375.03 L952.17,375.04 L952.49,375.04 L952.81,375.05 L953.12,375.06 L953.44,375.07 L953.76,375.07 L954.08,375.08 L954.39,375.09 L954.71,375.09 L955.03,375.10 L955.35,375.11 L955.66,375.11 L955.98,375.12 L956.30,375.13 L956.62,375.13 L956.93,375.14 L957.25,375.15 L957.57,375.15 L957.89,375.16 L958.20,375.16 L958.52,375.17 L958.84,375.18 L959.16,375.18 L959.47,375.19 L959.79,375.20 L960.11,375.20 L960.43,375.21 L960.74,375.21 L961.06,375.22 L961.38,375.23 L961.70,375.23 L962.01,375.24 L962.33,375.24 L962.65,375.25 L962.97,375.25 L963.28,375.26 L963.60,375.27 L963.92,375.27 L964.24,375.28 L964.55,375.28 L964.87,375.29 L965.19,375.29 L965.51,375.30 L965.82,375.31 L966.14,375.31 L966.46,375.32 L966.78,375.32 L967.09,375.33 L967.41,375.33 L967.73,375.34 L968.05,375.34 L968.37,375.35 L968.68,375.35 L969.00,375.36 L969.32,375.36 L969.64,375.37 L969.95,375.37 L970.27,375.38 L970.59,375.38 L970.91,375.39 L971.22,375.39 L971.54,375.40 L971.86,375.40 L972.18,375.41 L972.49,375.41 L972.81,375.42 L973.13,375.42 L973.45,375.43 L973.76,375.43 L974.08,375.44 L974.40,375.44 L974.72,375.45 L975.03,375.45 L975.35,375.46 L975.67,375.46 L975.99,375.47 L976.30,375.47 L976.62,375.47 L976.94,375.48 L977.26,375.48 L977.57,375.49 L977.89,375.49 L978.21,375.50 L978.53,375.50 L978.84,375.51 L979.16,375.51 L979.48,375.51 L979.80,375.52 L980.11,375.52 L980.43,375.53 L980.75,375.53 L981.07,375.54 L981.38,375.54 L981.70,375.54 L982.02,375.55 L982.34,375.55 L982.66,375.56 L982.97,375.56 L983.29,375.56 L983.61,375.57 L983.93,375.57 L984.24,375.58 L984.56,375.58 L984.88,375.58 L985.20,375.59 L985.51,375.59 L985.83,375.60 L986.15,375.60 L986.47,375.60 L986.78,375.61 L987.10,375.61 L987.42,375.61 L987.74,375.62 L988.05,375.62 L988.37,375.63 L988.69,375.63 L989.01,375.63 L989.32,375.64 L989.64,375.64 L989.96,375.64 L990.28,375.65 L990.59,375.65 L990.91,375.65 L991.23,375.66 L991.55,375.66 L991.86,375.66 L992.18,375.67 L992.50,375.67 L992.82,375.67 L993.13,375.68 L993.45,375.68 L993.77,375.69 L994.09,375.69 L994.40,375.69 L994.72,375.70 L995.04,375.70 L995.36,375.70 L995.67,375.70 L995.99,375.71 L996.31,375.71 L996.63,375.71 L996.95,375.72 L997.26,375.72 L997.58,375.72 L997.90,375.73 L998.22,375.73 L998.53,375.73 L998.85,375.74 L999.17,375.74 L999.49,375.74 L999.80,375.75 L1000.12,375.75 L1000.44,375.75 L1000.76,375.75 L1001.07,375.76 L1001.39,375.76 L1001.71,375.76 L1002.03,375.77 L1002.34,375.77 L1002.66,375.77 L1002.98,375.77 L1003.30,375.78 L1003.61,375.78 L1003.93,375.78 L1004.25,375.79 L1004.57,375.79 L1004.88,375.79 L1005.20,375.79 L1005.52,375.80 L1005.84,375.80 L1006.15,375.80 L1006.47,375.81 L1006.79,375.81 L1007.11,375.81 L1007.42,375.81 L1007.74,375.82 L1008.06,375.82 L1008.38,375.82 L1008.69,375.82 L1009.01,375.83 L1009.33,375.83 L1009.65,375.83 L1009.96,375.83 L1010.28,375.84 L1010.60,375.84 L1010.92,375.84 L1011.23,375.84 L1011.55,375.85 L1011.87,375.85 L1012.19,375.85 L1012.51,375.85 L1012.82,375.86 L1013.14,375.86 L1013.46,375.86 L1013.78,375.86 L1014.09,375.87 L1014.41,375.87 L1014.73,375.87 L1015.05,375.87 L1015.36,375.88 L1015.68,375.88 L1016.00,375.88 L1016.32,375.88 L1016.63,375.88 L1016.95,375.89 L1017.27,375.89" stroke="#8b0000"/>
<path d="M777.75,45.58 L778.01,48.32 L778.28,51.04 L778.54,53.73 L778.81,56.39 L779.08,59.03 L779.34,61.64 L779.61,64.23 L779.88,66.79 L780.14,69.32 L780.41,71.84 L780.68,74.33 L780.94,76.79 L781.21,79.23 L781.48,81.65 L781.74,84.05 L782.01,86.42 L782.27,88.77 L782.54,91.10 L782.81,93.41 L783.07,95.69 L783.34,97.96 L783.61,100.20 L783.87,102.42 L784.14,104.62 L784.41,106.80 L784.67,108.96 L784.94,111.10 L785.21,113.22 L785.47,115.32 L785.74,117.40 L786.00,119.46 L786.27,121.50 L786.54,123.52 L786.80,125.53 L787.07,127.51 L787.34,129.48 L787.60,131.43 L787.87,133.36 L788.14,135.27 L788.40,137.17 L788.67,139.05 L788.94,140.91 L789.20,142.75 L789.47,144.58 L789.73,146.39 L790.00,148.19 L790.27,149.96 L790.53,151.73 L790.80,153.47 L791.07,155.20 L791.33,156.92 L791.60,158.62 L791.87,160.30 L792.13,161.97 L792.40,163.62 L792.67,165.26 L792.93,166.88 L793.20,168.49 L793.46,170.09 L793.73,171.67 L794.00,173.24 L794.26,174.79 L794.53,176.33 L794.80,177.85 L795.06,179.36 L795.33,180.86 L795.60,182.35 L795.86,183.82 L796.13,185.28 L796.40,186.72 L796.66,188.16 L796.93,189.58 L797.19,190.99 L797.46,192.38 L797.73,193.76 L797.99,195.14 L798.26,196.50 L798.53,197.84 L798.79,199.18 L799.06,200.50 L799.33,201.82 L799.59,203.12 L799.86,204.41 L800.13,205.68 L800.39,206.95 L800.66,208.21 L800.92,209.45 L801.19,210.69 L801.46,211.91 L801.72,213.13 L801.99,214.33 L802.26,215.52 L802.52,216.71 L802.79,217.88 L803.06,219.04 L803.32,220.19 L803.59,221.34 L803.86,222.47 L804.12,223.59 L804.39,224.71 L804.65,225.81 L804.92,226.91 L805.19,227.99 L805.45,229.07 L805.72,230.14 L805.99,231.20 L806.25,232.24 L806.52,233.29 L806.79,234.32 L807.05,235.34 L807.32,236.36 L807.59,237.36 L807.85,238.36 L808.12,239.35 L808.38,240.33 L808.65,241.30 L808.92,242.27 L809.18,243.22 L809.45,244.17 L809.72,245.11 L809.98,246.05 L810.25,246.97 L810.52,247.89 L810.78,248.80 L811.05,249.70 L811.32,250.60 L811.58,251.49 L811.85,252.37 L812.11,253.24 L812.38,254.11 L812.65,254.97 L812.91,255.82 L813.18,256.66 L813.45,257.50 L813.71,258.33 L813.98,259.16 L814.25,259.98 L814.51,260.79 L814.78,261.59 L815.05,262.39 L815.31,263.18 L815.58,263.97 L815.85,264.75 L816.11,265.52 L816.38,266.28 L816.64,267.04 L816.91,267.80 L817.18,268.55 L817.44,269.29 L817.71,270.02 L817.98,270.76 L818.24,271.48 L818.51,272.20 L818.78,272.91 L819.04,273.62 L819.31,274.32 L819.58,275.02 L819.84,275.71 L820.11,276.39 L820.37,277.07 L820.64,277.74 L820.91,278.41 L821.17,279.08 L821.44,279.73 L821.71,280.39 L821.97,281.04 L822.24,281.68 L822.51,282.32 L822.77,282.95 L823.04,283.58 L823.31,284.20 L823.57,284.82 L823.84,285.43 L824.10,286.04 L824.37,286.64 L824.64,287.24 L824.90,287.84 L825.17,288.43 L825.44,289.01 L825.70,289.59 L825.97,290.17 L826.24,290.74 L826.50,291.31 L826.77,291.87 L827.04,292.43 L827.30,292.98 L827.57,293.53 L827.83,294.08 L828.10,294.62 L828.37,295.16 L828.63,295.69 L828.90,296.22 L829.17,296.74 L829.43,297.27 L829.70,297.78 L829.97,298.30 L830.23,298.81 L830.50,299.31 L830.77,299.81 L831.03,300.31 L831.30,300.80 L831.56,301.29 L831.83,301.78 L832.10,302.26 L832.36,302.74 L832.63,303.22 L832.90,303.69 L833.16,304.16 L833.43,304.62 L833.70,305.09 L833.96,305.54 L834.23,306.00 L834.50,306.45 L834.76,306.90 L835.03,307.34 L835.29,307.78 L835.56,308.22 L835.83,308.66 L836.09,309.09 L836.36,309.52 L836.63,309.94 L836.89,310.36 L837.16,310.78 L837.43,311.20 L837.69,311.61 L837.96,312.02 L838.23,312.43 L838.49,312.83 L838.76,313.23 L839.02,313.63 L839.29,314.02 L839.56,314.41 L839.82,314.80 L840.09,315.19 L840.36,315.57 L840.62,315.95 L840.89,316.33 L841.16,316.71 L841.42,317.08 L841.69,317.45 L841.96,317.82 L842.22,318.18 L842.49,318.54 L842.75,318.90 L843.02,319.26 L843.29,319.61 L843.55,319.96 L843.82,320.31 L844.09,320.66 L844.35,321.00 L844.62,321.34 L844.89,321.68 L845.15,322.02 L845.42,322.35 L845.69,322.68 L845.95,323.01 L846.22,323.34 L846.48,323.66 L846.75,323.98 L847.02,324.30 L847.28,324.62 L847.55,324.94 L847.82,325.25 L848.08,325.56 L848.35,325.87 L848.62,326.18 L848.88,326.48 L849.15,326.78 L849.42,327.08 L849.68,327.38 L849.95,327.68 L850.21,327.97 L850.48,328.26 L850.75,328.55 L851.01,328.84 L851.28,329.13 L851.55,329.41 L851.81,329.69 L852.08,329.97 L852.35,330.25 L852.61,330.52 L852.88,330.80 L853.15,331.07 L853.41,331.34 L853.68,331.61 L853.94,331.87 L854.21,332.14 L854.48,332.40 L854.74,332.66 L855.01,332.92 L855.28,333.18 L855.54,333.43 L855.81,333.69 L856.08,333.94 L856.34,334.19 L856.61,334.44 L856.88,334.69 L857.14,334.93 L857.41,335.17 L857.68,335.42 L857.94,335.66 L858.21,335.89 L858.47,336.13 L858.74,336.37 L859.01,336.60 L859.27,336.83 L859.54,337.06 L859.81,337.29 L860.07,337.52 L860.34,337.74 L860.61,337.97 L860.87,338.19 L861.14,338.41 L861.41,338.63 L861.67,338.85 L861.94,339.07 L862.20,339.28 L862.47,339.50 L862.74,339.71 L863.00,339.92 L863.27,340.13 L863.54,340.34 L863.80,340.55 L864.07,340.75 L864.34,340.95 L864.60,341.16 L864.87,341.36 L865.14,341.56 L865.40,341.76 L865.67,341.95 L865.93,342.15 L866.20,342.35 L866.47,342.54 L866.73,342.73 L867.00,342.92 L867.27,343.11 L867.53,343.30 L867.80,343.49 L868.07,343.67 L868.33,343.86 L868.60,344.04 L868.87,344.22 L869.13,344.41 L869.40,344.58 L869.66,344.76 L869.93,344.94 L870.20,345.12 L870.46,345.29 L870.73,345.47 L871.00,345.64 L871.26,345.81 L871.53,345.98 L871.80,346.15 L872.06,346.32 L872.33,346.49 L872.60,346.65 L872.86,346.82 L873.13,346.98 L873.39,347.15 L873.66,347.31 L873.93,347.47 L874.19,347.63 L874.46,347.79 L874.73,347.95 L874.99,348.10 L875.26,348.26 L875.53,348.41 L875.79,348.57 L876.06,348.72 L876.33,348.87 L876.59,349.02 L876.86,349.17 L877.12,349.32 L877.39,349.47 L877.66,349.62 L877.92,349.76 L878.19,349.91 L878.46,350.05 L878.72,350.20 L878.99,350.34 L879.26,350.48 L879.52,350.62 L879.79,350.76 L880.06,350.90 L880.32,351.04 L880.59,351.18 L880.85,351.31 L881.12,351.45 L881.39,351.58 L881.65,351.72 L881.92,351.85 L882.19,351.98 L882.45,352.11 L882.72,352.24 L882.99,352.37 L883.25,352.50 L883.52,352.63 L883.79,352.76 L884.05,352.88 L884.32,353.01 L884.58,353.13 L884.85,353.26 L885.12,353.38 L885.38,353.50 L885.65,353.63 L885.92,353.75 L886.18,353.87 L886.45,353.99 L886.72,354.11 L886.98,354.22 L887.25,354.34 L887.52,354.46 L887.78,354.57 L888.05,354.69 L888.31,354.80 L888.58,354.92 L888.85,355.03 L889.11,355.14 L889.38,355.25 L889.65,355.36 L889.91,355.47 L890.18,355.58 L890.45,355.69 L890.71,355.80 L890.98,355.91 L891.25,356.02 L891.51,356.12 L891.78,356.23 L892.04,356.33 L892.31,356.44 L892.58,356.54 L892.84,356.64 L893.11,356.75 L893.38,356.85 L893.64,356.95 L893.91,357.05 L894.18,357.15 L894.44,357.25 L894.71,357.35 L894.98,357.45 L895.24,357.55 L895.51,357.64 L895.77,357.74 L896.04,357.84 L896.31,357.93 L896.57,358.03 L896.84,358.12 L897.11,358.21 L897.37,358.31 L897.64,358.40 L897.91,358.49 L898.17,358.58 L898.44,358.67 L898.71,358.76 L898.97,358.85 L899.24,358.94 L899.51,359.03 L899.77,359.12 L900.04,359.21 L900.30,359.29 L900.57,359.38 L900.84,359.47 L901.10,359.55 L901.37,359.64 L901.64,359.72 L901.90,359.81 L902.17,359.89 L902.44,359.97 L902.70,360.06 L902.97,360.14 L903.24,360.22 L903.50,360.30 L903.77,360.38 L904.03,360.46 L904.30,360.54 L904.57,360.62 L904.83,360.70 L905.10,360.78 L905.37,360.86 L905.63,360.93 L905.90,361.01 L906.17,361.09 L906.43,361.16 L906.70,361.24 L906.97,361.32 L907.23,361.39 L907.50,361.46 L907.76,361.54 L908.03,361.61 L908.30,361.69 L908.56,361.76 L908.83,361.83 L909.10,361.90 L909.36,361.97 L909.63,362.04 L909.90,362.12 L910.16,362.19 L910.43,362.26 L910.70,362.33 L910.96,362.39 L911.23,362.46 L911.49,362.53 L911.76,362.60 L912.03,362.67 L912.29,362.73 L912.56,362.80 L912.83,362.87 L913.09,362.93 L913.36,363.00 L913.63,363.06 L913.89,363.13 L914.16,363.19 L914.43,363.26 L914.69,363.32 L914.96,363.38 L915.22,363.45 L915.49,363.51 L915.76,363.57 L916.02,363.63 L916.29,363.70 L916.56,363.76 L916.82,363.82 L917.09,363.88 L917.36,363.94 L917.62,364.00 L917.89,364.06 L918.16,364.12 L918.42,364.18 L918.69,364.23 L918.95,364.29 L919.22,364.35 L919.49,364.41 L919.75,364.47 L920.02,364.52 L920.29,364.58 L920.55,364.64 L920.82,364.69 L921.09,364.75 L921.35,364.80 L921.62,364.86 L921.89,364.91 L922.15,364.97 L922.42,365.02 L922.68,365.08 L922.95,365.13 L923.22,365.18 L923.48,365.24 L923.75,365.29 L924.02,365.34 L924.28,365.39 L924.55,365.44 L924.82,365.50 L925.08,365.55 L925.35,365.60 L925.62,365.65 L925.88,365.70 L926.15,365.75 L926.41,365.80 L926.68,365.85 L926.95,365.90 L927.21,365.95 L927.48,366.00 L927.75,366.04 L928.01,366.09 L928.28,366.14 L928.55,366.19 L928.81,366.24 L929.08,366.28 L929.35,366.33 L929.61,366.38 L929.88,366.42 L930.14,366.47 L930.41,366.52 L930.68,366.56 L930.94,366.61 L931.21,366.65 L931.48,366.70 L931.74,366.74 L932.01,366.79 L932.28,366.83 L932.54,366.87 L932.81,366.92 L933.08,366.96 L933.34,367.01 L933.61,367.05 L933.87,367.09 L934.14,367.13 L934.41,367.18 L934.67,367.22 L934.94,367.26 L935.21,367.30 L935.47,367.34 L935.74,367.38 L936.01,367.43 L936.27,367.47 L936.54,367.51 L936.81,367.55 L937.07,367.59 L937.34,367.63 L937.60,367.67 L937.87,367.71 L938.14,367.75 L938.40,367.79 L938.67,367.82 L938.94,367.86 L939.20,367.90 L939.47,367.94 L939.74,367.98 L940.00,368.02 L940.27,368.05 L940.54,368.09 L940.80,368.13 L941.07,368.17 L941.34,368.20 L941.60,368.24 L941.87,368.28 L942.13,368.31 L942.40,368.35 L942.67,368.39 L942.93,368.42 L943.20,368.46 L943.47,368.49 L943.73,368.53 L944.00,368.56 L944.27,368.60 L944.53,368.63 L944.80,368.67 L945.07,368.70 L945.33,368.73 L945.60,368.77 L945.86,368.80 L946.13,368.84 L946.40,368.87 L946.66,368.90 L946.93,368.94 L947.20,368.97 L947.46,369.00 L947.73,369.03 L948.00,369.07 L948.26,369.10 L948.53,369.13 L948.80,369.16 L949.06,369.20 L949.33,369.23 L949.59,369.26 L949.86,369.29 L950.13,369.32 L950.39,369.35 L950.66,369.38 L950.93,369.41 L951.19,369.44 L951.46,369.47 L951.73,369.50 L951.99,369.53 L952.26,369.56 L952.53,369.59 L952.79,369.62 L953.06,369.65 L953.32,369.68 L953.59,369.71 L953.86,369.74 L954.12,369.77 L954.39,369.80 L954.66,369.83 L954.92,369.85 L955.19,369.88 L955.46,369.91 L955.72,369.94 L955.99,369.97 L956.26,369.99 L956.52,370.02 L956.79,370.05 L957.05,370.08 L957.32,370.10 L957.59,370.13 L957.85,370.16 L958.12,370.18 L958.39,370.21 L958.65,370.24 L958.92,370.26 L959.19,370.29 L959.45,370.32 L959.72,370.34 L959.99,370.37 L960.25,370.39 L960.52,370.42 L960.78,370.45 L961.05,370.47 L961.32,370.50 L961.58,370.52 L961.85,370.55 L962.12,370.57 L962.38,370.60 L962.65,370.62 L962.92,370.64 L963.18,370.67 L963.45,370.69 L963.72,370.72 L963.98,370.74 L964.25,370.76 L964.51,370.79 L964.78,370.81 L965.05,370.84 L965.31,370.86 L965.58,370.88 L965.85,370.91 L966.11,370.93 L966.38,370.95 L966.65,370.97 L966.91,371.00 L967.18,371.02 L967.45,371.04 L967.71,371.06 L967.98,371.09 L968.24,371.11 L968.51,371.13 L968.78,371.15 L969.04,371.17 L969.31,371.20 L969.58,371.22 L969.84,371.24 L970.11,371.26 L970.38,371.28 L970.64,371.30 L970.91,371.32 L971.18,371.35 L971.44,371.37 L971.71,371.39 L971.97,371.41 L972.24,371.43 L972.51,371.45 L972.77,371.47 L973.04,371.49 L973.31,371.51 L973.57,371.53 L973.84,371.55 L974.11,371.57 L974.37,371.59 L974.64,371.61 L974.91,371.63 L975.17,371.65 L975.44,371.67 L975.70,371.69 L975.97,371.71 L976.24,371.73 L976.50,371.75 L976.77,371.76 L977.04,371.78 L977.30,371.80 L977.57,371.82 L977.84,371.84 L978.10,371.86 L978.37,371.88 L978.64,371.89 L978.90,371.91 L979.17,371.93 L979.43,371.95 L979.70,371.97 L979.97,371.99 L980.23,372.00 L980.50,372.02 L980.77,372.04 L981.03,372.06 L981.30,372.07 L981.57,372.09 L981.83,372.11 L982.10,372.13 L982.37,372.14 L982.63,372.16 L982.90,372.18 L983.17,372.19 L983.43,372.21 L983.70,372.23 L983.96,372.24 L984.23,372.26 L984.50,372.28 L984.76,372.29 L985.03,372.31 L985.30,372.33 L985.56,372.34 L985.83,372.36 L986.10,372.38 L986.36,372.39 L986.63,372.41 L986.90,372.42 L987.16,372.44 L987.43,372.46 L987.69,372.47 L987.96,372.49 L988.23,372.50 L988.49,372.52 L988.76,372.53 L989.03,372.55 L989.29,372.56 L989.56,372.58 L989.83,372.59 L990.09,372.61 L990.36,372.62 L990.63,372.64 L990.89,372.65 L991.16,372.67 L991.42,372.68 L991.69,372.70 L991.96,372.71 L992.22,372.73 L992.49,372.74 L992.76,372.76 L993.02,372.77 L993.29,372.78 L993.56,372.80 L993.82,372.81 L994.09,372.83 L994.36,372.84 L994.62,372.85 L994.89,372.87 L995.15,372.88 L995.42,372.89 L995.69,372.91 L995.95,372.92 L996.22,372.94 L996.49,372.95 L996.75,372.96 L997.02,372.98 L997.29,372.99 L997.55,373.00 L997.82,373.02 L998.09,373.03 L998.35,373.04 L998.62,373.05 L998.88,373.07 L999.15,373.08 L999.42,373.09 L999.68,373.11 L999.95,373.12 L1000.22,373.13 L1000.48,373.14 L1000.75,373.16 L1001.02,373.17 L1001.28,373.18 L1001.55,373.19 L1001.82,373.21 L1002.08,373.22 L1002.35,373.23 L1002.61,373.24 L1002.88,373.25 L1003.15,373.27 L1003.41,373.28 L1003.68,373.29 L1003.95,373.30 L1004.21,373.31 L1004.48,373.33 L1004.75,373.34 L1005.01,373.35 L1005.28,373.36 L1005.55,373.37 L1005.81,373.38 L1006.08,373.40 L1006.34,373.41 L1006.61,373.42 L1006.88,373.43 L1007.14,373.44 L1007.41,373.45 L1007.68,373.46 L1007.94,373.47 L1008.21,373.49 L1008.48,373.50 L1008.74,373.51 L1009.01,373.52 L1009.28,373.53 L1009.54,373.54 L1009.81,373.55 L1010.07,373.56 L1010.34,373.57 L1010.61,373.58 L1010.87,373.59 L1011.14,373.60 L1011.41,373.61 L1011.67,373.62 L1011.94,373.64 L1012.21,373.65 L1012.47,373.66 L1012.74,373.67 L1013.01,373.68 L1013.27,373.69 L1013.54,373.70 L1013.80,373.71 L1014.07,373.72 L1014.34,373.73 L1014.60,373.74 L1014.87,373.75 L1015.14,373.76 L1015.40,373.77 L1015.67,373.78 L1015.94,373.79 L1016.20,373.80 L1016.47,373.81 L1016.74,373.81 L1017.00,373.82 L1017.27,373.83" stroke="#ff0000"/>
<path d="M827.14,51.51 L827.35,53.21 L827.56,54.90 L827.77,56.58 L827.98,58.26 L828.20,59.92 L828.41,61.57 L828.62,63.21 L828.83,64.84 L829.04,66.46 L829.25,68.07 L829.47,69.68 L829.68,71.27 L829.89,72.85 L830.10,74.42 L830.31,75.99 L830.52,77.54 L830.73,79.09 L830.95,80.62 L831.16,82.15 L831.37,83.66 L831.58,85.17 L831.79,86.67 L832.00,88.16 L832.21,89.64 L832.43,91.11 L832.64,92.58 L832.85,94.03 L833.06,95.48 L833.27,96.91 L833.48,98.34 L833.69,99.76 L833.91,101.17 L834.12,102.58 L834.33,103.97 L834.54,105.36 L834.75,106.74 L834.96,108.11 L835.18,109.47 L835.39,110.82 L835.60,112.17 L835.81,113.51 L836.02,114.84 L836.23,116.16 L836.44,117.47 L836.66,118.78 L836.87,120.08 L837.08,121.37 L837.29,122.66 L837.50,123.93 L837.71,125.20 L837.92,126.46 L838.14,127.72 L838.35,128.96 L838.56,130.20 L838.77,131.43 L838.98,132.66 L839.19,133.88 L839.41,135.09 L839.62,136.29 L839.83,137.49 L840.04,138.68 L840.25,139.86 L840.46,141.04 L840.67,142.21 L840.89,143.37 L841.10,144.52 L841.31,145.67 L841.52,146.82 L841.73,147.95 L841.94,149.08 L842.15,150.20 L842.37,151.32 L842.58,152.43 L842.79,153.53 L843.00,154.63 L843.21,155.72 L843.42,156.81 L843.63,157.88 L843.85,158.96 L844.06,160.02 L844.27,161.08 L844.48,162.14 L844.69,163.18 L844.90,164.23 L845.12,165.26 L845.33,166.29 L845.54,167.32 L845.75,168.33 L845.96,169.35 L846.17,170.35 L846.38,171.35 L846.60,172.35 L846.81,173.34 L847.02,174.32 L847.23,175.30 L847.44,176.28 L847.65,177.24 L847.86,178.21 L848.08,179.16 L848.29,180.11 L848.50,181.06 L848.71,182.00 L848.92,182.94 L849.13,183.87 L849.35,184.79 L849.56,185.71 L849.77,186.63 L849.98,187.54 L850.19,188.44 L850.40,189.34 L850.61,190.23 L850.83,191.12 L851.04,192.01 L851.25,192.89 L851.46,193.76 L851.67,194.63 L851.88,195.50 L852.09,196.36 L852.31,197.21 L852.52,198.06 L852.73,198.91 L852.94,199.75 L853.15,200.59 L853.36,201.42 L853.58,202.25 L853.79,203.07 L854.00,203.89 L854.21,204.70 L854.42,205.51 L854.63,206.32 L854.84,207.12 L855.06,207.91 L855.27,208.70 L855.48,209.49 L855.69,210.27 L855.90,211.05 L856.11,211.83 L856.32,212.60 L856.54,213.36 L856.75,214.13 L856.96,214.88 L857.17,215.64 L857.38,216.39 L857.59,217.13 L857.80,217.87 L858.02,218.61 L858.23,219.35 L858.44,220.07 L858.65,220.80 L858.86,221.52 L859.07,222.24 L859.29,222.95 L859.50,223.66 L859.71,224.37 L859.92,225.07 L860.13,225.77 L860.34,226.46 L860.55,227.16 L860.77,227.84 L860.98,228.53 L861.19,229.21 L861.40,229.88 L861.61,230.56 L861.82,231.22 L862.03,231.89 L862.25,232.55 L862.46,233.21 L862.67,233.87 L862.88,234.52 L863.09,235.16 L863.30,235.81 L863.52,236.45 L863.73,237.09 L863.94,237.72 L864.15,238.35 L864.36,238.98 L864.57,239.61 L864.78,240.23 L865.00,240.84 L865.21,241.46 L865.42,242.07 L865.63,242.68 L865.84,243.28 L866.05,243.88 L866.26,244.48 L866.48,245.08 L866.69,245.67 L866.90,246.26 L867.11,246.84 L867.32,247.43 L867.53,248.01 L867.74,248.58 L867.96,249.16 L868.17,249.73 L868.38,250.29 L868.59,250.86 L868.80,251.42 L869.01,251.98 L869.23,252.54 L869.44,253.09 L869.65,253.64 L869.86,254.19 L870.07,254.73 L870.28,255.27 L870.49,255.81 L870.71,256.35 L870.92,256.88 L871.13,257.41 L871.34,257.94 L871.55,258.46 L871.76,258.99 L871.97,259.51 L872.19,260.02 L872.40,260.54 L872.61,261.05 L872.82,261.56 L873.03,262.06 L873.24,262.57 L873.46,263.07 L873.67,263.57 L873.88,264.06 L874.09,264.56 L874.30,265.05 L874.51,265.54 L874.72,266.02 L874.94,266.51 L875.15,266.99 L875.36,267.46 L875.57,267.94 L875.78,268.41 L875.99,268.89 L876.20,269.35 L876.42,269.82 L876.63,270.29 L876.84,270.75 L877.05,271.21 L877.26,271.66 L877.47,272.12 L877.68,272.57 L877.90,273.02 L878.11,273.47 L878.32,273.91 L878.53,274.36 L878.74,274.80 L878.95,275.24 L879.17,275.67 L879.38,276.11 L879.59,276.54 L879.80,276.97 L880.01,277.40 L880.22,277.83 L880.43,278.25 L880.65,278.67 L880.86,279.09 L881.07,279.51 L881.28,279.92 L881.49,280.34 L881.70,280.75 L881.91,281.16 L882.13,281.56 L882.34,281.97 L882.55,282.37 L882.76,282.77 L882.97,283.17 L883.18,283.57 L883.40,283.96 L883.61,284.36 L883.82,284.75 L884.03,285.14 L884.24,285.52 L884.45,285.91 L884.66,286.29 L884.88,286.68 L885.09,287.05 L885.30,287.43 L885.51,287.81 L885.72,288.18 L885.93,288.55 L886.14,288.93 L886.36,289.29 L886.57,289.66 L886.78,290.03 L886.99,290.39 L887.20,290.75 L887.41,291.11 L887.62,291.47 L887.84,291.82 L888.05,292.18 L888.26,292.53 L888.47,292.88 L888.68,293.23 L888.89,293.58 L889.11,293.92 L889.32,294.27 L889.53,294.61 L889.74,294.95 L889.95,295.29 L890.16,295.63 L890.37,295.96 L890.59,296.30 L890.80,296.63 L891.01,296.96 L891.22,297.29 L891.43,297.62 L891.64,297.95 L891.85,298.27 L892.07,298.59 L892.28,298.92 L892.49,299.24 L892.70,299.55 L892.91,299.87 L893.12,300.19 L893.34,300.50 L893.55,300.81 L893.76,301.12 L893.97,301.43 L894.18,301.74 L894.39,302.05 L894.60,302.35 L894.82,302.66 L895.03,302.96 L895.24,303.26 L895.45,303.56 L895.66,303.86 L895.87,304.15 L896.08,304.45 L896.30,304.74 L896.51,305.03 L896.72,305.32 L896.93,305.61 L897.14,305.90 L897.35,306.19 L897.57,306.47 L897.78,306.76 L897.99,307.04 L898.20,307.32 L898.41,307.60 L898.62,307.88 L898.83,308.16 L899.05,308.43 L899.26,308.71 L899.47,308.98 L899.68,309.25 L899.89,309.52 L900.10,309.79 L900.31,310.06 L900.53,310.33 L900.74,310.59 L900.95,310.86 L901.16,311.12 L901.37,311.38 L901.58,311.64 L901.79,311.90 L902.01,312.16 L902.22,312.42 L902.43,312.67 L902.64,312.93 L902.85,313.18 L903.06,313.43 L903.28,313.69 L903.49,313.94 L903.70,314.19 L903.91,314.43 L904.12,314.68 L904.33,314.92 L904.54,315.17 L904.76,315.41 L904.97,315.65 L905.18,315.90 L905.39,316.14 L905.60,316.37 L905.81,316.61 L906.02,316.85 L906.24,317.08 L906.45,317.32 L906.66,317.55 L906.87,317.78 L907.08,318.01 L907.29,318.24 L907.51,318.47 L907.72,318.70 L907.93,318.93 L908.14,319.15 L908.35,319.38 L908.56,319.60 L908.77,319.83 L908.99,320.05 L909.20,320.27 L909.41,320.49 L909.62,320.71 L909.83,320.92 L910.04,321.14 L910.25,321.36 L910.47,321.57 L910.68,321.78 L910.89,322.00 L911.10,322.21 L911.31,322.42 L911.52,322.63 L911.73,322.84 L911.95,323.05 L912.16,323.25 L912.37,323.46 L912.58,323.67 L912.79,323.87 L913.00,324.07 L913.22,324.28 L913.43,324.48 L913.64,324.68 L913.85,324.88 L914.06,325.08 L914.27,325.27 L914.48,325.47 L914.70,325.67 L914.91,325.86 L915.12,326.06 L915.33,326.25 L915.54,326.44 L915.75,326.64 L915.96,326.83 L916.18,327.02 L916.39,327.21 L916.60,327.39 L916.81,327.58 L917.02,327.77 L917.23,327.95 L917.45,328.14 L917.66,328.32 L917.87,328.51 L918.08,328.69 L918.29,328.87 L918.50,329.05 L918.71,329.23 L918.93,329.41 L919.14,329.59 L919.35,329.77 L919.56,329.94 L919.77,330.12 L919.98,330.30 L920.19,330.47 L920.41,330.64 L920.62,330.82 L920.83,330.99 L921.04,331.16 L921.25,331.33 L921.46,331.50 L921.67,331.67 L921.89,331.84 L922.10,332.01 L922.31,332.18 L922.52,332.34 L922.73,332.51 L922.94,332.67 L923.16,332.84 L923.37,333.00 L923.58,333.16 L923.79,333.33 L924.00,333.49 L924.21,333.65 L924.42,333.81 L924.64,333.97 L924.85,334.12 L925.06,334.28 L925.27,334.44 L925.48,334.60 L925.69,334.75 L925.90,334.91 L926.12,335.06 L926.33,335.22 L926.54,335.37 L926.75,335.52 L926.96,335.67 L927.17,335.82 L927.39,335.97 L927.60,336.12 L927.81,336.27 L928.02,336.42 L928.23,336.57 L928.44,336.72 L928.65,336.86 L928.87,337.01 L929.08,337.16 L929.29,337.30 L929.50,337.44 L929.71,337.59 L929.92,337.73 L930.13,337.87 L930.35,338.01 L930.56,338.16 L930.77,338.30 L930.98,338.44 L931.19,338.57 L931.40,338.71 L931.61,338.85 L931.83,338.99 L932.04,339.13 L932.25,339.26 L932.46,339.40 L932.67,339.53 L932.88,339.67 L933.10,339.80 L933.31,339.94 L933.52,340.07 L933.73,340.20 L933.94,340.33 L934.15,340.46 L934.36,340.59 L934.58,340.72 L934.79,340.85 L935.00,340.98 L935.21,341.11 L935.42,341.24 L935.63,341.37 L935.84,341.49 L936.06,341.62 L936.27,341.74 L936.48,341.87 L936.69,341.99 L936.90,342.12 L937.11,342.24 L937.33,342.37 L937.54,342.49 L937.75,342.61 L937.96,342.73 L938.17,342.85 L938.38,342.97 L938.59,343.09 L938.81,343.21 L939.02,343.33 L939.23,343.45 L939.44,343.57 L939.65,343.69 L939.86,343.80 L940.07,343.92 L940.29,344.04 L940.50,344.15 L940.71,344.27 L940.92,344.38 L941.13,344.50 L941.34,344.61 L941.55,344.72 L941.77,344.83 L941.98,344.95 L942.19,345.06 L942.40,345.17 L942.61,345.28 L942.82,345.39 L943.04,345.50 L943.25,345.61 L943.46,345.72 L943.67,345.83 L943.88,345.94 L944.09,346.04 L944.30,346.15 L944.52,346.26 L944.73,346.37 L944.94,346.47 L945.15,346.58 L945.36,346.68 L945.57,346.79 L945.78,346.89 L946.00,346.99 L946.21,347.10 L946.42,347.20 L946.63,347.30 L946.84,347.41 L947.05,347.51 L947.27,347.61 L947.48,347.71 L947.69,347.81 L947.90,347.91 L948.11,348.01 L948.32,348.11 L948.53,348.21 L948.75,348.31 L948.96,348.40 L949.17,348.50 L949.38,348.60 L949.59,348.70 L949.80,348.79 L950.01,348.89 L950.23,348.98 L950.44,349.08 L950.65,349.17 L950.86,349.27 L951.07,349.36 L951.28,349.46 L951.50,349.55 L951.71,349.64 L951.92,349.73 L952.13,349.83 L952.34,349.92 L952.55,350.01 L952.76,350.10 L952.98,350.19 L953.19,350.28 L953.40,350.37 L953.61,350.46 L953.82,350.55 L954.03,350.64 L954.24,350.73 L954.46,350.82 L954.67,350.91 L954.88,350.99 L955.09,351.08 L955.30,351.17 L955.51,351.25 L955.72,351.34 L955.94,351.42 L956.15,351.51 L956.36,351.60 L956.57,351.68 L956.78,351.76 L956.99,351.85 L957.21,351.93 L957.42,352.02 L957.63,352.10 L957.84,352.18 L958.05,352.26 L958.26,352.35 L958.47,352.43 L958.69,352.51 L958.90,352.59 L959.11,352.67 L959.32,352.75 L959.53,352.83 L959.74,352.91 L959.95,352.99 L960.17,353.07 L960.38,353.15 L960.59,353.23 L960.80,353.31 L961.01,353.38 L961.22,353.46 L961.44,353.54 L961.65,353.62 L961.86,353.69 L962.07,353.77 L962.28,353.85 L962.49,353.92 L962.70,354.00 L962.92,354.07 L963.13,354.15 L963.34,354.22 L963.55,354.30 L963.76,354.37 L963.97,354.44 L964.18,354.52 L964.40,354.59 L964.61,354.66 L964.82,354.74 L965.03,354.81 L965.24,354.88 L965.45,354.95 L965.66,355.02 L965.88,355.10 L966.09,355.17 L966.30,355.24 L966.51,355.31 L966.72,355.38 L966.93,355.45 L967.15,355.52 L967.36,355.59 L967.57,355.66 L967.78,355.73 L967.99,355.79 L968.20,355.86 L968.41,355.93 L968.63,356.00 L968.84,356.07 L969.05,356.13 L969.26,356.20 L969.47,356.27 L969.68,356.33 L969.89,356.40 L970.11,356.46 L970.32,356.53 L970.53,356.60 L970.74,356.66 L970.95,356.73 L971.16,356.79 L971.38,356.86 L971.59,356.92 L971.80,356.98 L972.01,357.05 L972.22,357.11 L972.43,357.17 L972.64,357.24 L972.86,357.30 L973.07,357.36 L973.28,357.42 L973.49,357.49 L973.70,357.55 L973.91,357.61 L974.12,357.67 L974.34,357.73 L974.55,357.79 L974.76,357.85 L974.97,357.91 L975.18,357.97 L975.39,358.03 L975.60,358.09 L975.82,358.15 L976.03,358.21 L976.24,358.27 L976.45,358.33 L976.66,358.39 L976.87,358.45 L977.09,358.50 L977.30,358.56 L977.51,358.62 L977.72,358.68 L977.93,358.74 L978.14,358.79 L978.35,358.85 L978.57,358.91 L978.78,358.96 L978.99,359.02 L979.20,359.07 L979.41,359.13 L979.62,359.19 L979.83,359.24 L980.05,359.30 L980.26,359.35 L980.47,359.41 L980.68,359.46 L980.89,359.51 L981.10,359.57 L981.32,359.62 L981.53,359.68 L981.74,359.73 L981.95,359.78 L982.16,359.84 L982.37,359.89 L982.58,359.94 L982.80,359.99 L983.01,360.05 L983.22,360.10 L983.43,360.15 L983.64,360.20 L983.85,360.25 L984.06,360.31 L984.28,360.36 L984.49,360.41 L984.70,360.46 L984.91,360.51 L985.12,360.56 L985.33,360.61 L985.54,360.66 L985.76,360.71 L985.97,360.76 L986.18,360.81 L986.39,360.86 L986.60,360.91 L986.81,360.96 L987.03,361.01 L987.24,361.05 L987.45,361.10 L987.66,361.15 L987.87,361.20 L988.08,361.25 L988.29,361.29 L988.51,361.34 L988.72,361.39 L988.93,361.44 L989.14,361.48 L989.35,361.53 L989.56,361.58 L989.77,361.62 L989.99,361.67 L990.20,361.72 L990.41,361.76 L990.62,361.81 L990.83,361.85 L991.04,361.90 L991.26,361.94 L991.47,361.99 L991.68,362.03 L991.89,362.08 L992.10,362.12 L992.31,362.17 L992.52,362.21 L992.74,362.26 L992.95,362.30 L993.16,362.34 L993.37,362.39 L993.58,362.43 L993.79,362.48 L994.00,362.52 L994.22,362.56 L994.43,362.60 L994.64,362.65 L994.85,362.69 L995.06,362.73 L995.27,362.77 L995.49,362.82 L995.70,362.86 L995.91,362.90 L996.12,362.94 L996.33,362.98 L996.54,363.03 L996.75,363.07 L996.97,363.11 L997.18,363.15 L997.39,363.19 L997.60,363.23 L997.81,363.27 L998.02,363.31 L998.23,363.35 L998.45,363.39 L998.66,363.43 L998.87,363.47 L999.08,363.51 L999.29,363.55 L999.50,363.59 L999.71,363.63 L999.93,363.67 L1000.14,363.71 L1000.35,363.75 L1000.56,363.78 L1000.77,363.82 L1000.98,363.86 L1001.20,363.90 L1001.41,363.94 L1001.62,363.98 L1001.83,364.01 L1002.04,364.05 L1002.25,364.09 L1002.46,364.13 L1002.68,364.16 L1002.89,364.20 L1003.10,364.24 L1003.31,364.27 L1003.52,364.31 L1003.73,364.35 L1003.94,364.38 L1004.16,364.42 L1004.37,364.46 L1004.58,364.49 L1004.79,364.53 L1005.00,364.56 L1005.21,364.60 L1005.43,364.64 L1005.64,364.67 L1005.85,364.71 L1006.06,364.74 L1006.27,364.78 L1006.48,364.81 L1006.69,364.85 L1006.91,364.88 L1007.12,364.92 L1007.33,364.95 L1007.54,364.99 L1007.75,365.02 L1007.96,365.05 L1008.17,365.09 L1008.39,365.12 L1008.60,365.16 L1008.81,365.19 L1009.02,365.22 L1009.23,365.26 L1009.44,365.29 L1009.65,365.32 L1009.87,365.36 L1010.08,365.39 L1010.29,365.42 L1010.50,365.45 L1010.71,365.49 L1010.92,365.52 L1011.14,365.55 L1011.35,365.58 L1011.56,365.62 L1011.77,365.65 L1011.98,365.68 L1012.19,365.71 L1012.40,365.74 L1012.62,365.78 L1012.83,365.81 L1013.04,365.84 L1013.25,365.87 L1013.46,365.90 L1013.67,365.93 L1013.88,365.96 L1014.10,365.99 L1014.31,366.03 L1014.52,366.06 L1014.73,366.09 L1014.94,366.12 L1015.15,366.15 L1015.37,366.18 L1015.58,366.21 L1015.79,366.24 L1016.00,366.27 L1016.21,366.30 L1016.42,366.33 L1016.63,366.36 L1016.85,366.39 L1017.06,366.42 L1017.27,366.45" stroke="#ffa000"/>
<path d="M879.40,55.55 L879.55,56.56 L879.70,57.56 L879.86,58.55 L880.01,59.54 L880.16,60.53 L880.32,61.52 L880.47,62.50 L880.62,63.48 L880.78,64.45 L880.93,65.43 L881.08,66.39 L881.24,67.36 L881.39,68.32 L881.54,69.27 L881.70,70.23 L881.85,71.18 L882.00,72.13 L882.16,73.07 L882.31,74.01 L882.46,74.95 L882.62,75.88 L882.77,76.81 L882.92,77.74 L883.08,78.66 L883.23,79.58 L883.38,80.49 L883.54,81.41 L883.69,82.32 L883.84,83.22 L884.00,84.13 L884.15,85.03 L884.30,85.92 L884.46,86.82 L884.61,87.71 L884.76,88.60 L884.92,89.48 L885.07,90.36 L885.22,91.24 L885.38,92.11 L885.53,92.99 L885.68,93.85 L885.84,94.72 L885.99,95.58 L886.14,96.44 L886.30,97.30 L886.45,98.15 L886.60,99.00 L886.76,99.85 L886.91,100.69 L887.06,101.53 L887.22,102.37 L887.37,103.20 L887.52,104.04 L887.68,104.86 L887.83,105.69 L887.98,106.51 L888.14,107.33 L888.29,108.15 L888.44,108.97 L888.60,109.78 L888.75,110.59 L888.90,111.39 L889.06,112.20 L889.21,113.00 L889.36,113.79 L889.52,114.59 L889.67,115.38 L889.82,116.17 L889.98,116.95 L890.13,117.74 L890.28,118.52 L890.44,119.30 L890.59,120.07 L890.74,120.84 L890.90,121.61 L891.05,122.38 L891.20,123.14 L891.36,123.91 L891.51,124.66 L891.66,125.42 L891.82,126.17 L891.97,126.93 L892.12,127.67 L892.28,128.42 L892.43,129.16 L892.58,129.90 L892.74,130.64 L892.89,131.38 L893.05,132.11 L893.20,132.84 L893.35,133.57 L893.51,134.29 L893.66,135.02 L893.81,135.74 L893.97,136.45 L894.12,137.17 L894.27,137.88 L894.43,138.59 L894.58,139.30 L894.73,140.00 L894.89,140.71 L895.04,141.41 L895.19,142.10 L895.35,142.80 L895.50,143.49 L895.65,144.18 L895.81,144.87 L895.96,145.56 L896.11,146.24 L896.27,146.92 L896.42,147.60 L896.57,148.28 L896.73,148.95 L896.88,149.62 L897.03,150.29 L897.19,150.96 L897.34,151.63 L897.49,152.29 L897.65,152.95 L897.80,153.61 L897.95,154.26 L898.11,154.92 L898.26,155.57 L898.41,156.22 L898.57,156.86 L898.72,157.51 L898.87,158.15 L899.03,158.79 L899.18,159.43 L899.33,160.07 L899.49,160.70 L899.64,161.33 L899.79,161.96 L899.95,162.59 L900.10,163.21 L900.25,163.84 L900.41,164.46 L900.56,165.08 L900.71,165.69 L900.87,166.31 L901.02,166.92 L901.17,167.53 L901.33,168.14 L901.48,168.74 L901.63,169.35 L901.79,169.95 L901.94,170.55 L902.09,171.15 L902.25,171.74 L902.40,172.34 L902.55,172.93 L902.71,173.52 L902.86,174.11 L903.01,174.69 L903.17,175.28 L903.32,175.86 L903.47,176.44 L903.63,177.02 L903.78,177.60 L903.93,178.17 L904.09,178.74 L904.24,179.31 L904.39,179.88 L904.55,180.45 L904.70,181.01 L904.85,181.57 L905.01,182.14 L905.16,182.69 L905.31,183.25 L905.47,183.81 L905.62,184.36 L905.77,184.91 L905.93,185.46 L906.08,186.01 L906.23,186.56 L906.39,187.10 L906.54,187.64 L906.69,188.18 L906.85,188.72 L907.00,189.26 L907.15,189.79 L907.31,190.33 L907.46,190.86 L907.61,191.39 L907.77,191.92 L907.92,192.44 L908.07,192.97 L908.23,193.49 L908.38,194.01 L908.53,194.53 L908.69,195.05 L908.84,195.56 L908.99,196.08 L909.15,196.59 L909.30,197.10 L909.45,197.61 L909.61,198.12 L909.76,198.62 L909.91,199.13 L910.07,199.63 L910.22,200.13 L910.37,200.63 L910.53,201.13 L910.68,201.62 L910.84,202.12 L910.99,202.61 L911.14,203.10 L911.30,203.59 L911.45,204.08 L911.60,204.56 L911.76,205.05 L911.91,205.53 L912.06,206.01 L912.22,206.49 L912.37,206.97 L912.52,207.45 L912.68,207.92 L912.83,208.39 L912.98,208.87 L913.14,209.34 L913.29,209.81 L913.44,210.27 L913.60,210.74 L913.75,211.20 L913.90,211.67 L914.06,212.13 L914.21,212.59 L914.36,213.04 L914.52,213.50 L914.67,213.96 L914.82,214.41 L914.98,214.86 L915.13,215.31 L915.28,215.76 L915.44,216.21 L915.59,216.66 L915.74,217.10 L915.90,217.54 L916.05,217.99 L916.20,218.43 L916.36,218.87 L916.51,219.30 L916.66,219.74 L916.82,220.18 L916.97,220.61 L917.12,221.04 L917.28,221.47 L917.43,221.90 L917.58,222.33 L917.74,222.76 L917.89,223.18 L918.04,223.60 L918.20,224.03 L918.35,224.45 L918.50,224.87 L918.66,225.29 L918.81,225.70 L918.96,226.12 L919.12,226.53 L919.27,226.95 L919.42,227.36 L919.58,227.77 L919.73,228.18 L919.88,228.59 L920.04,228.99 L920.19,229.40 L920.34,229.80 L920.50,230.20 L920.65,230.60 L920.80,231.00 L920.96,231.40 L921.11,231.80 L921.26,232.20 L921.42,232.59 L921.57,232.99 L921.72,233.38 L921.88,233.77 L922.03,234.16 L922.18,234.55 L922.34,234.93 L922.49,235.32 L922.64,235.71 L922.80,236.09 L922.95,236.47 L923.10,236.85 L923.26,237.23 L923.41,237.61 L923.56,237.99 L923.72,238.37 L923.87,238.74 L924.02,239.11 L924.18,239.49 L924.33,239.86 L924.48,240.23 L924.64,240.60 L924.79,240.97 L924.94,241.33 L925.10,241.70 L925.25,242.06 L925.40,242.43 L925.56,242.79 L925.71,243.15 L925.86,243.51 L926.02,243.87 L926.17,244.23 L926.32,244.59 L926.48,244.94 L926.63,245.30 L926.78,245.65 L926.94,246.00 L927.09,246.35 L927.24,246.70 L927.40,247.05 L927.55,247.40 L927.70,247.75 L927.86,248.09 L928.01,248.44 L928.17,248.78 L928.32,249.12 L928.47,249.46 L928.63,249.80 L928.78,250.14 L928.93,250.48 L929.09,250.82 L929.24,251.15 L929.39,251.49 L929.55,251.82 L929.70,252.16 L929.85,252.49 L930.01,252.82 L930.16,253.15 L930.31,253.48 L930.47,253.81 L930.62,254.13 L930.77,254.46 L930.93,254.78 L931.08,255.11 L931.23,255.43 L931.39,255.75 L931.54,256.07 L931.69,256.39 L931.85,256.71 L932.00,257.03 L932.15,257.34 L932.31,257.66 L932.46,257.97 L932.61,258.29 L932.77,258.60 L932.92,258.91 L933.07,259.22 L933.23,259.53 L933.38,259.84 L933.53,260.15 L933.69,260.46 L933.84,260.76 L933.99,261.07 L934.15,261.37 L934.30,261.68 L934.45,261.98 L934.61,262.28 L934.76,262.58 L934.91,262.88 L935.07,263.18 L935.22,263.48 L935.37,263.77 L935.53,264.07 L935.68,264.37 L935.83,264.66 L935.99,264.95 L936.14,265.25 L936.29,265.54 L936.45,265.83 L936.60,266.12 L936.75,266.41 L936.91,266.69 L937.06,266.98 L937.21,267.27 L937.37,267.55 L937.52,267.84 L937.67,268.12 L937.83,268.40 L937.98,268.69 L938.13,268.97 L938.29,269.25 L938.44,269.53 L938.59,269.80 L938.75,270.08 L938.90,270.36 L939.05,270.63 L939.21,270.91 L939.36,271.18 L939.51,271.46 L939.67,271.73 L939.82,272.00 L939.97,272.27 L940.13,272.54 L940.28,272.81 L940.43,273.08 L940.59,273.35 L940.74,273.61 L940.89,273.88 L941.05,274.15 L941.20,274.41 L941.35,274.67 L941.51,274.94 L941.66,275.20 L941.81,275.46 L941.97,275.72 L942.12,275.98 L942.27,276.24 L942.43,276.50 L942.58,276.75 L942.73,277.01 L942.89,277.27 L943.04,277.52 L943.19,277.78 L943.35,278.03 L943.50,278.28 L943.65,278.53 L943.81,278.79 L943.96,279.04 L944.11,279.29 L944.27,279.53 L944.42,279.78 L944.57,280.03 L944.73,280.28 L944.88,280.52 L945.03,280.77 L945.19,281.01 L945.34,281.26 L945.49,281.50 L945.65,281.74 L945.80,281.98 L945.96,282.22 L946.11,282.47 L946.26,282.70 L946.42,282.94 L946.57,283.18 L946.72,283.42 L946.88,283.66 L947.03,283.89 L947.18,284.13 L947.34,284.36 L947.49,284.60 L947.64,284.83 L947.80,285.06 L947.95,285.29 L948.10,285.52 L948.26,285.75 L948.41,285.98 L948.56,286.21 L948.72,286.44 L948.87,286.67 L949.02,286.90 L949.18,287.12 L949.33,287.35 L949.48,287.57 L949.64,287.80 L949.79,288.02 L949.94,288.24 L950.10,288.47 L950.25,288.69 L950.40,288.91 L950.56,289.13 L950.71,289.35 L950.86,289.57 L951.02,289.79 L951.17,290.01 L951.32,290.22 L951.48,290.44 L951.63,290.66 L951.78,290.87 L951.94,291.09 L952.09,291.30 L952.24,291.51 L952.40,291.73 L952.55,291.94 L952.70,292.15 L952.86,292.36 L953.01,292.57 L953.16,292.78 L953.32,292.99 L953.47,293.20 L953.62,293.41 L953.78,293.61 L953.93,293.82 L954.08,294.03 L954.24,294.23 L954.39,294.44 L954.54,294.64 L954.70,294.84 L954.85,295.05 L955.00,295.25 L955.16,295.45 L955.31,295.65 L955.46,295.85 L955.62,296.05 L955.77,296.25 L955.92,296.45 L956.08,296.65 L956.23,296.85 L956.38,297.05 L956.54,297.24 L956.69,297.44 L956.84,297.64 L957.00,297.83 L957.15,298.02 L957.30,298.22 L957.46,298.41 L957.61,298.60 L957.76,298.80 L957.92,298.99 L958.07,299.18 L958.22,299.37 L958.38,299.56 L958.53,299.75 L958.68,299.94 L958.84,300.13 L958.99,300.31 L959.14,300.50 L959.30,300.69 L959.45,300.88 L959.60,301.06 L959.76,301.25 L959.91,301.43 L960.06,301.61 L960.22,301.80 L960.37,301.98 L960.52,302.16 L960.68,302.35 L960.83,302.53 L960.98,302.71 L961.14,302.89 L961.29,303.07 L961.44,303.25 L961.60,303.43 L961.75,303.61 L961.90,303.78 L962.06,303.96 L962.21,304.14 L962.36,304.31 L962.52,304.49 L962.67,304.67 L962.82,304.84 L962.98,305.01 L963.13,305.19 L963.28,305.36 L963.44,305.53 L963.59,305.71 L963.75,305.88 L963.90,306.05 L964.05,306.22 L964.21,306.39 L964.36,306.56 L964.51,306.73 L964.67,306.90 L964.82,307.07 L964.97,307.24 L965.13,307.40 L965.28,307.57 L965.43,307.74 L965.59,307.90 L965.74,308.07 L965.89,308.24 L966.05,308.40 L966.20,308.56 L966.35,308.73 L966.51,308.89 L966.66,309.05 L966.81,309.22 L966.97,309.38 L967.12,309.54 L967.27,309.70 L967.43,309.86 L967.58,310.02 L967.73,310.18 L967.89,310.34 L968.04,310.50 L968.19,310.66 L968.35,310.82 L968.50,310.97 L968.65,311.13 L968.81,311.29 L968.96,311.44 L969.11,311.60 L969.27,311.76 L969.42,311.91 L969.57,312.06 L969.73,312.22 L969.88,312.37 L970.03,312.53 L970.19,312.68 L970.34,312.83 L970.49,312.98 L970.65,313.13 L970.80,313.29 L970.95,313.44 L971.11,313.59 L971.26,313.74 L971.41,313.89 L971.57,314.03 L971.72,314.18 L971.87,314.33 L972.03,314.48 L972.18,314.63 L972.33,314.77 L972.49,314.92 L972.64,315.07 L972.79,315.21 L972.95,315.36 L973.10,315.50 L973.25,315.65 L973.41,315.79 L973.56,315.93 L973.71,316.08 L973.87,316.22 L974.02,316.36 L974.17,316.50 L974.33,316.65 L974.48,316.79 L974.63,316.93 L974.79,317.07 L974.94,317.21 L975.09,317.35 L975.25,317.49 L975.40,317.63 L975.55,317.77 L975.71,317.90 L975.86,318.04 L976.01,318.18 L976.17,318.32 L976.32,318.45 L976.47,318.59 L976.63,318.72 L976.78,318.86 L976.93,319.00 L977.09,319.13 L977.24,319.26 L977.39,319.40 L977.55,319.53 L977.70,319.67 L977.85,319.80 L978.01,319.93 L978.16,320.06 L978.31,320.20 L978.47,320.33 L978.62,320.46 L978.77,320.59 L978.93,320.72 L979.08,320.85 L979.23,320.98 L979.39,321.11 L979.54,321.24 L979.69,321.37 L979.85,321.50 L980.00,321.62 L980.15,321.75 L980.31,321.88 L980.46,322.01 L980.61,322.13 L980.77,322.26 L980.92,322.38 L981.07,322.51 L981.23,322.64 L981.38,322.76 L981.54,322.88 L981.69,323.01 L981.84,323.13 L982.00,323.26 L982.15,323.38 L982.30,323.50 L982.46,323.63 L982.61,323.75 L982.76,323.87 L982.92,323.99 L983.07,324.11 L983.22,324.23 L983.38,324.35 L983.53,324.47 L983.68,324.59 L983.84,324.71 L983.99,324.83 L984.14,324.95 L984.30,325.07 L984.45,325.19 L984.60,325.31 L984.76,325.42 L984.91,325.54 L985.06,325.66 L985.22,325.78 L985.37,325.89 L985.52,326.01 L985.68,326.12 L985.83,326.24 L985.98,326.36 L986.14,326.47 L986.29,326.58 L986.44,326.70 L986.60,326.81 L986.75,326.93 L986.90,327.04 L987.06,327.15 L987.21,327.27 L987.36,327.38 L987.52,327.49 L987.67,327.60 L987.82,327.71 L987.98,327.83 L988.13,327.94 L988.28,328.05 L988.44,328.16 L988.59,328.27 L988.74,328.38 L988.90,328.49 L989.05,328.60 L989.20,328.71 L989.36,328.81 L989.51,328.92 L989.66,329.03 L989.82,329.14 L989.97,329.25 L990.12,329.35 L990.28,329.46 L990.43,329.57 L990.58,329.67 L990.74,329.78 L990.89,329.88 L991.04,329.99 L991.20,330.10 L991.35,330.20 L991.50,330.30 L991.66,330.41 L991.81,330.51 L991.96,330.62 L992.12,330.72 L992.27,330.82 L992.42,330.93 L992.58,331.03 L992.73,331.13 L992.88,331.23 L993.04,331.34 L993.19,331.44 L993.34,331.54 L993.50,331.64 L993.65,331.74 L993.80,331.84 L993.96,331.94 L994.11,332.04 L994.26,332.14 L994.42,332.24 L994.57,332.34 L994.72,332.44 L994.88,332.54 L995.03,332.64 L995.18,332.74 L995.34,332.83 L995.49,332.93 L995.64,333.03 L995.80,333.13 L995.95,333.22 L996.10,333.32 L996.26,333.42 L996.41,333.51 L996.56,333.61 L996.72,333.70 L996.87,333.80 L997.02,333.90 L997.18,333.99 L997.33,334.08 L997.48,334.18 L997.64,334.27 L997.79,334.37 L997.94,334.46 L998.10,334.55 L998.25,334.65 L998.40,334.74 L998.56,334.83 L998.71,334.93 L998.87,335.02 L999.02,335.11 L999.17,335.20 L999.33,335.29 L999.48,335.39 L999.63,335.48 L999.79,335.57 L999.94,335.66 L1000.09,335.75 L1000.25,335.84 L1000.40,335.93 L1000.55,336.02 L1000.71,336.11 L1000.86,336.20 L1001.01,336.29 L1001.17,336.37 L1001.32,336.46 L1001.47,336.55 L1001.63,336.64 L1001.78,336.73 L1001.93,336.82 L1002.09,336.90 L1002.24,336.99 L1002.39,337.08 L1002.55,337.16 L1002.70,337.25 L1002.85,337.34 L1003.01,337.42 L1003.16,337.51 L1003.31,337.59 L1003.47,337.68 L1003.62,337.76 L1003.77,337.85 L1003.93,337.93 L1004.08,338.02 L1004.23,338.10 L1004.39,338.19 L1004.54,338.27 L1004.69,338.35 L1004.85,338.44 L1005.00,338.52 L1005.15,338.60 L1005.31,338.69 L1005.46,338.77 L1005.61,338.85 L1005.77,338.93 L1005.92,339.02 L1006.07,339.10 L1006.23,339.18 L1006.38,339.26 L1006.53,339.34 L1006.69,339.42 L1006.84,339.50 L1006.99,339.58 L1007.15,339.66 L1007.30,339.74 L1007.45,339.82 L1007.61,339.90 L1007.76,339.98 L1007.91,340.06 L1008.07,340.14 L1008.22,340.22 L1008.37,340.30 L1008.53,340.38 L1008.68,340.46 L1008.83,340.53 L1008.99,340.61 L1009.14,340.69 L1009.29,340.77 L1009.45,340.85 L1009.60,340.92 L1009.75,341.00 L1009.91,341.08 L1010.06,341.15 L1010.21,341.23 L1010.37,341.31 L1010.52,341.38 L1010.67,341.46 L1010.83,341.53 L1010.98,341.61 L1011.13,341.68 L1011.29,341.76 L1011.44,341.83 L1011.59,341.91 L1011.75,341.98 L1011.90,342.06 L1012.05,342.13 L1012.21,342.20 L1012.36,342.28 L1012.51,342.35 L1012.67,342.42 L1012.82,342.50 L1012.97,342.57 L1013.13,342.64 L1013.28,342.72 L1013.43,342.79 L1013.59,342.86 L1013.74,342.93 L1013.89,343.00 L1014.05,343.08 L1014.20,343.15 L1014.35,343.22 L1014.51,343.29 L1014.66,343.36 L1014.81,343.43 L1014.97,343.50 L1015.12,343.57 L1015.27,343.64 L1015.43,343.71 L1015.58,343.78 L1015.73,343.85 L1015.89,343.92 L1016.04,343.99 L1016.19,344.06 L1016.35,344.13 L1016.50,344.20 L1016.66,344.27 L1016.81,344.34 L1016.96,344.40 L1017.12,344.47 L1017.27,344.54" stroke="#ffe000"/>
</g>
<rect x="580.6" y="73.7" width="429.50" height="302.70" fill="none" stroke="#000" stroke-width="2.7" stroke-linejoin="round"/>
<line x1="652.19" y1="376.4" x2="652.19" y2="372.20" stroke="#000" stroke-width="2.7" stroke-linecap="round"/>
<line x1="652.19" y1="73.7" x2="652.19" y2="77.90" stroke="#000" stroke-width="2.7" stroke-linecap="round"/>
<line x1="723.77" y1="376.4" x2="723.77" y2="372.20" stroke="#000" stroke-width="2.7" stroke-linecap="round"/>
<line x1="723.77" y1="73.7" x2="723.77" y2="77.90" stroke="#000" stroke-width="2.7" stroke-linecap="round"/>
<line x1="795.36" y1="376.4" x2="795.36" y2="372.20" stroke="#000" stroke-width="2.7" stroke-linecap="round"/>
<line x1="795.36" y1="73.7" x2="795.36" y2="77.90" stroke="#000" stroke-width="2.7" stroke-linecap="round"/>
<line x1="866.94" y1="376.4" x2="866.94" y2="372.20" stroke="#000" stroke-width="2.7" stroke-linecap="round"/>
<line x1="866.94" y1="73.7" x2="866.94" y2="77.90" stroke="#000" stroke-width="2.7" stroke-linecap="round"/>
<line x1="938.53" y1="376.4" x2="938.53" y2="372.20" stroke="#000" stroke-width="2.7" stroke-linecap="round"/>
<line x1="938.53" y1="73.7" x2="938.53" y2="77.90" stroke="#000" stroke-width="2.7" stroke-linecap="round"/>
<line x1="580.6" y1="315.86" x2="584.80" y2="315.86" stroke="#000" stroke-width="2.7" stroke-linecap="round"/>
<line x1="1010.1" y1="315.86" x2="1005.90" y2="315.86" stroke="#000" stroke-width="2.7" stroke-linecap="round"/>
<line x1="580.6" y1="255.32" x2="584.80" y2="255.32" stroke="#000" stroke-width="2.7" stroke-linecap="round"/>
<line x1="1010.1" y1="255.32" x2="1005.90" y2="255.32" stroke="#000" stroke-width="2.7" stroke-linecap="round"/>
<line x1="580.6" y1="194.78" x2="584.80" y2="194.78" stroke="#000" stroke-width="2.7" stroke-linecap="round"/>
<line x1="1010.1" y1="194.78" x2="1005.90" y2="194.78" stroke="#000" stroke-width="2.7" stroke-linecap="round"/>
<line x1="580.6" y1="134.24" x2="584.80" y2="134.24" stroke="#000" stroke-width="2.7" stroke-linecap="round"/>
<line x1="1010.1" y1="134.24" x2="1005.90" y2="134.24" stroke="#000" stroke-width="2.7" stroke-linecap="round"/>
<path d="M543.36,326.46 L543.36,311.38 L541.89,311.38 L537.40,314.80 L537.40,316.79 L541.12,314.31 L541.12,326.46 Z" fill="#000"/>
<text transform="translate(547.44,326.46) scale(1,1.08)" x="0" y="0" font-family="'Liberation Sans', sans-serif" font-size="21" fill="#000" stroke="#000" stroke-width="0.3">00</text>
<text transform="translate(535.76,265.92) scale(1,1.08)" x="0" y="0" font-family="'Liberation Sans', sans-serif" font-size="21" fill="#000" stroke="#000" stroke-width="0.3">200</text>
<text transform="translate(535.76,205.38) scale(1,1.08)" x="0" y="0" font-family="'Liberation Sans', sans-serif" font-size="21" fill="#000" stroke="#000" stroke-width="0.3">300</text>
<text transform="translate(535.76,144.84) scale(1,1.08)" x="0" y="0" font-family="'Liberation Sans', sans-serif" font-size="21" fill="#000" stroke="#000" stroke-width="0.3">400</text>
<text transform="translate(535.76,84.30) scale(1,1.08)" x="0" y="0" font-family="'Liberation Sans', sans-serif" font-size="21" fill="#000" stroke="#000" stroke-width="0.3">500</text>
<text transform="translate(556.52,389.50) scale(1,1.08)" x="0" y="0" font-family="'Liberation Sans', sans-serif" font-size="21" fill="#000" stroke="#000" stroke-width="0.3">0</text>
<text transform="translate(572.26,400.20) scale(1,1.08)" x="0" y="0" font-family="'Liberation Sans', sans-serif" font-size="21" fill="#000" stroke="#000" stroke-width="0.3">0</text>
<text transform="translate(643.85,400.20) scale(1,1.08)" x="0" y="0" font-family="'Liberation Sans', sans-serif" font-size="21" fill="#000" stroke="#000" stroke-width="0.3">5</text>
<path d="M718.39,400.20 L718.39,385.12 L716.92,385.12 L712.43,388.54 L712.43,390.53 L716.15,388.05 L716.15,400.20 Z" fill="#000"/>
<text transform="translate(722.47,400.20) scale(1,1.08)" x="0" y="0" font-family="'Liberation Sans', sans-serif" font-size="21" fill="#000" stroke="#000" stroke-width="0.3">0</text>
<path d="M789.98,400.20 L789.98,385.12 L788.51,385.12 L784.01,388.54 L784.01,390.53 L787.73,388.05 L787.73,400.20 Z" fill="#000"/>
<text transform="translate(794.06,400.20) scale(1,1.08)" x="0" y="0" font-family="'Liberation Sans', sans-serif" font-size="21" fill="#000" stroke="#000" stroke-width="0.3">5</text>
<text transform="translate(853.96,400.20) scale(1,1.08)" x="0" y="0" font-family="'Liberation Sans', sans-serif" font-size="21" fill="#000" stroke="#000" stroke-width="0.3">20</text>
<text transform="translate(925.55,400.20) scale(1,1.08)" x="0" y="0" font-family="'Liberation Sans', sans-serif" font-size="21" fill="#000" stroke="#000" stroke-width="0.3">25</text>
<text transform="translate(997.13,400.20) scale(1,1.08)" x="0" y="0" font-family="'Liberation Sans', sans-serif" font-size="21" fill="#000" stroke="#000" stroke-width="0.3">30</text>
<text x="687.20" y="426.20" font-family="'Liberation Sans', sans-serif" font-size="21" fill="#000" text-anchor="start" stroke="#000" stroke-width="0.3" >System diameter (sites)</text>
<text transform="translate(527.2,359.6) rotate(-90)" font-family="'Liberation Sans', sans-serif" font-size="20.71" fill="#000" stroke="#000" stroke-width="0.3">Energy of 2D crystal (<tspan font-style="italic">h</tspan>·kHz)</text>
<text x="595.20" y="146.10" font-family="'Liberation Sans', sans-serif" font-size="21" fill="#000" text-anchor="start" stroke="#000" stroke-width="0.3" ><tspan font-style="italic">N</tspan></text>
<line x1="613.00" y1="147.50" x2="613.00" y2="155.80" stroke="#222" stroke-width="1.25"/>
<path d="M610.70,148.40 L613.00,145.50 L615.30,148.40 L613.00,147.70 Z" fill="#222"/>
<text x="622.00" y="146.10" font-family="'Liberation Sans', sans-serif" font-size="21" fill="#000" text-anchor="start" stroke="#000" stroke-width="0.3" >=</text>
<text x="639.70" y="146.10" font-family="'Liberation Sans', sans-serif" font-size="21" fill="#000" stroke="#000" stroke-width="0.3">2</text>
<line x1="658.2" y1="139.30" x2="680.0" y2="139.30" stroke="#450000" stroke-width="2.9" stroke-linecap="round"/>
<text x="595.20" y="168.30" font-family="'Liberation Sans', sans-serif" font-size="21" fill="#000" text-anchor="start" stroke="#000" stroke-width="0.3" ><tspan font-style="italic">N</tspan></text>
<line x1="613.00" y1="169.70" x2="613.00" y2="178.00" stroke="#222" stroke-width="1.25"/>
<path d="M610.70,170.60 L613.00,167.70 L615.30,170.60 L613.00,169.90 Z" fill="#222"/>
<text x="622.00" y="168.30" font-family="'Liberation Sans', sans-serif" font-size="21" fill="#000" text-anchor="start" stroke="#000" stroke-width="0.3" >=</text>
<text x="639.70" y="168.30" font-family="'Liberation Sans', sans-serif" font-size="21" fill="#000" stroke="#000" stroke-width="0.3">3</text>
<line x1="658.2" y1="161.50" x2="680.0" y2="161.50" stroke="#8b0000" stroke-width="2.9" stroke-linecap="round"/>
<text x="595.20" y="190.50" font-family="'Liberation Sans', sans-serif" font-size="21" fill="#000" text-anchor="start" stroke="#000" stroke-width="0.3" ><tspan font-style="italic">N</tspan></text>
<line x1="613.00" y1="191.90" x2="613.00" y2="200.20" stroke="#222" stroke-width="1.25"/>
<path d="M610.70,192.80 L613.00,189.90 L615.30,192.80 L613.00,192.10 Z" fill="#222"/>
<text x="622.00" y="190.50" font-family="'Liberation Sans', sans-serif" font-size="21" fill="#000" text-anchor="start" stroke="#000" stroke-width="0.3" >=</text>
<text x="639.70" y="190.50" font-family="'Liberation Sans', sans-serif" font-size="21" fill="#000" stroke="#000" stroke-width="0.3">4</text>
<line x1="658.2" y1="183.70" x2="680.0" y2="183.70" stroke="#ff0000" stroke-width="2.9" stroke-linecap="round"/>
<text x="595.20" y="212.70" font-family="'Liberation Sans', sans-serif" font-size="21" fill="#000" text-anchor="start" stroke="#000" stroke-width="0.3" ><tspan font-style="italic">N</tspan></text>
<line x1="613.00" y1="214.10" x2="613.00" y2="222.40" stroke="#222" stroke-width="1.25"/>
<path d="M610.70,215.00 L613.00,212.10 L615.30,215.00 L613.00,214.30 Z" fill="#222"/>
<text x="622.00" y="212.70" font-family="'Liberation Sans', sans-serif" font-size="21" fill="#000" text-anchor="start" stroke="#000" stroke-width="0.3" >=</text>
<text x="639.70" y="212.70" font-family="'Liberation Sans', sans-serif" font-size="21" fill="#000" stroke="#000" stroke-width="0.3">5</text>
<line x1="658.2" y1="205.90" x2="680.0" y2="205.90" stroke="#ffa000" stroke-width="2.9" stroke-linecap="round"/>
<text x="595.20" y="234.90" font-family="'Liberation Sans', sans-serif" font-size="21" fill="#000" text-anchor="start" stroke="#000" stroke-width="0.3" ><tspan font-style="italic">N</tspan></text>
<line x1="613.00" y1="236.30" x2="613.00" y2="244.60" stroke="#222" stroke-width="1.25"/>
<path d="M610.70,237.20 L613.00,234.30 L615.30,237.20 L613.00,236.50 Z" fill="#222"/>
<text x="622.00" y="234.90" font-family="'Liberation Sans', sans-serif" font-size="21" fill="#000" text-anchor="start" stroke="#000" stroke-width="0.3" >=</text>
<text x="639.70" y="234.90" font-family="'Liberation Sans', sans-serif" font-size="21" fill="#000" stroke="#000" stroke-width="0.3">6</text>
<line x1="658.2" y1="228.10" x2="680.0" y2="228.10" stroke="#ffe000" stroke-width="2.9" stroke-linecap="round"/>
<g clip-path="url(#cd)" fill="none" stroke-width="2.3">
<path d="M590.10,741.58 L591.45,741.31 L592.81,741.04 L594.16,740.77 L595.51,740.50 L596.86,740.24 L598.22,739.98 L599.57,739.72 L600.92,739.46 L602.27,739.20 L603.63,738.95 L604.98,738.70 L606.33,738.45 L607.68,738.20 L609.04,737.96 L610.39,737.71 L611.74,737.47 L613.09,737.23 L614.45,736.99 L615.80,736.76 L617.15,736.52 L618.50,736.29 L619.86,736.06 L621.21,735.82 L622.56,735.59 L623.91,735.37 L625.27,735.14 L626.62,734.91 L627.97,734.69 L629.32,734.46 L630.68,734.24 L632.03,734.02 L633.38,733.80 L634.73,733.58 L636.09,733.36 L637.44,733.14 L638.79,732.92 L640.14,732.71 L641.50,732.49 L642.85,732.28 L644.20,732.06 L645.55,731.84 L646.91,731.63 L648.26,731.42 L649.61,731.20 L650.96,730.99 L652.32,730.78 L653.67,730.56 L655.02,730.35 L656.37,730.14 L657.73,729.92 L659.08,729.71 L660.43,729.50 L661.78,729.28 L663.14,729.07 L664.49,728.85 L665.84,728.64 L667.19,728.43 L668.55,728.21 L669.90,727.99 L671.25,727.78 L672.60,727.56 L673.96,727.34 L675.31,727.13 L676.66,726.91 L678.01,726.69 L679.37,726.47 L680.72,726.25 L682.07,726.02 L683.42,725.80 L684.78,725.57 L686.13,725.35 L687.48,725.12 L688.83,724.89 L690.19,724.67 L691.54,724.43 L692.89,724.20 L694.24,723.97 L695.60,723.73 L696.95,723.50 L698.30,723.26 L699.65,723.02 L701.01,722.78 L702.36,722.54 L703.71,722.29 L705.06,722.04 L706.42,721.79 L707.77,721.54 L709.12,721.29 L710.47,721.04 L711.83,720.78 L713.18,720.52 L714.53,720.26 L715.88,720.00 L717.24,719.73 L718.59,719.46 L719.94,719.19 L721.29,718.92 L722.65,718.64 L724.00,718.36 L725.35,718.08 L726.70,717.80 L728.06,717.51 L729.41,717.23 L730.76,716.93 L732.11,716.64 L733.47,716.34 L734.82,716.04 L736.17,715.74 L737.52,715.43 L738.88,715.12 L740.23,714.81 L741.58,714.49 L742.93,714.17 L744.29,713.85 L745.64,713.52 L746.99,713.19 L748.34,712.86 L749.70,712.52 L751.05,712.18 L752.40,711.83 L753.75,711.48 L755.11,711.13 L756.46,710.78 L757.81,710.42 L759.16,710.05 L760.52,709.69 L761.87,709.31 L763.22,708.94 L764.57,708.56 L765.93,708.17 L767.28,707.79 L768.63,707.39 L769.98,707.00 L771.34,706.59 L772.69,706.19 L774.04,705.78 L775.39,705.36 L776.75,704.94 L778.10,704.52 L779.45,704.09 L780.80,703.65 L782.16,703.22 L783.51,702.77 L784.86,702.32 L786.21,701.87 L787.57,701.41 L788.92,700.95 L790.27,700.48 L791.62,700.00 L792.98,699.53 L794.33,699.04 L795.68,698.55 L797.03,698.05 L798.39,697.55 L799.74,697.05 L801.09,696.54 L802.44,696.02 L803.80,695.49 L805.15,694.97 L806.50,694.43 L807.85,693.89 L809.21,693.34 L810.56,692.79 L811.91,692.23 L813.26,691.67 L814.62,691.10 L815.97,690.52 L817.32,689.94 L818.67,689.35 L820.03,688.75 L821.38,688.15 L822.73,687.54 L824.08,686.93 L825.44,686.31 L826.79,685.68 L828.14,685.05 L829.49,684.41 L830.85,683.76 L832.20,683.10 L833.55,682.44 L834.90,681.77 L836.26,681.09 L837.61,680.40 L838.96,679.70 L840.31,678.99 L841.67,678.27 L843.02,677.54 L844.37,676.80 L845.72,676.05 L847.08,675.29 L848.43,674.51 L849.78,673.72 L851.13,672.92 L852.49,672.10 L853.84,671.27 L855.19,670.42 L856.54,669.56 L857.90,668.69 L859.25,667.80 L860.60,666.89 L861.95,665.97 L863.31,665.03 L864.66,664.07 L866.01,663.09 L867.36,662.10 L868.72,661.09 L870.07,660.06 L871.42,659.01 L872.77,657.94 L874.13,656.84 L875.48,655.73 L876.83,654.60 L878.18,653.45 L879.54,652.27 L880.89,651.07 L882.24,649.85 L883.59,648.61 L884.95,647.34 L886.30,646.05 L887.65,644.74 L889.00,643.40 L890.36,642.04 L891.71,640.66 L893.06,639.25 L894.41,637.82 L895.77,636.37 L897.12,634.90 L898.47,633.40 L899.82,631.87 L901.18,630.33 L902.53,628.76 L903.88,627.16 L905.23,625.54 L906.59,623.90 L907.94,622.24 L909.29,620.55 L910.64,618.83 L912.00,617.10 L913.35,615.33 L914.70,613.55 L916.05,611.74 L917.41,609.90 L918.76,608.04 L920.11,606.16 L921.46,604.25 L922.82,602.32 L924.17,600.36 L925.52,598.38 L926.87,596.37 L928.23,594.34 L929.58,592.28 L930.93,590.20 L932.29,588.09 L933.64,585.96 L934.99,583.80 L936.34,581.62 L937.70,579.41 L939.05,577.18 L940.40,574.92 L941.75,572.64 L943.11,570.34 L944.46,568.01 L945.81,565.66 L947.16,563.29 L948.52,560.90 L949.87,558.49 L951.22,556.05 L952.57,553.60 L953.93,551.12 L955.28,548.63 L956.63,546.11 L957.98,543.58 L959.34,541.03 L960.69,538.46 L962.04,535.87 L963.39,533.27 L964.75,530.65 L966.10,528.01 L967.45,525.36 L968.80,522.69 L970.16,520.01 L971.51,517.32 L972.86,514.61 L974.21,511.89 L975.57,509.16 L976.92,506.42 L978.27,503.67 L979.62,500.90 L980.98,498.13 L982.33,495.34 L983.68,492.55 L985.03,489.75 L986.39,486.94 L987.74,484.13 L989.09,481.31 L990.44,478.48 L991.80,475.65 L993.15,472.81 L994.50,469.97" stroke="#e8202a" stroke-width="2.9" stroke-dasharray="7.4 8.8" stroke-dashoffset="-4.2" stroke-linecap="round"/>
<path d="M590.10,765.74 L591.29,765.68 L592.48,765.63 L593.66,765.57 L594.85,765.51 L596.04,765.44 L597.23,765.38 L598.41,765.32 L599.60,765.26 L600.79,765.19 L601.98,765.12 L603.17,765.06 L604.35,764.99 L605.54,764.92 L606.73,764.85 L607.92,764.78 L609.10,764.71 L610.29,764.64 L611.48,764.56 L612.67,764.49 L613.86,764.41 L615.04,764.33 L616.23,764.25 L617.42,764.18 L618.61,764.09 L619.79,764.01 L620.98,763.93 L622.17,763.84 L623.36,763.76 L624.55,763.67 L625.73,763.58 L626.92,763.49 L628.11,763.40 L629.30,763.31 L630.48,763.22 L631.67,763.12 L632.86,763.03 L634.05,762.93 L635.24,762.83 L636.42,762.73 L637.61,762.63 L638.80,762.52 L639.99,762.42 L641.17,762.31 L642.36,762.20 L643.55,762.09 L644.74,761.98 L645.92,761.87 L647.11,761.75 L648.30,761.64 L649.49,761.52 L650.68,761.40 L651.86,761.28 L653.05,761.15 L654.24,761.03 L655.43,760.90 L656.61,760.77 L657.80,760.64 L658.99,760.51 L660.18,760.37 L661.37,760.23 L662.55,760.10 L663.74,759.95 L664.93,759.81 L666.12,759.67 L667.30,759.52 L668.49,759.37 L669.68,759.22 L670.87,759.06 L672.06,758.91 L673.24,758.75 L674.43,758.59 L675.62,758.42 L676.81,758.26 L677.99,758.09 L679.18,757.92 L680.37,757.75 L681.56,757.57 L682.75,757.39 L683.93,757.21 L685.12,757.03 L686.31,756.84 L687.50,756.65 L688.68,756.46 L689.87,756.27 L691.06,756.07 L692.25,755.87 L693.44,755.67 L694.62,755.46 L695.81,755.25 L697.00,755.04 L698.19,754.82 L699.37,754.60 L700.56,754.38 L701.75,754.16 L702.94,753.93 L704.13,753.70 L705.31,753.46 L706.50,753.22 L707.69,752.98 L708.88,752.73 L710.06,752.48 L711.25,752.23 L712.44,751.97 L713.63,751.71 L714.82,751.45 L716.00,751.18 L717.19,750.91 L718.38,750.63 L719.57,750.35 L720.75,750.06 L721.94,749.77 L723.13,749.48 L724.32,749.18 L725.51,748.88 L726.69,748.58 L727.88,748.26 L729.07,747.95 L730.26,747.63 L731.44,747.30 L732.63,746.97 L733.82,746.64 L735.01,746.30 L736.19,745.96 L737.38,745.61 L738.57,745.25 L739.76,744.89 L740.95,744.53 L742.13,744.16 L743.32,743.78 L744.51,743.40 L745.70,743.01 L746.88,742.62 L748.07,742.22 L749.26,741.81 L750.45,741.40 L751.64,740.99 L752.82,740.56 L754.01,740.13 L755.20,739.70 L756.39,739.26 L757.57,738.81 L758.76,738.35 L759.95,737.89 L761.14,737.42 L762.33,736.95 L763.51,736.47 L764.70,735.98 L765.89,735.48 L767.08,734.98 L768.26,734.46 L769.45,733.94 L770.64,733.42 L771.83,732.88 L773.02,732.34 L774.20,731.79 L775.39,731.23 L776.58,730.67 L777.77,730.09 L778.95,729.51 L780.14,728.91 L781.33,728.31 L782.52,727.70 L783.71,727.08 L784.89,726.46 L786.08,725.82 L787.27,725.17 L788.46,724.52 L789.64,723.85 L790.83,723.18 L792.02,722.49 L793.21,721.79 L794.40,721.09 L795.58,720.37 L796.77,719.64 L797.96,718.91 L799.15,718.16 L800.33,717.40 L801.52,716.63 L802.71,715.85 L803.90,715.05 L805.09,714.25 L806.27,713.43 L807.46,712.60 L808.65,711.76 L809.84,710.90 L811.02,710.04 L812.21,709.16 L813.40,708.27 L814.59,707.36 L815.78,706.44 L816.96,705.51 L818.15,704.56 L819.34,703.60 L820.53,702.63 L821.71,701.64 L822.90,700.64 L824.09,699.62 L825.28,698.58 L826.47,697.54 L827.65,696.47 L828.84,695.39 L830.03,694.30 L831.22,693.19 L832.40,692.06 L833.59,690.91 L834.78,689.75 L835.97,688.57 L837.15,687.38 L838.34,686.16 L839.53,684.93 L840.72,683.68 L841.91,682.41 L843.09,681.13 L844.28,679.82 L845.47,678.50 L846.66,677.15 L847.84,675.79 L849.03,674.40 L850.22,673.00 L851.41,671.57 L852.60,670.12 L853.78,668.66 L854.97,667.17 L856.16,665.65 L857.35,664.12 L858.53,662.56 L859.72,660.98 L860.91,659.38 L862.10,657.75 L863.29,656.10 L864.47,654.43 L865.66,652.73 L866.85,651.00 L868.04,649.25 L869.22,647.48 L870.41,645.68 L871.60,643.85 L872.79,641.99 L873.98,640.11 L875.16,638.20 L876.35,636.26 L877.54,634.29 L878.73,632.29 L879.91,630.27 L881.10,628.21 L882.29,626.13 L883.48,624.01 L884.67,621.86 L885.85,619.68 L887.04,617.47 L888.23,615.22 L889.42,612.95 L890.60,610.63 L891.79,608.29 L892.98,605.91 L894.17,603.49 L895.36,601.04 L896.54,598.55 L897.73,596.03 L898.92,593.47 L900.11,590.87 L901.29,588.23 L902.48,585.56 L903.67,582.84 L904.86,580.09 L906.05,577.29 L907.23,574.45 L908.42,571.57 L909.61,568.65 L910.80,565.69 L911.98,562.68 L913.17,559.62 L914.36,556.53 L915.55,553.38 L916.74,550.19 L917.92,546.95 L919.11,543.67 L920.30,540.34 L921.49,536.95 L922.67,533.52 L923.86,530.04 L925.05,526.50 L926.24,522.92 L927.43,519.28 L928.61,515.58 L929.80,511.84 L930.99,508.03 L932.18,504.17 L933.36,500.26 L934.55,496.28 L935.74,492.25 L936.93,488.16 L938.11,484.01 L939.30,479.79 L940.49,475.52 L941.68,471.18 L942.87,466.78 L944.05,462.31 L945.24,457.77" stroke="#3346a6" stroke-width="3.0" stroke-dasharray="7.4 8.8" stroke-dashoffset="-4.2" stroke-linecap="round"/>
</g>
<rect x="581.4" y="464.3" width="428.90" height="302.10" fill="none" stroke="#1e1a1a" stroke-width="2.7" stroke-linejoin="round"/>
<line x1="590.10" y1="766.4" x2="590.10" y2="761.90" stroke="#1e1a1a" stroke-width="2.4" stroke-linecap="round"/>
<line x1="597.20" y1="464.3" x2="597.20" y2="468.80" stroke="#1e1a1a" stroke-width="2.4" stroke-linecap="round"/>
<line x1="669.55" y1="766.4" x2="669.55" y2="761.90" stroke="#1e1a1a" stroke-width="2.4" stroke-linecap="round"/>
<line x1="676.60" y1="464.3" x2="676.60" y2="468.80" stroke="#1e1a1a" stroke-width="2.4" stroke-linecap="round"/>
<line x1="749.00" y1="766.4" x2="749.00" y2="761.90" stroke="#1e1a1a" stroke-width="2.4" stroke-linecap="round"/>
<line x1="756.00" y1="464.3" x2="756.00" y2="468.80" stroke="#1e1a1a" stroke-width="2.4" stroke-linecap="round"/>
<line x1="828.45" y1="766.4" x2="828.45" y2="761.90" stroke="#1e1a1a" stroke-width="2.4" stroke-linecap="round"/>
<line x1="835.40" y1="464.3" x2="835.40" y2="468.80" stroke="#1e1a1a" stroke-width="2.4" stroke-linecap="round"/>
<line x1="907.90" y1="766.4" x2="907.90" y2="761.90" stroke="#1e1a1a" stroke-width="2.4" stroke-linecap="round"/>
<line x1="914.80" y1="464.3" x2="914.80" y2="468.80" stroke="#1e1a1a" stroke-width="2.4" stroke-linecap="round"/>
<line x1="987.35" y1="766.4" x2="987.35" y2="761.90" stroke="#1e1a1a" stroke-width="2.4" stroke-linecap="round"/>
<line x1="581.4" y1="665.50" x2="585.90" y2="665.50" stroke="#1e1a1a" stroke-width="2.4" stroke-linecap="round"/>
<line x1="581.4" y1="564.60" x2="585.90" y2="564.60" stroke="#1e1a1a" stroke-width="2.4" stroke-linecap="round"/>
<circle cx="590.10" cy="741.58" r="4.1" fill="#e83538" stroke="#7a1212" stroke-width="1.8"/>
<circle cx="669.55" cy="728.06" r="4.1" fill="#e83538" stroke="#7a1212" stroke-width="1.8"/>
<circle cx="749.00" cy="712.72" r="4.1" fill="#e83538" stroke="#7a1212" stroke-width="1.8"/>
<circle cx="828.45" cy="684.87" r="4.1" fill="#e83538" stroke="#7a1212" stroke-width="1.8"/>
<circle cx="914.26" cy="614.85" r="4.1" fill="#e83538" stroke="#7a1212" stroke-width="1.8"/>
<circle cx="994.50" cy="470.16" r="4.1" fill="#e83538" stroke="#7a1212" stroke-width="1.8"/>
<circle cx="590.10" cy="765.19" r="4.1" fill="#ccccea" stroke="#3346a6" stroke-width="1.8"/>
<circle cx="669.55" cy="759.74" r="4.1" fill="#ccccea" stroke="#3346a6" stroke-width="1.8"/>
<circle cx="749.00" cy="744.00" r="4.1" fill="#ccccea" stroke="#3346a6" stroke-width="1.8"/>
<circle cx="828.45" cy="694.36" r="4.1" fill="#ccccea" stroke="#3346a6" stroke-width="1.8"/>
<circle cx="914.26" cy="557.34" r="4.1" fill="#ccccea" stroke="#3346a6" stroke-width="1.8"/>
<text transform="translate(541.20,771.80) scale(1,1.08)" x="0" y="0" font-family="'Liberation Sans', sans-serif" font-size="21" fill="#000" stroke="#000" stroke-width="0.3">0</text>
<text transform="translate(546.20,671.00) scale(1,1.08)" x="0" y="0" font-family="'Liberation Sans', sans-serif" font-size="21" fill="#000" stroke="#000" stroke-width="0.3">0.5</text>
<path d="M553.68,566.50 L553.68,551.06 L552.18,551.06 L547.58,554.56 L547.58,556.60 L551.38,554.06 L551.38,566.50 Z" fill="#000"/>
<text transform="translate(585.16,791.20) scale(1,1.08)" x="0" y="0" font-family="'Liberation Sans', sans-serif" font-size="21" fill="#000" stroke="#000" stroke-width="0.3">3</text>
<text transform="translate(664.61,791.20) scale(1,1.08)" x="0" y="0" font-family="'Liberation Sans', sans-serif" font-size="21" fill="#000" stroke="#000" stroke-width="0.3">4</text>
<text transform="translate(744.06,791.20) scale(1,1.08)" x="0" y="0" font-family="'Liberation Sans', sans-serif" font-size="21" fill="#000" stroke="#000" stroke-width="0.3">5</text>
<text transform="translate(823.51,791.20) scale(1,1.08)" x="0" y="0" font-family="'Liberation Sans', sans-serif" font-size="21" fill="#000" stroke="#000" stroke-width="0.3">6</text>
<text transform="translate(902.96,791.20) scale(1,1.08)" x="0" y="0" font-family="'Liberation Sans', sans-serif" font-size="21" fill="#000" stroke="#000" stroke-width="0.3">7</text>
<text transform="translate(982.41,791.20) scale(1,1.08)" x="0" y="0" font-family="'Liberation Sans', sans-serif" font-size="21" fill="#000" stroke="#000" stroke-width="0.3">8</text>
<text x="644.90" y="817.80" font-family="'Liberation Sans', sans-serif" font-size="20.8" fill="#000" text-anchor="start" stroke="#000" stroke-width="0.3" >Number of Rydberg atoms in crystal</text>
<text transform="translate(527.3,769) rotate(-90)" font-family="'Liberation Sans', sans-serif" font-size="20.93" fill="#000" stroke="#000" stroke-width="0.3">Energy of 2D crystal, E (<tspan font-style="italic">h</tspan>·MHz)</text>
<circle cx="778" cy="595.8" r="39.2" fill="#fff" stroke="#6e6e6e" stroke-width="1.6"/>
<circle cx="804.00" cy="595.80" r="6.2" fill="#cacaf2" stroke="#0000d8" stroke-width="1.9"/>
<circle cx="794.21" cy="616.13" r="6.2" fill="#cacaf2" stroke="#0000d8" stroke-width="1.9"/>
<circle cx="772.21" cy="621.15" r="6.2" fill="#cacaf2" stroke="#0000d8" stroke-width="1.9"/>
<circle cx="754.57" cy="607.08" r="6.2" fill="#cacaf2" stroke="#0000d8" stroke-width="1.9"/>
<circle cx="754.57" cy="584.52" r="6.2" fill="#cacaf2" stroke="#0000d8" stroke-width="1.9"/>
<circle cx="772.21" cy="570.45" r="6.2" fill="#cacaf2" stroke="#0000d8" stroke-width="1.9"/>
<circle cx="794.21" cy="575.47" r="6.2" fill="#cacaf2" stroke="#0000d8" stroke-width="1.9"/>
<circle cx="940.6" cy="706.2" r="39.2" fill="#fff" stroke="#6e6e6e" stroke-width="1.6"/>
<circle cx="940.30" cy="706.30" r="6.6" fill="#e83535" stroke="#8a1515" stroke-width="1.5"/>
<circle cx="927.20" cy="683.60" r="6.6" fill="#e83535" stroke="#8a1515" stroke-width="1.5"/>
<circle cx="953.40" cy="683.60" r="6.6" fill="#e83535" stroke="#8a1515" stroke-width="1.5"/>
<circle cx="914.10" cy="706.30" r="6.6" fill="#e83535" stroke="#8a1515" stroke-width="1.5"/>
<circle cx="966.50" cy="706.30" r="6.6" fill="#e83535" stroke="#8a1515" stroke-width="1.5"/>
<circle cx="927.20" cy="729.00" r="6.6" fill="#e83535" stroke="#8a1515" stroke-width="1.5"/>
<circle cx="953.40" cy="729.00" r="6.6" fill="#e83535" stroke="#8a1515" stroke-width="1.5"/>
<path d="M820.2,574.3 Q848,562 880,558.3" fill="none" stroke="#3346a6" stroke-width="3.6" stroke-linecap="round"/>
<path d="M905,557.3 L871.2,545.6 L879,558.6 L872.2,572.7 Z" fill="#3346a6"/>
<path d="M955.7,663.8 L955.7,652 Q955,640 945,632" fill="none" stroke="#801818" stroke-width="3.6" stroke-linecap="round"/>
<path d="M922.9,618.2 L957.5,624.6 L944.7,631.9 L942.9,647 Z" fill="#801818"/>
</svg></body></html>
